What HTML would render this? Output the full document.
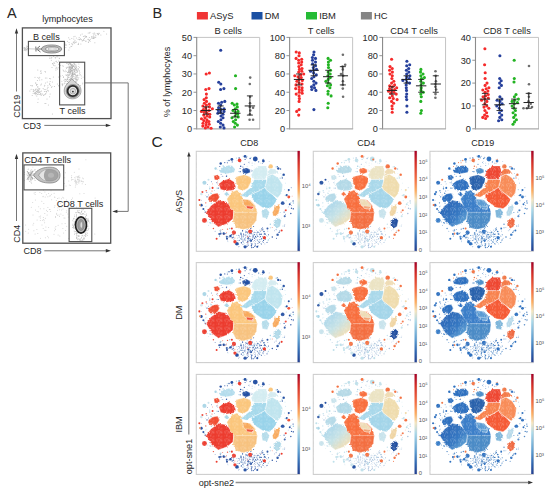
<!DOCTYPE html>
<html><head><meta charset="utf-8"><style>
html,body{margin:0;padding:0;background:#fff;width:550px;height:492px;overflow:hidden}
svg{display:block;font-family:"Liberation Sans",sans-serif}
</style></head><body>
<svg width="550" height="492" viewBox="0 0 550 492">
<text x="7" y="18.2" font-size="14.5" text-anchor="start" fill="#262626">A</text>
<text x="42.2" y="22" font-size="9.1" text-anchor="start" fill="#262626">lymphocytes</text>
<g fill="#8a8a8a" opacity="0.55"><circle cx="71.8" cy="38.5" r="0.5"/><circle cx="75.0" cy="40.2" r="0.5"/><circle cx="94.6" cy="37.7" r="0.5"/><circle cx="67.4" cy="41.3" r="0.5"/><circle cx="72.6" cy="44.8" r="0.5"/><circle cx="85.3" cy="37.2" r="0.5"/><circle cx="69.3" cy="44.3" r="0.5"/><circle cx="73.4" cy="42.2" r="0.5"/><circle cx="79.1" cy="37.5" r="0.5"/><circle cx="84.4" cy="38.6" r="0.5"/><circle cx="106.6" cy="33.9" r="0.5"/><circle cx="87.9" cy="39.2" r="0.5"/><circle cx="78.4" cy="44.4" r="0.5"/><circle cx="79.2" cy="39.2" r="0.5"/><circle cx="98.5" cy="34.4" r="0.5"/><circle cx="73.3" cy="42.0" r="0.5"/><circle cx="98.2" cy="34.8" r="0.5"/><circle cx="86.4" cy="36.5" r="0.5"/><circle cx="92.7" cy="38.2" r="0.5"/><circle cx="71.7" cy="46.4" r="0.5"/><circle cx="65.2" cy="42.9" r="0.5"/><circle cx="69.0" cy="42.4" r="0.5"/><circle cx="89.2" cy="40.0" r="0.5"/><circle cx="68.9" cy="50.0" r="0.5"/><circle cx="90.1" cy="41.3" r="0.5"/><circle cx="64.6" cy="46.5" r="0.5"/><circle cx="94.9" cy="42.7" r="0.5"/><circle cx="69.8" cy="47.7" r="0.5"/><circle cx="74.1" cy="43.0" r="0.5"/><circle cx="82.2" cy="40.8" r="0.5"/><circle cx="93.9" cy="34.8" r="0.5"/><circle cx="95.8" cy="36.9" r="0.5"/><circle cx="97.6" cy="33.4" r="0.5"/><circle cx="68.7" cy="37.8" r="0.5"/><circle cx="76.4" cy="42.0" r="0.5"/><circle cx="83.5" cy="39.3" r="0.5"/><circle cx="66.0" cy="45.1" r="0.5"/><circle cx="88.5" cy="42.2" r="0.5"/><circle cx="84.1" cy="40.3" r="0.5"/><circle cx="91.7" cy="38.1" r="0.5"/><circle cx="86.2" cy="36.5" r="0.5"/><circle cx="74.7" cy="41.8" r="0.5"/><circle cx="65.8" cy="47.4" r="0.5"/><circle cx="86.0" cy="40.9" r="0.5"/><circle cx="100.9" cy="34.9" r="0.5"/><circle cx="86.6" cy="37.0" r="0.5"/><circle cx="71.0" cy="46.2" r="0.5"/><circle cx="89.3" cy="37.5" r="0.5"/><circle cx="80.5" cy="38.8" r="0.5"/><circle cx="75.5" cy="42.2" r="0.5"/><circle cx="82.1" cy="34.1" r="0.5"/><circle cx="88.2" cy="32.9" r="0.5"/><circle cx="93.6" cy="38.1" r="0.5"/><circle cx="98.7" cy="33.3" r="0.5"/><circle cx="95.0" cy="34.0" r="0.5"/><circle cx="82.3" cy="40.7" r="0.5"/><circle cx="89.5" cy="40.4" r="0.5"/><circle cx="103.9" cy="31.3" r="0.5"/><circle cx="76.3" cy="38.1" r="0.5"/><circle cx="79.5" cy="39.8" r="0.5"/><circle cx="95.2" cy="37.6" r="0.5"/><circle cx="80.9" cy="44.1" r="0.5"/><circle cx="75.0" cy="36.3" r="0.5"/><circle cx="74.7" cy="43.1" r="0.5"/><circle cx="88.4" cy="39.3" r="0.5"/><circle cx="94.4" cy="32.9" r="0.5"/><circle cx="93.5" cy="38.6" r="0.5"/><circle cx="99.3" cy="33.3" r="0.5"/><circle cx="83.4" cy="40.2" r="0.5"/><circle cx="84.4" cy="35.9" r="0.5"/><circle cx="91.7" cy="36.8" r="0.5"/><circle cx="65.8" cy="44.6" r="0.5"/><circle cx="65.9" cy="45.2" r="0.5"/><circle cx="78.1" cy="44.5" r="0.5"/><circle cx="98.0" cy="34.5" r="0.5"/><circle cx="86.2" cy="36.6" r="0.5"/><circle cx="94.0" cy="36.7" r="0.5"/><circle cx="85.8" cy="41.3" r="0.5"/><circle cx="71.7" cy="43.8" r="0.5"/><circle cx="81.3" cy="39.6" r="0.5"/><circle cx="90.0" cy="32.2" r="0.5"/><circle cx="89.3" cy="40.5" r="0.5"/><circle cx="72.7" cy="44.0" r="0.5"/><circle cx="90.3" cy="39.2" r="0.5"/><circle cx="73.8" cy="39.0" r="0.5"/><circle cx="85.5" cy="36.1" r="0.5"/><circle cx="93.3" cy="35.9" r="0.5"/><circle cx="97.1" cy="33.5" r="0.5"/><circle cx="73.8" cy="36.7" r="0.5"/><circle cx="69.8" cy="39.3" r="0.5"/><circle cx="95.9" cy="35.5" r="0.5"/><circle cx="88.3" cy="42.0" r="0.5"/><circle cx="89.6" cy="33.1" r="0.5"/><circle cx="78.1" cy="39.3" r="0.5"/><circle cx="93.1" cy="33.3" r="0.5"/><circle cx="80.0" cy="39.5" r="0.5"/><circle cx="78.5" cy="43.2" r="0.5"/><circle cx="83.4" cy="36.5" r="0.5"/><circle cx="93.9" cy="38.4" r="0.5"/><circle cx="93.2" cy="37.6" r="0.5"/><circle cx="80.5" cy="35.1" r="0.5"/><circle cx="92.0" cy="36.8" r="0.5"/><circle cx="25.8" cy="48.3" r="0.5"/><circle cx="25.4" cy="49.9" r="0.5"/><circle cx="24.2" cy="50.4" r="0.5"/><circle cx="26.4" cy="47.2" r="0.5"/><circle cx="24.3" cy="49.6" r="0.5"/><circle cx="27.4" cy="46.4" r="0.5"/><circle cx="26.0" cy="50.8" r="0.5"/><circle cx="27.4" cy="48.2" r="0.5"/><circle cx="23.8" cy="48.1" r="0.5"/><circle cx="24.6" cy="48.3" r="0.5"/><circle cx="27.4" cy="48.2" r="0.5"/><circle cx="24.7" cy="48.1" r="0.5"/><circle cx="24.7" cy="49.8" r="0.5"/><circle cx="26.5" cy="49.4" r="0.5"/><circle cx="26.7" cy="46.1" r="0.5"/><circle cx="26.0" cy="50.1" r="0.5"/><circle cx="25.9" cy="48.2" r="0.5"/><circle cx="25.1" cy="48.2" r="0.5"/><circle cx="25.5" cy="49.3" r="0.5"/><circle cx="24.3" cy="47.5" r="0.5"/><circle cx="27.6" cy="49.7" r="0.5"/><circle cx="26.7" cy="49.5" r="0.5"/><circle cx="46.0" cy="91.3" r="0.5"/><circle cx="36.5" cy="84.4" r="0.5"/><circle cx="39.4" cy="91.8" r="0.5"/><circle cx="40.8" cy="85.1" r="0.5"/><circle cx="49.6" cy="96.8" r="0.5"/><circle cx="38.9" cy="78.5" r="0.5"/><circle cx="53.4" cy="77.1" r="0.5"/><circle cx="50.1" cy="81.4" r="0.5"/><circle cx="45.0" cy="71.4" r="0.5"/><circle cx="52.4" cy="82.0" r="0.5"/><circle cx="37.9" cy="102.6" r="0.5"/><circle cx="52.4" cy="114.1" r="0.5"/><circle cx="49.7" cy="83.2" r="0.5"/><circle cx="47.0" cy="98.9" r="0.5"/><circle cx="45.8" cy="89.6" r="0.5"/><circle cx="50.6" cy="78.7" r="0.5"/><circle cx="47.2" cy="82.0" r="0.5"/><circle cx="34.8" cy="93.0" r="0.5"/><circle cx="52.0" cy="86.6" r="0.5"/><circle cx="37.8" cy="70.0" r="0.5"/><circle cx="50.4" cy="85.2" r="0.5"/><circle cx="30.8" cy="85.5" r="0.5"/><circle cx="32.3" cy="85.8" r="0.5"/><circle cx="47.3" cy="88.8" r="0.5"/><circle cx="48.0" cy="87.4" r="0.5"/><circle cx="35.7" cy="82.9" r="0.5"/><circle cx="41.4" cy="84.1" r="0.5"/><circle cx="48.4" cy="91.0" r="0.5"/><circle cx="60.7" cy="65.5" r="0.5"/><circle cx="49.6" cy="84.4" r="0.5"/><circle cx="66.5" cy="93.5" r="0.5"/><circle cx="31.1" cy="89.2" r="0.5"/><circle cx="41.3" cy="93.9" r="0.5"/><circle cx="36.5" cy="85.2" r="0.5"/><circle cx="44.8" cy="85.2" r="0.5"/><circle cx="40.7" cy="71.3" r="0.5"/><circle cx="50.1" cy="94.0" r="0.5"/><circle cx="45.4" cy="77.9" r="0.5"/><circle cx="47.8" cy="90.5" r="0.5"/><circle cx="44.4" cy="85.9" r="0.5"/><circle cx="58.7" cy="77.1" r="0.5"/><circle cx="41.0" cy="70.8" r="0.5"/><circle cx="39.7" cy="80.1" r="0.5"/><circle cx="37.4" cy="80.4" r="0.5"/><circle cx="62.2" cy="84.4" r="0.5"/><circle cx="45.0" cy="103.6" r="0.5"/><circle cx="45.5" cy="72.1" r="0.5"/><circle cx="49.6" cy="78.5" r="0.5"/><circle cx="60.7" cy="76.0" r="0.5"/><circle cx="40.8" cy="73.2" r="0.5"/><circle cx="46.9" cy="77.9" r="0.5"/><circle cx="45.4" cy="83.0" r="0.5"/><circle cx="40.5" cy="93.5" r="0.5"/><circle cx="54.4" cy="86.5" r="0.5"/><circle cx="37.9" cy="77.4" r="0.5"/><circle cx="48.4" cy="105.1" r="0.5"/><circle cx="41.9" cy="79.7" r="0.5"/><circle cx="39.7" cy="77.2" r="0.5"/><circle cx="37.2" cy="84.4" r="0.5"/><circle cx="58.9" cy="86.0" r="0.5"/><circle cx="41.4" cy="73.1" r="0.5"/><circle cx="47.9" cy="85.8" r="0.5"/><circle cx="35.0" cy="77.3" r="0.5"/><circle cx="45.6" cy="94.1" r="0.5"/><circle cx="51.6" cy="87.6" r="0.5"/><circle cx="43.1" cy="88.6" r="0.5"/><circle cx="45.9" cy="103.4" r="0.5"/><circle cx="35.8" cy="83.1" r="0.5"/><circle cx="57.4" cy="83.9" r="0.5"/><circle cx="58.8" cy="85.6" r="0.5"/><circle cx="38.5" cy="91.1" r="0.5"/><circle cx="33.2" cy="89.6" r="0.5"/><circle cx="45.8" cy="93.6" r="0.5"/><circle cx="40.1" cy="94.4" r="0.5"/><circle cx="40.0" cy="94.6" r="0.5"/><circle cx="37.1" cy="91.4" r="0.5"/><circle cx="41.4" cy="91.1" r="0.5"/><circle cx="33.3" cy="91.4" r="0.5"/><circle cx="36.1" cy="93.5" r="0.5"/><circle cx="35.5" cy="89.3" r="0.5"/><circle cx="36.8" cy="95.9" r="0.5"/><circle cx="37.8" cy="92.4" r="0.5"/><circle cx="38.0" cy="92.7" r="0.5"/><circle cx="41.2" cy="95.5" r="0.5"/><circle cx="32.2" cy="95.4" r="0.5"/><circle cx="38.0" cy="91.2" r="0.5"/><circle cx="46.4" cy="91.6" r="0.5"/><circle cx="44.8" cy="94.4" r="0.5"/><circle cx="34.4" cy="93.2" r="0.5"/><circle cx="40.6" cy="91.7" r="0.5"/><circle cx="29.9" cy="91.1" r="0.5"/><circle cx="37.3" cy="89.2" r="0.5"/><circle cx="44.4" cy="91.4" r="0.5"/><circle cx="36.6" cy="91.3" r="0.5"/><circle cx="35.3" cy="90.1" r="0.5"/><circle cx="38.3" cy="92.8" r="0.5"/><circle cx="36.2" cy="91.8" r="0.5"/><circle cx="33.1" cy="93.3" r="0.5"/><circle cx="35.4" cy="92.5" r="0.5"/><circle cx="34.8" cy="90.7" r="0.5"/><circle cx="38.8" cy="89.0" r="0.5"/><circle cx="46.6" cy="91.9" r="0.5"/><circle cx="37.7" cy="90.2" r="0.5"/><circle cx="43.6" cy="95.5" r="0.5"/><circle cx="39.0" cy="88.6" r="0.5"/><circle cx="36.2" cy="93.5" r="0.5"/><circle cx="36.2" cy="89.0" r="0.5"/><circle cx="33.8" cy="90.1" r="0.5"/><circle cx="38.0" cy="90.4" r="0.5"/><circle cx="38.1" cy="99.0" r="0.5"/><circle cx="44.2" cy="89.4" r="0.5"/><circle cx="39.2" cy="92.2" r="0.5"/><circle cx="37.5" cy="94.6" r="0.5"/><circle cx="36.8" cy="91.2" r="0.5"/><circle cx="36.7" cy="91.7" r="0.5"/><circle cx="42.5" cy="93.9" r="0.5"/><circle cx="33.3" cy="90.9" r="0.5"/><circle cx="35.2" cy="94.0" r="0.5"/><circle cx="38.8" cy="94.2" r="0.5"/><circle cx="37.8" cy="87.2" r="0.5"/><circle cx="39.6" cy="92.6" r="0.5"/><circle cx="39.8" cy="88.7" r="0.5"/><circle cx="38.3" cy="90.3" r="0.5"/><circle cx="35.6" cy="92.9" r="0.5"/><circle cx="39.2" cy="89.8" r="0.5"/><circle cx="32.0" cy="85.8" r="0.5"/><circle cx="36.0" cy="94.8" r="0.5"/><circle cx="37.8" cy="86.4" r="0.5"/><circle cx="35.0" cy="93.1" r="0.5"/><circle cx="43.9" cy="94.9" r="0.5"/><circle cx="56.1" cy="61.2" r="0.5"/><circle cx="51.8" cy="57.3" r="0.5"/><circle cx="55.2" cy="57.6" r="0.5"/><circle cx="56.0" cy="68.6" r="0.5"/><circle cx="57.2" cy="62.5" r="0.5"/><circle cx="54.7" cy="63.3" r="0.5"/><circle cx="52.0" cy="67.5" r="0.5"/><circle cx="54.0" cy="62.2" r="0.5"/><circle cx="57.8" cy="56.7" r="0.5"/><circle cx="53.8" cy="65.5" r="0.5"/><circle cx="55.0" cy="65.7" r="0.5"/><circle cx="53.1" cy="64.3" r="0.5"/><circle cx="52.6" cy="63.6" r="0.5"/><circle cx="56.3" cy="67.3" r="0.5"/><circle cx="57.3" cy="69.1" r="0.5"/><circle cx="56.8" cy="56.7" r="0.5"/><circle cx="58.6" cy="61.0" r="0.5"/><circle cx="51.3" cy="57.9" r="0.5"/><circle cx="59.3" cy="58.2" r="0.5"/><circle cx="55.4" cy="57.9" r="0.5"/><circle cx="49.9" cy="56.9" r="0.5"/><circle cx="56.1" cy="61.2" r="0.5"/><circle cx="58.7" cy="64.3" r="0.5"/><circle cx="58.1" cy="67.8" r="0.5"/><circle cx="53.7" cy="56.4" r="0.5"/><circle cx="55.9" cy="70.0" r="0.5"/><circle cx="49.9" cy="58.6" r="0.5"/><circle cx="52.9" cy="63.4" r="0.5"/><circle cx="59.4" cy="58.2" r="0.5"/><circle cx="51.3" cy="60.3" r="0.5"/></g>
<g fill="#5a5a5a" opacity="0.5"><circle cx="63.0" cy="84.0" r="0.45"/><circle cx="76.8" cy="78.3" r="0.45"/><circle cx="75.5" cy="82.6" r="0.45"/><circle cx="62.1" cy="83.4" r="0.45"/><circle cx="67.5" cy="85.0" r="0.45"/><circle cx="67.3" cy="79.3" r="0.45"/><circle cx="67.2" cy="81.5" r="0.45"/><circle cx="73.5" cy="66.4" r="0.45"/><circle cx="76.9" cy="80.0" r="0.45"/><circle cx="71.8" cy="66.9" r="0.45"/><circle cx="69.6" cy="67.7" r="0.45"/><circle cx="74.2" cy="85.3" r="0.45"/><circle cx="71.5" cy="64.4" r="0.45"/><circle cx="74.2" cy="77.9" r="0.45"/><circle cx="72.8" cy="80.8" r="0.45"/><circle cx="73.3" cy="73.6" r="0.45"/><circle cx="73.0" cy="76.4" r="0.45"/><circle cx="71.6" cy="65.5" r="0.45"/><circle cx="72.5" cy="67.2" r="0.45"/><circle cx="75.6" cy="79.5" r="0.45"/><circle cx="72.5" cy="76.7" r="0.45"/><circle cx="74.2" cy="69.5" r="0.45"/><circle cx="72.1" cy="67.0" r="0.45"/><circle cx="68.2" cy="75.6" r="0.45"/><circle cx="67.9" cy="81.8" r="0.45"/><circle cx="72.6" cy="83.4" r="0.45"/><circle cx="68.1" cy="84.0" r="0.45"/><circle cx="78.1" cy="85.0" r="0.45"/><circle cx="72.2" cy="74.1" r="0.45"/><circle cx="73.8" cy="84.8" r="0.45"/><circle cx="67.2" cy="81.4" r="0.45"/><circle cx="75.5" cy="74.9" r="0.45"/><circle cx="77.0" cy="69.3" r="0.45"/><circle cx="71.7" cy="68.5" r="0.45"/><circle cx="69.6" cy="63.3" r="0.45"/><circle cx="72.9" cy="81.3" r="0.45"/><circle cx="69.7" cy="79.4" r="0.45"/><circle cx="70.9" cy="66.6" r="0.45"/><circle cx="71.6" cy="70.4" r="0.45"/><circle cx="80.6" cy="74.9" r="0.45"/><circle cx="75.7" cy="77.7" r="0.45"/><circle cx="71.9" cy="75.3" r="0.45"/><circle cx="72.0" cy="66.5" r="0.45"/><circle cx="71.7" cy="81.9" r="0.45"/><circle cx="73.0" cy="82.5" r="0.45"/><circle cx="70.7" cy="69.2" r="0.45"/><circle cx="76.7" cy="79.5" r="0.45"/><circle cx="74.7" cy="73.8" r="0.45"/><circle cx="62.2" cy="85.0" r="0.45"/><circle cx="68.4" cy="70.0" r="0.45"/><circle cx="61.9" cy="81.2" r="0.45"/><circle cx="75.1" cy="65.1" r="0.45"/><circle cx="73.7" cy="82.0" r="0.45"/><circle cx="77.2" cy="75.1" r="0.45"/><circle cx="73.3" cy="66.6" r="0.45"/><circle cx="69.3" cy="70.1" r="0.45"/><circle cx="70.9" cy="64.7" r="0.45"/><circle cx="77.2" cy="79.4" r="0.45"/><circle cx="71.3" cy="71.3" r="0.45"/><circle cx="70.3" cy="72.1" r="0.45"/><circle cx="79.5" cy="73.6" r="0.45"/><circle cx="70.2" cy="78.0" r="0.45"/><circle cx="69.1" cy="63.3" r="0.45"/><circle cx="75.6" cy="68.5" r="0.45"/><circle cx="71.4" cy="76.0" r="0.45"/><circle cx="72.2" cy="85.8" r="0.45"/><circle cx="74.0" cy="81.4" r="0.45"/><circle cx="76.7" cy="69.7" r="0.45"/><circle cx="68.9" cy="71.6" r="0.45"/><circle cx="71.2" cy="70.8" r="0.45"/><circle cx="70.5" cy="72.0" r="0.45"/><circle cx="69.9" cy="67.6" r="0.45"/><circle cx="66.2" cy="79.8" r="0.45"/><circle cx="81.4" cy="75.9" r="0.45"/><circle cx="67.4" cy="79.6" r="0.45"/><circle cx="76.6" cy="65.1" r="0.45"/><circle cx="75.7" cy="66.2" r="0.45"/><circle cx="76.2" cy="79.3" r="0.45"/><circle cx="67.1" cy="67.1" r="0.45"/><circle cx="77.0" cy="76.6" r="0.45"/><circle cx="72.2" cy="65.1" r="0.45"/><circle cx="73.7" cy="65.9" r="0.45"/><circle cx="79.9" cy="72.4" r="0.45"/><circle cx="75.9" cy="72.8" r="0.45"/><circle cx="67.6" cy="74.8" r="0.45"/><circle cx="64.7" cy="81.9" r="0.45"/><circle cx="70.1" cy="71.9" r="0.45"/><circle cx="74.3" cy="63.4" r="0.45"/><circle cx="68.6" cy="72.2" r="0.45"/><circle cx="71.3" cy="78.2" r="0.45"/><circle cx="71.6" cy="70.6" r="0.45"/><circle cx="71.0" cy="70.9" r="0.45"/><circle cx="70.5" cy="71.7" r="0.45"/><circle cx="73.9" cy="74.7" r="0.45"/><circle cx="63.6" cy="77.1" r="0.45"/><circle cx="72.7" cy="66.6" r="0.45"/><circle cx="62.6" cy="75.6" r="0.45"/><circle cx="69.9" cy="71.1" r="0.45"/><circle cx="72.0" cy="79.4" r="0.45"/><circle cx="62.7" cy="85.7" r="0.45"/><circle cx="71.1" cy="82.2" r="0.45"/><circle cx="76.2" cy="67.5" r="0.45"/><circle cx="70.5" cy="67.6" r="0.45"/><circle cx="72.1" cy="64.9" r="0.45"/><circle cx="78.4" cy="79.0" r="0.45"/><circle cx="75.1" cy="70.6" r="0.45"/><circle cx="70.3" cy="73.6" r="0.45"/><circle cx="73.6" cy="65.9" r="0.45"/><circle cx="71.5" cy="83.8" r="0.45"/><circle cx="66.8" cy="75.5" r="0.45"/><circle cx="70.4" cy="69.1" r="0.45"/><circle cx="82.4" cy="83.9" r="0.45"/><circle cx="71.6" cy="76.8" r="0.45"/><circle cx="73.1" cy="65.8" r="0.45"/><circle cx="67.9" cy="83.6" r="0.45"/><circle cx="66.4" cy="68.5" r="0.45"/><circle cx="69.4" cy="67.3" r="0.45"/><circle cx="73.0" cy="75.6" r="0.45"/><circle cx="72.4" cy="67.1" r="0.45"/><circle cx="80.0" cy="85.7" r="0.45"/><circle cx="70.1" cy="70.1" r="0.45"/><circle cx="71.6" cy="78.4" r="0.45"/><circle cx="67.6" cy="76.6" r="0.45"/><circle cx="75.5" cy="81.5" r="0.45"/><circle cx="72.3" cy="73.8" r="0.45"/><circle cx="69.1" cy="66.3" r="0.45"/><circle cx="74.6" cy="67.0" r="0.45"/><circle cx="71.5" cy="75.0" r="0.45"/><circle cx="76.7" cy="70.6" r="0.45"/><circle cx="78.8" cy="77.8" r="0.45"/><circle cx="73.1" cy="66.3" r="0.45"/><circle cx="66.7" cy="85.1" r="0.45"/><circle cx="69.4" cy="72.5" r="0.45"/><circle cx="69.1" cy="77.3" r="0.45"/><circle cx="64.0" cy="80.3" r="0.45"/><circle cx="80.0" cy="74.2" r="0.45"/><circle cx="71.6" cy="82.7" r="0.45"/><circle cx="67.4" cy="72.4" r="0.45"/><circle cx="74.9" cy="83.8" r="0.45"/><circle cx="67.5" cy="75.1" r="0.45"/><circle cx="71.1" cy="83.8" r="0.45"/><circle cx="77.5" cy="70.4" r="0.45"/><circle cx="75.0" cy="83.7" r="0.45"/><circle cx="65.1" cy="79.8" r="0.45"/><circle cx="68.6" cy="70.0" r="0.45"/><circle cx="74.1" cy="76.6" r="0.45"/><circle cx="72.9" cy="73.3" r="0.45"/><circle cx="70.9" cy="74.6" r="0.45"/><circle cx="73.0" cy="79.0" r="0.45"/><circle cx="72.3" cy="75.1" r="0.45"/><circle cx="75.3" cy="72.1" r="0.45"/><circle cx="78.6" cy="68.4" r="0.45"/><circle cx="77.4" cy="85.2" r="0.45"/><circle cx="75.4" cy="78.3" r="0.45"/><circle cx="67.9" cy="81.5" r="0.45"/><circle cx="71.9" cy="68.1" r="0.45"/><circle cx="64.7" cy="83.8" r="0.45"/><circle cx="72.4" cy="65.3" r="0.45"/><circle cx="69.8" cy="75.4" r="0.45"/><circle cx="76.3" cy="84.9" r="0.45"/><circle cx="72.0" cy="69.9" r="0.45"/><circle cx="79.1" cy="70.5" r="0.45"/><circle cx="76.3" cy="81.8" r="0.45"/><circle cx="68.8" cy="72.1" r="0.45"/><circle cx="74.8" cy="64.1" r="0.45"/><circle cx="73.8" cy="63.7" r="0.45"/><circle cx="69.8" cy="74.5" r="0.45"/><circle cx="78.4" cy="84.5" r="0.45"/><circle cx="71.5" cy="67.7" r="0.45"/><circle cx="78.6" cy="69.8" r="0.45"/><circle cx="68.8" cy="67.5" r="0.45"/><circle cx="68.3" cy="82.3" r="0.45"/><circle cx="74.8" cy="67.0" r="0.45"/><circle cx="75.7" cy="83.2" r="0.45"/><circle cx="71.9" cy="77.5" r="0.45"/><circle cx="72.7" cy="67.4" r="0.45"/><circle cx="71.4" cy="65.4" r="0.45"/><circle cx="67.9" cy="79.7" r="0.45"/><circle cx="82.9" cy="83.0" r="0.45"/><circle cx="77.1" cy="79.4" r="0.45"/><circle cx="78.6" cy="84.6" r="0.45"/><circle cx="74.5" cy="73.2" r="0.45"/><circle cx="73.2" cy="70.1" r="0.45"/><circle cx="73.0" cy="79.3" r="0.45"/><circle cx="74.0" cy="68.4" r="0.45"/><circle cx="73.2" cy="78.3" r="0.45"/><circle cx="67.5" cy="78.2" r="0.45"/><circle cx="68.6" cy="83.3" r="0.45"/><circle cx="70.6" cy="69.9" r="0.45"/><circle cx="69.7" cy="84.3" r="0.45"/><circle cx="68.7" cy="77.7" r="0.45"/><circle cx="75.0" cy="65.1" r="0.45"/><circle cx="71.5" cy="75.2" r="0.45"/><circle cx="77.6" cy="75.2" r="0.45"/><circle cx="73.3" cy="69.5" r="0.45"/><circle cx="72.5" cy="68.8" r="0.45"/><circle cx="70.6" cy="69.6" r="0.45"/><circle cx="72.1" cy="80.4" r="0.45"/><circle cx="75.6" cy="75.6" r="0.45"/><circle cx="79.4" cy="67.3" r="0.45"/><circle cx="67.3" cy="63.8" r="0.45"/><circle cx="72.0" cy="73.6" r="0.45"/><circle cx="66.4" cy="84.4" r="0.45"/><circle cx="74.3" cy="74.5" r="0.45"/><circle cx="77.4" cy="77.8" r="0.45"/><circle cx="68.4" cy="71.3" r="0.45"/><circle cx="65.7" cy="74.9" r="0.45"/><circle cx="75.6" cy="74.6" r="0.45"/><circle cx="66.6" cy="75.0" r="0.45"/><circle cx="76.6" cy="84.9" r="0.45"/><circle cx="76.7" cy="66.8" r="0.45"/><circle cx="72.5" cy="77.0" r="0.45"/><circle cx="77.5" cy="80.8" r="0.45"/><circle cx="73.0" cy="81.1" r="0.45"/><circle cx="69.0" cy="74.2" r="0.45"/><circle cx="68.6" cy="68.1" r="0.45"/><circle cx="70.5" cy="63.8" r="0.45"/><circle cx="70.7" cy="76.7" r="0.45"/><circle cx="65.0" cy="83.1" r="0.45"/><circle cx="72.3" cy="67.1" r="0.45"/><circle cx="72.7" cy="74.4" r="0.45"/><circle cx="69.1" cy="73.0" r="0.45"/><circle cx="73.5" cy="81.4" r="0.45"/><circle cx="75.0" cy="64.7" r="0.45"/><circle cx="68.9" cy="75.5" r="0.45"/><circle cx="72.2" cy="81.2" r="0.45"/><circle cx="74.0" cy="70.2" r="0.45"/><circle cx="70.5" cy="64.0" r="0.45"/><circle cx="77.5" cy="75.1" r="0.45"/><circle cx="70.8" cy="69.1" r="0.45"/><circle cx="70.8" cy="81.9" r="0.45"/><circle cx="71.9" cy="66.9" r="0.45"/><circle cx="74.9" cy="78.9" r="0.45"/><circle cx="72.4" cy="82.1" r="0.45"/><circle cx="70.6" cy="72.4" r="0.45"/><circle cx="74.1" cy="71.4" r="0.45"/><circle cx="78.9" cy="64.0" r="0.45"/><circle cx="72.9" cy="74.3" r="0.45"/><circle cx="63.2" cy="66.3" r="0.45"/><circle cx="72.0" cy="73.5" r="0.45"/><circle cx="71.1" cy="68.5" r="0.45"/><circle cx="75.5" cy="83.5" r="0.45"/><circle cx="74.7" cy="69.9" r="0.45"/><circle cx="72.9" cy="72.8" r="0.45"/><circle cx="72.7" cy="85.9" r="0.45"/><circle cx="71.6" cy="80.6" r="0.45"/><circle cx="69.6" cy="68.8" r="0.45"/><circle cx="72.3" cy="75.7" r="0.45"/><circle cx="78.4" cy="84.4" r="0.45"/><circle cx="66.5" cy="71.4" r="0.45"/><circle cx="83.1" cy="77.1" r="0.45"/><circle cx="68.9" cy="63.9" r="0.45"/><circle cx="74.2" cy="64.3" r="0.45"/><circle cx="69.5" cy="70.9" r="0.45"/><circle cx="63.5" cy="76.6" r="0.45"/><circle cx="66.6" cy="83.4" r="0.45"/><circle cx="73.3" cy="82.4" r="0.45"/><circle cx="72.5" cy="71.8" r="0.45"/><circle cx="69.5" cy="71.0" r="0.45"/><circle cx="70.2" cy="67.2" r="0.45"/><circle cx="71.4" cy="67.7" r="0.45"/><circle cx="69.3" cy="67.9" r="0.45"/><circle cx="72.7" cy="73.3" r="0.45"/><circle cx="66.9" cy="85.8" r="0.45"/><circle cx="66.2" cy="67.7" r="0.45"/><circle cx="77.3" cy="71.8" r="0.45"/><circle cx="74.5" cy="71.3" r="0.45"/><circle cx="74.2" cy="69.3" r="0.45"/><circle cx="72.3" cy="69.0" r="0.45"/><circle cx="77.4" cy="72.0" r="0.45"/><circle cx="69.5" cy="69.2" r="0.45"/><circle cx="77.0" cy="71.3" r="0.45"/><circle cx="79.2" cy="71.3" r="0.45"/><circle cx="70.1" cy="80.6" r="0.45"/><circle cx="66.5" cy="63.5" r="0.45"/><circle cx="70.9" cy="70.4" r="0.45"/><circle cx="73.5" cy="83.3" r="0.45"/><circle cx="72.6" cy="70.5" r="0.45"/><circle cx="68.8" cy="64.3" r="0.45"/><circle cx="72.1" cy="72.1" r="0.45"/><circle cx="72.9" cy="66.5" r="0.45"/><circle cx="75.9" cy="76.7" r="0.45"/><circle cx="72.7" cy="72.8" r="0.45"/><circle cx="76.5" cy="75.5" r="0.45"/><circle cx="76.0" cy="69.0" r="0.45"/><circle cx="70.6" cy="79.7" r="0.45"/><circle cx="70.4" cy="67.7" r="0.45"/><circle cx="71.2" cy="69.4" r="0.45"/><circle cx="68.2" cy="71.9" r="0.45"/><circle cx="72.7" cy="82.9" r="0.45"/><circle cx="75.0" cy="70.9" r="0.45"/><circle cx="72.7" cy="68.0" r="0.45"/><circle cx="72.3" cy="77.5" r="0.45"/><circle cx="76.4" cy="76.0" r="0.45"/><circle cx="63.0" cy="69.9" r="0.45"/><circle cx="74.9" cy="78.4" r="0.45"/><circle cx="70.3" cy="78.9" r="0.45"/><circle cx="81.3" cy="78.3" r="0.45"/><circle cx="70.1" cy="68.4" r="0.45"/><circle cx="76.2" cy="77.5" r="0.45"/><circle cx="74.2" cy="72.0" r="0.45"/><circle cx="70.2" cy="64.4" r="0.45"/><circle cx="74.5" cy="74.4" r="0.45"/><circle cx="73.9" cy="69.4" r="0.45"/><circle cx="75.5" cy="73.9" r="0.45"/><circle cx="70.8" cy="66.8" r="0.45"/><circle cx="70.2" cy="65.1" r="0.45"/><circle cx="70.1" cy="70.9" r="0.45"/><circle cx="73.2" cy="76.4" r="0.45"/><circle cx="64.8" cy="79.1" r="0.45"/><circle cx="70.7" cy="63.5" r="0.45"/><circle cx="71.1" cy="72.0" r="0.45"/><circle cx="73.1" cy="72.3" r="0.45"/><circle cx="68.4" cy="64.3" r="0.45"/><circle cx="72.2" cy="73.8" r="0.45"/><circle cx="72.0" cy="70.5" r="0.45"/><circle cx="72.8" cy="71.0" r="0.45"/><circle cx="68.0" cy="83.5" r="0.45"/><circle cx="70.5" cy="78.4" r="0.45"/><circle cx="67.7" cy="67.3" r="0.45"/><circle cx="73.5" cy="85.0" r="0.45"/><circle cx="64.0" cy="71.3" r="0.45"/><circle cx="66.3" cy="80.7" r="0.45"/><circle cx="68.5" cy="77.4" r="0.45"/><circle cx="69.2" cy="72.6" r="0.45"/><circle cx="75.4" cy="69.4" r="0.45"/><circle cx="65.1" cy="71.8" r="0.45"/><circle cx="75.0" cy="83.9" r="0.45"/><circle cx="72.5" cy="74.7" r="0.45"/><circle cx="65.7" cy="70.1" r="0.45"/><circle cx="78.4" cy="66.4" r="0.45"/><circle cx="72.6" cy="67.4" r="0.45"/><circle cx="77.0" cy="68.4" r="0.45"/><circle cx="69.6" cy="63.0" r="0.45"/><circle cx="71.1" cy="68.5" r="0.45"/><circle cx="68.9" cy="74.4" r="0.45"/><circle cx="67.3" cy="77.4" r="0.45"/><circle cx="77.7" cy="75.9" r="0.45"/><circle cx="63.6" cy="70.7" r="0.45"/><circle cx="74.4" cy="71.0" r="0.45"/><circle cx="69.2" cy="79.5" r="0.45"/><circle cx="67.1" cy="79.0" r="0.45"/><circle cx="69.4" cy="66.7" r="0.45"/><circle cx="68.4" cy="76.0" r="0.45"/><circle cx="70.6" cy="71.5" r="0.45"/><circle cx="79.0" cy="75.3" r="0.45"/><circle cx="72.0" cy="68.5" r="0.45"/><circle cx="74.8" cy="67.1" r="0.45"/><circle cx="73.1" cy="74.8" r="0.45"/><circle cx="72.7" cy="64.6" r="0.45"/><circle cx="71.6" cy="65.4" r="0.45"/><circle cx="70.1" cy="73.4" r="0.45"/><circle cx="68.9" cy="80.8" r="0.45"/><circle cx="72.4" cy="82.9" r="0.45"/><circle cx="76.0" cy="83.0" r="0.45"/><circle cx="73.1" cy="74.7" r="0.45"/><circle cx="65.5" cy="81.3" r="0.45"/><circle cx="75.3" cy="68.8" r="0.45"/><circle cx="69.9" cy="79.5" r="0.45"/><circle cx="76.1" cy="80.5" r="0.45"/><circle cx="75.3" cy="82.4" r="0.45"/><circle cx="67.5" cy="72.7" r="0.45"/><circle cx="65.3" cy="79.3" r="0.45"/><circle cx="65.1" cy="81.4" r="0.45"/><circle cx="68.9" cy="65.9" r="0.45"/><circle cx="75.4" cy="68.3" r="0.45"/><circle cx="76.1" cy="67.2" r="0.45"/><circle cx="72.7" cy="84.6" r="0.45"/><circle cx="78.0" cy="85.3" r="0.45"/><circle cx="76.5" cy="72.6" r="0.45"/><circle cx="63.3" cy="77.5" r="0.45"/><circle cx="80.3" cy="85.7" r="0.45"/><circle cx="71.7" cy="64.1" r="0.45"/><circle cx="70.7" cy="64.0" r="0.45"/><circle cx="70.7" cy="69.6" r="0.45"/><circle cx="62.8" cy="65.8" r="0.45"/><circle cx="76.5" cy="70.6" r="0.45"/><circle cx="72.9" cy="74.1" r="0.45"/></g>
<ellipse cx="51.6" cy="49" rx="10.2" ry="4.1" fill="#bdbdbd" stroke="#777" stroke-width="0.7"/>
<ellipse cx="52.2" cy="49" rx="6.8" ry="2.3" fill="#f2f2f2" stroke="#666" stroke-width="0.6"/>
<ellipse cx="52.2" cy="49" rx="4.3" ry="1.3" fill="none" stroke="#888" stroke-width="0.5"/>
<path d="M35.8 46.5 L36 51.5 M36.5 49 L40 46 M36.5 49 L40.5 52 M38 49 L42 49" stroke="#666" stroke-width="0.9" fill="none"/>
<path d="M29 48.8 L35 49" stroke="#aaa" stroke-width="0.6"/>
<path d="M71.8 78.6 C 75 83, 81 84.5, 81 90.8 C 81 96, 77 98.8, 72.5 98.8 C 67.8 98.8, 64.2 95.8, 64.2 90.8 C 64.2 85, 69 83, 71.8 78.6 Z" fill="#d6d6d6" stroke="#888" stroke-width="0.7"/>
<circle cx="72.8" cy="91" r="6.6" fill="#aaa" stroke="#777" stroke-width="0.6"/>
<circle cx="72.8" cy="91" r="5.2" fill="#e8e8e8" stroke="#2a2a2a" stroke-width="1.8"/>
<circle cx="72.9" cy="91.2" r="2.8" fill="#ddd" stroke="#888" stroke-width="0.5"/>
<circle cx="72.9" cy="91.6" r="0.9" fill="#333"/>
<rect x="22.4" y="27.9" width="88.6" height="90.7" stroke="#505050" stroke-width="1.3" fill="none"/>
<rect x="28.4" y="41.4" width="36" height="14.2" stroke="#505050" stroke-width="1.1" fill="none"/>
<rect x="59.6" y="62.2" width="25.1" height="42.7" stroke="#505050" stroke-width="1.1" fill="none"/>
<text x="32.9" y="40.3" font-size="9.1" text-anchor="start" fill="#262626">B cells</text>
<text x="59.6" y="114.3" font-size="9.0" text-anchor="start" fill="#262626">T cells</text>
<line x1="16.5" y1="33" x2="16.5" y2="91.5" stroke="#666" stroke-width="0.9"/>
<path d="M16.5 28.3 L14.8 33.4 L18.2 33.4 Z" fill="#333"/>
<text x="20.0" y="106.3" font-size="9" text-anchor="middle" fill="#262626" transform="rotate(-90 20.0 106.3)">CD19</text>
<text x="23" y="128.5" font-size="9" text-anchor="start" fill="#262626">CD3</text>
<line x1="44.3" y1="125.4" x2="106" y2="125.4" stroke="#666" stroke-width="0.9"/>
<path d="M111 125.4 L105.8 123.7 L105.8 127.1 Z" fill="#333"/>
<polyline points="84.7,82.9 128.2,82.9 128.2,211.4 117,211.4" fill="none" stroke="#666" stroke-width="0.9"/>
<path d="M112.3 211.4 L117.4 209.7 L117.4 213.1 Z" fill="#333"/>
<g fill="#999" opacity="0.45"><circle cx="42.4" cy="220.3" r="0.5"/><circle cx="48.6" cy="227.5" r="0.5"/><circle cx="67.8" cy="205.6" r="0.5"/><circle cx="54.8" cy="197.3" r="0.5"/><circle cx="55.5" cy="216.5" r="0.5"/><circle cx="63.1" cy="201.8" r="0.5"/><circle cx="43.9" cy="208.7" r="0.5"/><circle cx="50.6" cy="211.5" r="0.5"/><circle cx="43.8" cy="203.5" r="0.5"/><circle cx="43.0" cy="196.7" r="0.5"/><circle cx="54.6" cy="230.7" r="0.5"/><circle cx="43.7" cy="219.6" r="0.5"/><circle cx="57.5" cy="210.3" r="0.5"/><circle cx="62.8" cy="197.3" r="0.5"/><circle cx="60.9" cy="214.0" r="0.5"/><circle cx="35.5" cy="210.0" r="0.5"/><circle cx="85.9" cy="159.7" r="0.5"/><circle cx="50.4" cy="195.7" r="0.5"/><circle cx="61.6" cy="210.0" r="0.5"/><circle cx="56.6" cy="213.3" r="0.5"/><circle cx="35.1" cy="233.9" r="0.5"/><circle cx="44.9" cy="230.3" r="0.5"/><circle cx="63.0" cy="208.9" r="0.5"/><circle cx="54.3" cy="207.2" r="0.5"/><circle cx="28.7" cy="229.3" r="0.5"/><circle cx="64.8" cy="177.8" r="0.5"/><circle cx="59.3" cy="207.2" r="0.5"/><circle cx="67.4" cy="201.8" r="0.5"/><circle cx="48.6" cy="193.4" r="0.5"/><circle cx="54.9" cy="205.7" r="0.5"/><circle cx="41.8" cy="201.3" r="0.5"/><circle cx="40.3" cy="220.4" r="0.5"/><circle cx="36.9" cy="229.4" r="0.5"/><circle cx="44.1" cy="220.8" r="0.5"/><circle cx="63.7" cy="198.1" r="0.5"/><circle cx="64.0" cy="218.1" r="0.5"/><circle cx="51.4" cy="194.2" r="0.5"/><circle cx="47.8" cy="196.7" r="0.5"/><circle cx="59.0" cy="214.9" r="0.5"/><circle cx="42.0" cy="225.1" r="0.5"/><circle cx="40.4" cy="218.1" r="0.5"/><circle cx="40.5" cy="238.2" r="0.5"/><circle cx="55.1" cy="228.1" r="0.5"/><circle cx="49.3" cy="196.0" r="0.5"/><circle cx="48.5" cy="237.8" r="0.5"/><circle cx="65.4" cy="202.3" r="0.5"/><circle cx="58.1" cy="225.2" r="0.5"/><circle cx="61.0" cy="207.3" r="0.5"/><circle cx="41.7" cy="193.4" r="0.5"/><circle cx="45.2" cy="197.1" r="0.5"/><circle cx="66.0" cy="185.9" r="0.5"/><circle cx="31.3" cy="207.2" r="0.5"/><circle cx="43.5" cy="190.0" r="0.5"/><circle cx="43.3" cy="217.6" r="0.5"/><circle cx="35.2" cy="192.6" r="0.5"/><circle cx="47.9" cy="207.5" r="0.5"/><circle cx="39.9" cy="192.4" r="0.5"/><circle cx="34.1" cy="193.1" r="0.5"/><circle cx="60.4" cy="203.2" r="0.5"/><circle cx="51.0" cy="190.7" r="0.5"/><circle cx="25.7" cy="231.2" r="0.5"/><circle cx="40.3" cy="208.8" r="0.5"/><circle cx="64.4" cy="183.6" r="0.5"/><circle cx="79.8" cy="193.7" r="0.5"/><circle cx="57.9" cy="207.7" r="0.5"/><circle cx="69.3" cy="185.0" r="0.5"/><circle cx="33.0" cy="215.1" r="0.5"/><circle cx="59.0" cy="198.1" r="0.5"/><circle cx="47.7" cy="236.2" r="0.5"/><circle cx="68.8" cy="180.9" r="0.5"/><circle cx="54.7" cy="197.0" r="0.5"/><circle cx="47.1" cy="214.9" r="0.5"/><circle cx="66.3" cy="212.2" r="0.5"/><circle cx="72.0" cy="179.6" r="0.5"/><circle cx="59.5" cy="216.5" r="0.5"/><circle cx="28.2" cy="233.1" r="0.5"/><circle cx="94.8" cy="233.9" r="0.5"/><circle cx="58.1" cy="235.1" r="0.5"/><circle cx="70.4" cy="185.4" r="0.5"/><circle cx="59.8" cy="236.1" r="0.5"/><circle cx="49.4" cy="209.5" r="0.5"/><circle cx="44.6" cy="222.7" r="0.5"/><circle cx="43.1" cy="196.2" r="0.5"/><circle cx="55.5" cy="217.5" r="0.5"/><circle cx="57.5" cy="215.2" r="0.5"/><circle cx="72.5" cy="198.1" r="0.5"/><circle cx="45.4" cy="218.3" r="0.5"/><circle cx="76.5" cy="207.0" r="0.5"/><circle cx="45.9" cy="227.0" r="0.5"/><circle cx="65.7" cy="230.5" r="0.5"/><circle cx="25.6" cy="224.9" r="0.5"/><circle cx="37.1" cy="220.0" r="0.5"/><circle cx="37.8" cy="233.6" r="0.5"/><circle cx="54.0" cy="234.2" r="0.5"/><circle cx="66.5" cy="200.0" r="0.5"/><circle cx="46.5" cy="210.3" r="0.5"/><circle cx="40.6" cy="215.9" r="0.5"/><circle cx="45.4" cy="237.7" r="0.5"/><circle cx="46.4" cy="194.8" r="0.5"/><circle cx="44.8" cy="213.6" r="0.5"/><circle cx="61.6" cy="198.7" r="0.5"/><circle cx="39.2" cy="216.7" r="0.5"/><circle cx="65.4" cy="172.8" r="0.5"/><circle cx="35.1" cy="194.4" r="0.5"/><circle cx="64.9" cy="218.0" r="0.5"/><circle cx="33.9" cy="230.7" r="0.5"/><circle cx="44.9" cy="192.0" r="0.5"/><circle cx="83.3" cy="178.7" r="0.5"/><circle cx="37.1" cy="211.6" r="0.5"/><circle cx="38.4" cy="211.8" r="0.5"/><circle cx="95.1" cy="197.9" r="0.5"/><circle cx="68.0" cy="207.1" r="0.5"/><circle cx="68.3" cy="217.0" r="0.5"/><circle cx="33.0" cy="225.0" r="0.5"/><circle cx="55.9" cy="226.6" r="0.5"/><circle cx="62.0" cy="223.7" r="0.5"/><circle cx="51.7" cy="199.7" r="0.5"/><circle cx="63.6" cy="233.1" r="0.5"/><circle cx="65.1" cy="223.4" r="0.5"/><circle cx="84.0" cy="193.5" r="0.5"/><circle cx="66.7" cy="210.8" r="0.5"/><circle cx="32.7" cy="202.5" r="0.5"/><circle cx="45.9" cy="230.6" r="0.5"/><circle cx="66.7" cy="226.3" r="0.5"/><circle cx="56.7" cy="214.3" r="0.5"/><circle cx="38.7" cy="206.7" r="0.5"/><circle cx="54.1" cy="193.2" r="0.5"/><circle cx="47.4" cy="211.4" r="0.5"/><circle cx="55.5" cy="229.5" r="0.5"/><circle cx="35.4" cy="200.1" r="0.5"/><circle cx="56.4" cy="200.4" r="0.5"/><circle cx="57.5" cy="198.6" r="0.5"/><circle cx="71.2" cy="203.5" r="0.5"/><circle cx="33.7" cy="223.3" r="0.5"/><circle cx="79.0" cy="169.1" r="0.5"/><circle cx="50.0" cy="209.5" r="0.5"/><circle cx="68.8" cy="238.4" r="0.5"/><circle cx="62.9" cy="228.5" r="0.5"/><circle cx="59.6" cy="209.7" r="0.5"/><circle cx="67.9" cy="213.9" r="0.5"/><circle cx="63.0" cy="215.3" r="0.5"/><circle cx="43.2" cy="228.4" r="0.5"/><circle cx="71.6" cy="199.4" r="0.5"/><circle cx="71.5" cy="180.0" r="0.5"/><circle cx="76.0" cy="181.6" r="0.5"/><circle cx="77.8" cy="177.7" r="0.5"/><circle cx="75.9" cy="182.3" r="0.5"/><circle cx="75.2" cy="180.4" r="0.5"/><circle cx="75.0" cy="181.4" r="0.5"/><circle cx="83.4" cy="181.7" r="0.5"/><circle cx="81.4" cy="181.4" r="0.5"/><circle cx="75.1" cy="179.1" r="0.5"/><circle cx="78.2" cy="181.4" r="0.5"/><circle cx="76.2" cy="181.9" r="0.5"/><circle cx="75.8" cy="180.2" r="0.5"/><circle cx="78.0" cy="176.5" r="0.5"/><circle cx="81.1" cy="180.2" r="0.5"/><circle cx="78.3" cy="179.9" r="0.5"/><circle cx="71.6" cy="175.8" r="0.5"/><circle cx="75.3" cy="183.0" r="0.5"/><circle cx="76.3" cy="181.9" r="0.5"/><circle cx="74.9" cy="177.5" r="0.5"/><circle cx="76.6" cy="183.2" r="0.5"/><circle cx="73.0" cy="179.5" r="0.5"/><circle cx="79.3" cy="180.4" r="0.5"/><circle cx="78.0" cy="182.4" r="0.5"/><circle cx="78.9" cy="177.0" r="0.5"/><circle cx="79.9" cy="177.7" r="0.5"/><circle cx="77.0" cy="184.4" r="0.5"/><circle cx="85.4" cy="184.4" r="0.5"/><circle cx="79.3" cy="177.7" r="0.5"/><circle cx="75.7" cy="185.1" r="0.5"/><circle cx="79.0" cy="175.8" r="0.5"/><circle cx="82.8" cy="181.8" r="0.5"/><circle cx="82.0" cy="181.2" r="0.5"/><circle cx="71.5" cy="177.8" r="0.5"/><circle cx="77.6" cy="179.5" r="0.5"/><circle cx="82.6" cy="178.0" r="0.5"/><circle cx="77.7" cy="179.8" r="0.5"/><circle cx="77.7" cy="176.9" r="0.5"/><circle cx="74.3" cy="172.2" r="0.5"/><circle cx="79.0" cy="179.4" r="0.5"/><circle cx="78.6" cy="176.8" r="0.5"/><circle cx="78.0" cy="177.1" r="0.5"/><circle cx="75.0" cy="181.0" r="0.5"/><circle cx="79.9" cy="181.8" r="0.5"/><circle cx="77.9" cy="178.9" r="0.5"/><circle cx="82.2" cy="183.8" r="0.5"/><circle cx="76.1" cy="176.7" r="0.5"/><circle cx="79.1" cy="181.0" r="0.5"/><circle cx="75.3" cy="186.9" r="0.5"/><circle cx="71.7" cy="177.5" r="0.5"/><circle cx="78.8" cy="183.0" r="0.5"/></g>
<g fill="#777" opacity="0.5"><circle cx="26.3" cy="174.1" r="0.45"/><circle cx="34.6" cy="180.1" r="0.45"/><circle cx="30.4" cy="175.6" r="0.45"/><circle cx="28.8" cy="176.8" r="0.45"/><circle cx="28.4" cy="169.0" r="0.45"/><circle cx="27.2" cy="175.7" r="0.45"/><circle cx="27.7" cy="179.1" r="0.45"/><circle cx="34.2" cy="178.7" r="0.45"/><circle cx="32.7" cy="179.2" r="0.45"/><circle cx="31.7" cy="178.3" r="0.45"/><circle cx="32.2" cy="178.0" r="0.45"/><circle cx="28.5" cy="173.4" r="0.45"/><circle cx="28.5" cy="178.2" r="0.45"/><circle cx="32.3" cy="173.0" r="0.45"/><circle cx="28.5" cy="173.7" r="0.45"/><circle cx="33.2" cy="175.2" r="0.45"/><circle cx="30.4" cy="173.3" r="0.45"/><circle cx="30.7" cy="180.7" r="0.45"/><circle cx="29.3" cy="174.4" r="0.45"/><circle cx="35.3" cy="177.8" r="0.45"/><circle cx="28.1" cy="179.0" r="0.45"/><circle cx="27.8" cy="177.3" r="0.45"/><circle cx="24.7" cy="172.3" r="0.45"/><circle cx="33.3" cy="173.6" r="0.45"/><circle cx="29.2" cy="175.7" r="0.45"/><circle cx="31.0" cy="174.0" r="0.45"/><circle cx="29.3" cy="181.3" r="0.45"/><circle cx="34.8" cy="176.6" r="0.45"/><circle cx="28.1" cy="173.8" r="0.45"/><circle cx="30.3" cy="177.1" r="0.45"/><circle cx="35.1" cy="173.8" r="0.45"/><circle cx="31.4" cy="174.1" r="0.45"/><circle cx="31.4" cy="173.3" r="0.45"/><circle cx="32.0" cy="179.3" r="0.45"/><circle cx="30.0" cy="174.5" r="0.45"/><circle cx="31.3" cy="171.3" r="0.45"/><circle cx="35.6" cy="171.2" r="0.45"/><circle cx="30.1" cy="172.7" r="0.45"/><circle cx="34.8" cy="174.0" r="0.45"/><circle cx="29.7" cy="181.6" r="0.45"/><circle cx="30.7" cy="173.0" r="0.45"/><circle cx="31.0" cy="176.1" r="0.45"/><circle cx="29.1" cy="174.9" r="0.45"/><circle cx="30.5" cy="177.9" r="0.45"/><circle cx="33.0" cy="178.2" r="0.45"/><circle cx="30.7" cy="178.1" r="0.45"/><circle cx="30.5" cy="179.3" r="0.45"/><circle cx="32.0" cy="174.2" r="0.45"/><circle cx="34.1" cy="170.6" r="0.45"/><circle cx="28.6" cy="173.0" r="0.45"/><circle cx="30.7" cy="171.6" r="0.45"/><circle cx="28.0" cy="169.4" r="0.45"/><circle cx="31.3" cy="173.0" r="0.45"/><circle cx="36.5" cy="178.0" r="0.45"/><circle cx="28.1" cy="179.8" r="0.45"/><circle cx="31.3" cy="179.0" r="0.45"/><circle cx="28.2" cy="179.3" r="0.45"/><circle cx="33.8" cy="174.2" r="0.45"/><circle cx="28.9" cy="174.3" r="0.45"/><circle cx="31.7" cy="183.3" r="0.45"/><circle cx="35.6" cy="180.4" r="0.45"/><circle cx="30.5" cy="174.5" r="0.45"/><circle cx="31.9" cy="174.6" r="0.45"/><circle cx="29.8" cy="174.9" r="0.45"/><circle cx="33.1" cy="175.3" r="0.45"/><circle cx="31.6" cy="174.7" r="0.45"/><circle cx="30.5" cy="174.5" r="0.45"/><circle cx="34.2" cy="176.3" r="0.45"/><circle cx="34.8" cy="175.0" r="0.45"/><circle cx="33.7" cy="171.1" r="0.45"/><circle cx="30.0" cy="175.3" r="0.45"/><circle cx="29.4" cy="175.2" r="0.45"/><circle cx="28.7" cy="175.0" r="0.45"/><circle cx="29.3" cy="175.5" r="0.45"/><circle cx="30.3" cy="172.3" r="0.45"/><circle cx="30.0" cy="175.6" r="0.45"/><circle cx="27.8" cy="175.8" r="0.45"/><circle cx="34.2" cy="174.8" r="0.45"/><circle cx="32.4" cy="177.5" r="0.45"/><circle cx="29.0" cy="179.8" r="0.45"/><circle cx="37.3" cy="172.2" r="0.45"/><circle cx="36.4" cy="173.2" r="0.45"/><circle cx="34.7" cy="169.7" r="0.45"/><circle cx="33.9" cy="176.0" r="0.45"/><circle cx="27.8" cy="172.9" r="0.45"/><circle cx="28.4" cy="172.6" r="0.45"/><circle cx="32.0" cy="174.9" r="0.45"/><circle cx="24.7" cy="174.5" r="0.45"/><circle cx="32.2" cy="175.8" r="0.45"/><circle cx="35.3" cy="169.6" r="0.45"/><circle cx="31.6" cy="175.6" r="0.45"/><circle cx="32.8" cy="171.2" r="0.45"/><circle cx="27.7" cy="175.0" r="0.45"/><circle cx="31.2" cy="169.7" r="0.45"/><circle cx="31.9" cy="175.5" r="0.45"/><circle cx="32.9" cy="167.1" r="0.45"/><circle cx="32.3" cy="172.7" r="0.45"/><circle cx="29.8" cy="178.0" r="0.45"/><circle cx="35.3" cy="176.0" r="0.45"/><circle cx="30.7" cy="179.7" r="0.45"/><circle cx="28.8" cy="175.0" r="0.45"/><circle cx="29.7" cy="172.4" r="0.45"/><circle cx="31.5" cy="182.1" r="0.45"/><circle cx="31.6" cy="177.1" r="0.45"/><circle cx="30.9" cy="179.2" r="0.45"/><circle cx="31.5" cy="172.7" r="0.45"/><circle cx="31.3" cy="180.2" r="0.45"/><circle cx="30.8" cy="179.4" r="0.45"/><circle cx="30.8" cy="182.0" r="0.45"/><circle cx="31.7" cy="177.6" r="0.45"/><circle cx="30.3" cy="178.2" r="0.45"/><circle cx="30.4" cy="170.8" r="0.45"/><circle cx="31.8" cy="171.6" r="0.45"/><circle cx="34.7" cy="178.1" r="0.45"/><circle cx="31.1" cy="177.7" r="0.45"/><circle cx="24.5" cy="180.5" r="0.45"/><circle cx="29.4" cy="177.7" r="0.45"/><circle cx="37.5" cy="170.3" r="0.45"/><circle cx="30.0" cy="176.6" r="0.45"/><circle cx="32.1" cy="170.1" r="0.45"/></g>
<path d="M33.5 175.2 C 38 168.5, 44 167.2, 50 167.2 C 56.5 167.2, 60 170.5, 60 175.2 C 60 180, 56.5 183, 50 183 C 44 183, 38 182, 33.5 175.2 Z" fill="#c2c2c2" stroke="#7a7a7a" stroke-width="0.7"/>
<path d="M38.5 175.2 C 41.5 171, 45 169.5, 49.5 169.5 C 55 169.5, 58 172, 58 175.2 C 58 178.5, 55 181, 49.5 181 C 45 181, 41.5 179.5, 38.5 175.2 Z" fill="#a4a4a4" stroke="#8a8a8a" stroke-width="0.5"/>
<path d="M39 175.2 C 41.5 171.5, 44 170, 46 170 C 43.5 172, 43 178.5, 46 180.5 C 44 180.5, 41.5 179, 39 175.2 Z" fill="#e4e4e4"/>
<ellipse cx="51" cy="175.2" rx="3" ry="2.5" fill="#b6b6b6"/>
<path d="M27 171 L33 179 M27 179.5 L33 171" stroke="#888" stroke-width="0.7"/>
<g fill="#666" opacity="0.55"><circle cx="76.9" cy="237.8" r="0.45"/><circle cx="76.4" cy="233.3" r="0.45"/><circle cx="74.6" cy="216.8" r="0.45"/><circle cx="73.1" cy="227.3" r="0.45"/><circle cx="87.9" cy="226.2" r="0.45"/><circle cx="76.9" cy="232.4" r="0.45"/><circle cx="86.1" cy="219.3" r="0.45"/><circle cx="83.2" cy="239.9" r="0.45"/><circle cx="89.0" cy="221.1" r="0.45"/><circle cx="76.5" cy="238.3" r="0.45"/><circle cx="85.8" cy="236.3" r="0.45"/><circle cx="86.7" cy="221.1" r="0.45"/><circle cx="85.9" cy="235.8" r="0.45"/><circle cx="86.7" cy="215.1" r="0.45"/><circle cx="87.5" cy="220.9" r="0.45"/><circle cx="77.0" cy="233.0" r="0.45"/><circle cx="79.8" cy="240.7" r="0.45"/><circle cx="86.4" cy="230.0" r="0.45"/><circle cx="77.8" cy="233.7" r="0.45"/><circle cx="78.9" cy="235.7" r="0.45"/><circle cx="86.1" cy="234.4" r="0.45"/><circle cx="74.1" cy="221.6" r="0.45"/><circle cx="81.5" cy="211.6" r="0.45"/><circle cx="86.4" cy="221.5" r="0.45"/><circle cx="82.0" cy="235.7" r="0.45"/><circle cx="78.2" cy="238.8" r="0.45"/><circle cx="87.2" cy="218.9" r="0.45"/><circle cx="84.4" cy="235.4" r="0.45"/><circle cx="75.2" cy="219.9" r="0.45"/><circle cx="83.2" cy="209.5" r="0.45"/><circle cx="73.9" cy="228.5" r="0.45"/><circle cx="84.9" cy="214.2" r="0.45"/><circle cx="84.0" cy="239.8" r="0.45"/><circle cx="86.5" cy="223.5" r="0.45"/><circle cx="81.5" cy="212.3" r="0.45"/><circle cx="86.6" cy="228.6" r="0.45"/><circle cx="84.6" cy="238.0" r="0.45"/><circle cx="82.3" cy="235.2" r="0.45"/><circle cx="82.5" cy="239.8" r="0.45"/><circle cx="73.6" cy="225.1" r="0.45"/><circle cx="75.1" cy="227.5" r="0.45"/><circle cx="87.3" cy="226.2" r="0.45"/><circle cx="87.0" cy="228.1" r="0.45"/><circle cx="76.2" cy="216.5" r="0.45"/><circle cx="73.8" cy="227.4" r="0.45"/><circle cx="78.3" cy="236.4" r="0.45"/><circle cx="86.4" cy="215.8" r="0.45"/><circle cx="74.9" cy="231.8" r="0.45"/><circle cx="74.7" cy="228.0" r="0.45"/><circle cx="86.3" cy="218.9" r="0.45"/><circle cx="88.4" cy="219.0" r="0.45"/><circle cx="85.4" cy="217.3" r="0.45"/><circle cx="72.6" cy="224.1" r="0.45"/><circle cx="79.6" cy="236.1" r="0.45"/><circle cx="80.0" cy="213.4" r="0.45"/><circle cx="75.9" cy="219.3" r="0.45"/><circle cx="87.0" cy="221.1" r="0.45"/><circle cx="87.2" cy="233.3" r="0.45"/><circle cx="76.9" cy="236.2" r="0.45"/><circle cx="72.7" cy="225.3" r="0.45"/><circle cx="74.4" cy="223.9" r="0.45"/><circle cx="88.0" cy="225.1" r="0.45"/><circle cx="80.1" cy="238.7" r="0.45"/><circle cx="76.4" cy="215.3" r="0.45"/><circle cx="86.9" cy="232.1" r="0.45"/><circle cx="73.6" cy="226.6" r="0.45"/><circle cx="87.2" cy="222.8" r="0.45"/><circle cx="75.7" cy="228.8" r="0.45"/><circle cx="82.9" cy="213.8" r="0.45"/><circle cx="84.8" cy="211.8" r="0.45"/><circle cx="80.8" cy="240.7" r="0.45"/><circle cx="74.3" cy="224.7" r="0.45"/><circle cx="73.2" cy="219.6" r="0.45"/><circle cx="74.1" cy="225.8" r="0.45"/><circle cx="79.0" cy="239.8" r="0.45"/><circle cx="74.5" cy="224.8" r="0.45"/><circle cx="83.0" cy="236.0" r="0.45"/><circle cx="85.0" cy="212.0" r="0.45"/><circle cx="89.2" cy="222.9" r="0.45"/><circle cx="77.9" cy="211.2" r="0.45"/><circle cx="79.1" cy="210.3" r="0.45"/><circle cx="82.9" cy="214.2" r="0.45"/><circle cx="83.5" cy="213.8" r="0.45"/><circle cx="81.3" cy="240.8" r="0.45"/><circle cx="87.9" cy="226.9" r="0.45"/><circle cx="76.7" cy="237.5" r="0.45"/><circle cx="74.7" cy="214.9" r="0.45"/><circle cx="87.8" cy="219.2" r="0.45"/><circle cx="87.9" cy="230.6" r="0.45"/><circle cx="87.5" cy="235.2" r="0.45"/><circle cx="85.4" cy="216.2" r="0.45"/><circle cx="84.0" cy="238.3" r="0.45"/><circle cx="81.4" cy="208.9" r="0.45"/><circle cx="76.8" cy="217.2" r="0.45"/><circle cx="80.2" cy="214.4" r="0.45"/><circle cx="86.3" cy="214.0" r="0.45"/><circle cx="82.8" cy="209.9" r="0.45"/><circle cx="73.4" cy="218.3" r="0.45"/><circle cx="76.5" cy="214.8" r="0.45"/><circle cx="76.1" cy="233.3" r="0.45"/><circle cx="86.9" cy="226.6" r="0.45"/><circle cx="82.7" cy="213.7" r="0.45"/><circle cx="76.6" cy="212.7" r="0.45"/><circle cx="78.6" cy="212.4" r="0.45"/><circle cx="78.5" cy="236.0" r="0.45"/><circle cx="83.8" cy="238.1" r="0.45"/><circle cx="77.8" cy="210.3" r="0.45"/><circle cx="77.0" cy="238.8" r="0.45"/><circle cx="86.4" cy="218.6" r="0.45"/><circle cx="88.0" cy="220.8" r="0.45"/><circle cx="88.6" cy="221.5" r="0.45"/><circle cx="77.9" cy="235.4" r="0.45"/><circle cx="74.1" cy="223.1" r="0.45"/><circle cx="88.9" cy="228.4" r="0.45"/><circle cx="74.3" cy="222.1" r="0.45"/><circle cx="80.8" cy="213.1" r="0.45"/><circle cx="83.3" cy="238.1" r="0.45"/><circle cx="81.4" cy="237.3" r="0.45"/><circle cx="86.1" cy="229.6" r="0.45"/><circle cx="76.7" cy="235.6" r="0.45"/><circle cx="88.0" cy="220.5" r="0.45"/><circle cx="75.3" cy="231.5" r="0.45"/><circle cx="81.6" cy="238.1" r="0.45"/><circle cx="86.6" cy="222.2" r="0.45"/><circle cx="74.1" cy="230.9" r="0.45"/><circle cx="81.6" cy="211.4" r="0.45"/><circle cx="75.7" cy="212.7" r="0.45"/><circle cx="86.1" cy="218.2" r="0.45"/><circle cx="72.8" cy="220.8" r="0.45"/><circle cx="75.1" cy="223.0" r="0.45"/><circle cx="81.6" cy="214.3" r="0.45"/><circle cx="85.2" cy="236.0" r="0.45"/><circle cx="79.9" cy="239.5" r="0.45"/><circle cx="80.1" cy="212.9" r="0.45"/><circle cx="81.8" cy="210.9" r="0.45"/><circle cx="79.1" cy="212.4" r="0.45"/><circle cx="75.7" cy="229.5" r="0.45"/><circle cx="72.7" cy="227.5" r="0.45"/><circle cx="85.3" cy="218.1" r="0.45"/><circle cx="86.7" cy="230.2" r="0.45"/><circle cx="78.7" cy="212.8" r="0.45"/><circle cx="85.7" cy="234.3" r="0.45"/><circle cx="74.1" cy="218.5" r="0.45"/><circle cx="74.9" cy="233.1" r="0.45"/><circle cx="77.9" cy="212.3" r="0.45"/><circle cx="88.3" cy="229.2" r="0.45"/><circle cx="84.9" cy="232.7" r="0.45"/><circle cx="75.6" cy="226.7" r="0.45"/><circle cx="87.0" cy="230.6" r="0.45"/><circle cx="75.3" cy="227.2" r="0.45"/><circle cx="88.7" cy="220.6" r="0.45"/><circle cx="73.8" cy="226.2" r="0.45"/><circle cx="77.6" cy="239.8" r="0.45"/><circle cx="85.6" cy="233.3" r="0.45"/><circle cx="82.5" cy="240.2" r="0.45"/><circle cx="74.3" cy="224.3" r="0.45"/><circle cx="74.4" cy="234.3" r="0.45"/><circle cx="80.6" cy="240.0" r="0.45"/><circle cx="79.2" cy="212.4" r="0.45"/><circle cx="76.5" cy="234.7" r="0.45"/></g>
<ellipse cx="81" cy="225" rx="5.5" ry="8.1" fill="#b5b5b5" stroke="#1e1e1e" stroke-width="1.6"/>
<ellipse cx="81" cy="225" rx="3.2" ry="5.5" fill="#9a9a9a" stroke="#777" stroke-width="0.5"/>
<ellipse cx="81.3" cy="225" rx="0.9" ry="3" fill="#ddd"/>
<rect x="22.8" y="152.9" width="87.9" height="90.3" stroke="#505050" stroke-width="1.3" fill="none"/>
<rect x="24" y="164.9" width="39.7" height="25" stroke="#505050" stroke-width="1.1" fill="none"/>
<rect x="69.1" y="208.3" width="22.7" height="33.3" stroke="#505050" stroke-width="1.1" fill="none"/>
<text x="24.2" y="162.6" font-size="9.15" text-anchor="start" fill="#262626">CD4 T cells</text>
<text x="56.7" y="207.2" font-size="9.1" text-anchor="start" fill="#262626">CD8 T cells</text>
<line x1="16.5" y1="158.5" x2="16.5" y2="221" stroke="#666" stroke-width="0.9"/>
<path d="M16.5 153.8 L14.8 158.9 L18.2 158.9 Z" fill="#333"/>
<text x="20.0" y="233.8" font-size="9" text-anchor="middle" fill="#262626" transform="rotate(-90 20.0 233.8)">CD4</text>
<text x="23.5" y="254" font-size="9" text-anchor="start" fill="#262626">CD8</text>
<line x1="44.3" y1="250.8" x2="106" y2="250.8" stroke="#666" stroke-width="0.9"/>
<path d="M111 250.8 L105.8 249.1 L105.8 252.5 Z" fill="#333"/>
<text x="152.5" y="18.2" font-size="14.5" text-anchor="start" fill="#262626">B</text>
<rect x="196.9" y="12" width="11" height="7.5" fill="#f03535"/>
<text x="210.1" y="19.4" font-size="9.4" text-anchor="start" fill="#262626">ASyS</text>
<rect x="251.5" y="12" width="11" height="7.5" fill="#1b50a3"/>
<text x="264.7" y="19.4" font-size="9.4" text-anchor="start" fill="#262626">DM</text>
<rect x="306" y="12" width="11" height="7.5" fill="#25bb35"/>
<text x="319.2" y="19.4" font-size="9.4" text-anchor="start" fill="#262626">IBM</text>
<rect x="360.9" y="12" width="11" height="7.5" fill="#858585"/>
<text x="374.09999999999997" y="19.4" font-size="9.4" text-anchor="start" fill="#262626">HC</text>
<path d="M196.7 37.4 H259.7 V128.8" fill="none" stroke="#c4c4c4" stroke-width="1"/>
<line x1="196.7" y1="37.1" x2="196.7" y2="129.3" stroke="#8c8c8c" stroke-width="1.1"/>
<line x1="196.2" y1="128.8" x2="260.2" y2="128.8" stroke="#ababab" stroke-width="1.3"/>
<line x1="193.5" y1="128.8" x2="196.7" y2="128.8" stroke="#888" stroke-width="0.9"/>
<text x="192.1" y="132.10000000000002" font-size="9.2" text-anchor="end" fill="#262626">0</text>
<line x1="193.5" y1="110.52000000000001" x2="196.7" y2="110.52000000000001" stroke="#888" stroke-width="0.9"/>
<text x="192.1" y="113.82000000000001" font-size="9.2" text-anchor="end" fill="#262626">10</text>
<line x1="193.5" y1="92.24000000000001" x2="196.7" y2="92.24000000000001" stroke="#888" stroke-width="0.9"/>
<text x="192.1" y="95.54" font-size="9.2" text-anchor="end" fill="#262626">20</text>
<line x1="193.5" y1="73.96000000000001" x2="196.7" y2="73.96000000000001" stroke="#888" stroke-width="0.9"/>
<text x="192.1" y="77.26" font-size="9.2" text-anchor="end" fill="#262626">30</text>
<line x1="193.5" y1="55.68000000000001" x2="196.7" y2="55.68000000000001" stroke="#888" stroke-width="0.9"/>
<text x="192.1" y="58.980000000000004" font-size="9.2" text-anchor="end" fill="#262626">40</text>
<line x1="193.5" y1="37.400000000000006" x2="196.7" y2="37.400000000000006" stroke="#888" stroke-width="0.9"/>
<text x="192.1" y="40.7" font-size="9.2" text-anchor="end" fill="#262626">50</text>
<text x="228.2" y="34.2" font-size="9.3" text-anchor="middle" fill="#262626">B cells</text>
<g fill="#f52a2a"><circle cx="206.3" cy="110.5" r="1.55"/><circle cx="209.0" cy="110.5" r="1.55"/><circle cx="203.4" cy="109.6" r="1.55"/><circle cx="201.4" cy="111.4" r="1.55"/><circle cx="212.4" cy="108.7" r="1.55"/><circle cx="204.2" cy="112.3" r="1.55"/><circle cx="205.8" cy="107.8" r="1.55"/><circle cx="207.1" cy="113.3" r="1.55"/><circle cx="209.5" cy="106.9" r="1.55"/><circle cx="209.8" cy="114.2" r="1.55"/><circle cx="202.9" cy="106.0" r="1.55"/><circle cx="203.7" cy="115.1" r="1.55"/><circle cx="207.1" cy="116.0" r="1.55"/><circle cx="206.4" cy="105.0" r="1.55"/><circle cx="209.3" cy="104.1" r="1.55"/><circle cx="209.7" cy="116.9" r="1.55"/><circle cx="204.4" cy="103.2" r="1.55"/><circle cx="204.9" cy="117.8" r="1.55"/><circle cx="201.5" cy="118.7" r="1.55"/><circle cx="206.5" cy="101.4" r="1.55"/><circle cx="206.9" cy="119.7" r="1.55"/><circle cx="203.8" cy="120.6" r="1.55"/><circle cx="204.1" cy="99.6" r="1.55"/><circle cx="208.9" cy="121.5" r="1.55"/><circle cx="206.4" cy="122.4" r="1.55"/><circle cx="206.3" cy="97.7" r="1.55"/><circle cx="203.0" cy="123.3" r="1.55"/><circle cx="209.2" cy="124.2" r="1.55"/><circle cx="206.0" cy="125.1" r="1.55"/><circle cx="202.8" cy="126.1" r="1.55"/><circle cx="206.4" cy="94.1" r="1.55"/><circle cx="208.0" cy="127.0" r="1.55"/><circle cx="205.4" cy="127.9" r="1.55"/><circle cx="211.1" cy="128.3" r="1.55"/><circle cx="205.8" cy="89.5" r="1.55"/><circle cx="209.0" cy="88.6" r="1.55"/><circle cx="206.2" cy="74.0" r="1.55"/><circle cx="209.4" cy="73.0" r="1.55"/></g>
<line x1="200.9" y1="110.52000000000001" x2="211.29999999999998" y2="110.52000000000001" stroke="#222" stroke-width="1.0"/>
<line x1="206.1" y1="106.864" x2="206.1" y2="114.17600000000002" stroke="#222" stroke-width="0.9"/>
<line x1="203.1" y1="106.864" x2="209.1" y2="106.864" stroke="#222" stroke-width="0.9"/>
<line x1="203.1" y1="114.17600000000002" x2="209.1" y2="114.17600000000002" stroke="#222" stroke-width="0.9"/>
<g fill="#26409c"><circle cx="221.1" cy="109.6" r="1.55"/><circle cx="224.0" cy="108.7" r="1.55"/><circle cx="218.4" cy="110.5" r="1.55"/><circle cx="218.6" cy="107.8" r="1.55"/><circle cx="224.0" cy="111.4" r="1.55"/><circle cx="220.6" cy="112.3" r="1.55"/><circle cx="217.8" cy="113.3" r="1.55"/><circle cx="220.7" cy="105.0" r="1.55"/><circle cx="223.0" cy="114.2" r="1.55"/><circle cx="218.5" cy="103.2" r="1.55"/><circle cx="221.0" cy="116.0" r="1.55"/><circle cx="221.7" cy="102.3" r="1.55"/><circle cx="224.8" cy="101.4" r="1.55"/><circle cx="223.0" cy="117.8" r="1.55"/><circle cx="220.9" cy="119.7" r="1.55"/><circle cx="218.3" cy="121.5" r="1.55"/><circle cx="220.6" cy="123.3" r="1.55"/><circle cx="223.0" cy="125.1" r="1.55"/><circle cx="220.3" cy="127.0" r="1.55"/><circle cx="224.0" cy="127.9" r="1.55"/><circle cx="220.6" cy="89.5" r="1.55"/><circle cx="223.9" cy="88.6" r="1.55"/><circle cx="220.8" cy="84.0" r="1.55"/><circle cx="218.7" cy="82.2" r="1.55"/><circle cx="220.7" cy="50.2" r="1.55"/></g>
<line x1="215.5" y1="109.60600000000001" x2="225.89999999999998" y2="109.60600000000001" stroke="#222" stroke-width="1.0"/>
<line x1="220.7" y1="105.95000000000002" x2="220.7" y2="113.26200000000001" stroke="#222" stroke-width="0.9"/>
<line x1="217.7" y1="105.95000000000002" x2="223.7" y2="105.95000000000002" stroke="#222" stroke-width="0.9"/>
<line x1="217.7" y1="113.26200000000001" x2="223.7" y2="113.26200000000001" stroke="#222" stroke-width="0.9"/>
<g fill="#22b322"><circle cx="235.4" cy="112.3" r="1.55"/><circle cx="237.5" cy="114.2" r="1.55"/><circle cx="238.0" cy="111.4" r="1.55"/><circle cx="235.1" cy="116.0" r="1.55"/><circle cx="233.0" cy="110.5" r="1.55"/><circle cx="238.2" cy="116.9" r="1.55"/><circle cx="232.0" cy="117.8" r="1.55"/><circle cx="235.3" cy="108.7" r="1.55"/><circle cx="235.6" cy="119.7" r="1.55"/><circle cx="237.3" cy="106.9" r="1.55"/><circle cx="233.3" cy="121.5" r="1.55"/><circle cx="234.3" cy="105.0" r="1.55"/><circle cx="237.0" cy="104.1" r="1.55"/><circle cx="232.2" cy="103.2" r="1.55"/><circle cx="235.3" cy="123.3" r="1.55"/><circle cx="237.4" cy="125.1" r="1.55"/><circle cx="234.6" cy="127.0" r="1.55"/><circle cx="235.6" cy="88.6" r="1.55"/><circle cx="235.5" cy="75.8" r="1.55"/></g>
<line x1="230.1" y1="113.26200000000001" x2="240.49999999999997" y2="113.26200000000001" stroke="#222" stroke-width="1.0"/>
<line x1="235.29999999999998" y1="109.60600000000001" x2="235.29999999999998" y2="116.918" stroke="#222" stroke-width="0.9"/>
<line x1="232.29999999999998" y1="109.60600000000001" x2="238.29999999999998" y2="109.60600000000001" stroke="#222" stroke-width="0.9"/>
<line x1="232.29999999999998" y1="116.918" x2="238.29999999999998" y2="116.918" stroke="#222" stroke-width="0.9"/>
<g fill="#6e6e6e"><circle cx="249.8" cy="106.9" r="1.3"/><circle cx="253.1" cy="107.8" r="1.3"/><circle cx="250.0" cy="103.2" r="1.3"/><circle cx="250.3" cy="110.5" r="1.3"/><circle cx="249.9" cy="114.2" r="1.3"/><circle cx="250.1" cy="96.8" r="1.3"/><circle cx="249.6" cy="119.7" r="1.3"/><circle cx="253.1" cy="119.7" r="1.3"/><circle cx="249.8" cy="84.0" r="1.3"/><circle cx="250.2" cy="77.6" r="1.3"/></g>
<line x1="244.7" y1="105.95000000000002" x2="255.09999999999997" y2="105.95000000000002" stroke="#222" stroke-width="1.0"/>
<line x1="249.89999999999998" y1="95.89600000000002" x2="249.89999999999998" y2="115.09" stroke="#222" stroke-width="0.9"/>
<line x1="246.89999999999998" y1="95.89600000000002" x2="252.89999999999998" y2="95.89600000000002" stroke="#222" stroke-width="0.9"/>
<line x1="246.89999999999998" y1="115.09" x2="252.89999999999998" y2="115.09" stroke="#222" stroke-width="0.9"/>
<path d="M289.63 37.4 H352.63 V128.8" fill="none" stroke="#c4c4c4" stroke-width="1"/>
<line x1="289.63" y1="37.1" x2="289.63" y2="129.3" stroke="#8c8c8c" stroke-width="1.1"/>
<line x1="289.13" y1="128.8" x2="353.13" y2="128.8" stroke="#ababab" stroke-width="1.3"/>
<line x1="286.43" y1="128.8" x2="289.63" y2="128.8" stroke="#888" stroke-width="0.9"/>
<text x="285.03" y="132.10000000000002" font-size="9.2" text-anchor="end" fill="#262626">0</text>
<line x1="286.43" y1="110.52000000000001" x2="289.63" y2="110.52000000000001" stroke="#888" stroke-width="0.9"/>
<text x="285.03" y="113.82000000000001" font-size="9.2" text-anchor="end" fill="#262626">20</text>
<line x1="286.43" y1="92.24000000000001" x2="289.63" y2="92.24000000000001" stroke="#888" stroke-width="0.9"/>
<text x="285.03" y="95.54" font-size="9.2" text-anchor="end" fill="#262626">40</text>
<line x1="286.43" y1="73.96000000000001" x2="289.63" y2="73.96000000000001" stroke="#888" stroke-width="0.9"/>
<text x="285.03" y="77.26" font-size="9.2" text-anchor="end" fill="#262626">60</text>
<line x1="286.43" y1="55.68000000000001" x2="289.63" y2="55.68000000000001" stroke="#888" stroke-width="0.9"/>
<text x="285.03" y="58.980000000000004" font-size="9.2" text-anchor="end" fill="#262626">80</text>
<line x1="286.43" y1="37.400000000000006" x2="289.63" y2="37.400000000000006" stroke="#888" stroke-width="0.9"/>
<text x="285.03" y="40.7" font-size="9.2" text-anchor="end" fill="#262626">100</text>
<text x="321.13" y="34.2" font-size="9.3" text-anchor="middle" fill="#262626">T cells</text>
<g fill="#f52a2a"><circle cx="298.9" cy="79.4" r="1.55"/><circle cx="302.3" cy="80.4" r="1.55"/><circle cx="301.2" cy="77.6" r="1.55"/><circle cx="296.9" cy="81.3" r="1.55"/><circle cx="298.0" cy="76.7" r="1.55"/><circle cx="294.8" cy="75.8" r="1.55"/><circle cx="299.1" cy="83.1" r="1.55"/><circle cx="300.7" cy="74.9" r="1.55"/><circle cx="302.0" cy="84.0" r="1.55"/><circle cx="303.7" cy="74.0" r="1.55"/><circle cx="296.0" cy="84.9" r="1.55"/><circle cx="298.7" cy="72.1" r="1.55"/><circle cx="299.0" cy="86.8" r="1.55"/><circle cx="301.8" cy="71.2" r="1.55"/><circle cx="302.1" cy="87.7" r="1.55"/><circle cx="295.7" cy="88.6" r="1.55"/><circle cx="299.4" cy="69.4" r="1.55"/><circle cx="299.2" cy="89.5" r="1.55"/><circle cx="302.0" cy="68.5" r="1.55"/><circle cx="302.1" cy="90.4" r="1.55"/><circle cx="298.9" cy="66.6" r="1.55"/><circle cx="299.2" cy="92.2" r="1.55"/><circle cx="302.2" cy="93.2" r="1.55"/><circle cx="301.2" cy="64.8" r="1.55"/><circle cx="296.2" cy="94.1" r="1.55"/><circle cx="298.7" cy="63.0" r="1.55"/><circle cx="299.1" cy="95.9" r="1.55"/><circle cx="301.7" cy="62.1" r="1.55"/><circle cx="298.7" cy="60.2" r="1.55"/><circle cx="299.4" cy="98.6" r="1.55"/><circle cx="301.7" cy="59.3" r="1.55"/><circle cx="296.1" cy="58.4" r="1.55"/><circle cx="299.1" cy="101.4" r="1.55"/><circle cx="299.0" cy="55.7" r="1.55"/><circle cx="299.3" cy="52.9" r="1.55"/><circle cx="296.2" cy="52.0" r="1.55"/><circle cx="299.1" cy="109.6" r="1.55"/><circle cx="296.7" cy="111.4" r="1.55"/><circle cx="298.7" cy="115.1" r="1.55"/></g>
<line x1="293.83" y1="79.444" x2="304.22999999999996" y2="79.444" stroke="#222" stroke-width="1.0"/>
<line x1="299.03" y1="73.96000000000001" x2="299.03" y2="84.92800000000001" stroke="#222" stroke-width="0.9"/>
<line x1="296.03" y1="73.96000000000001" x2="302.03" y2="73.96000000000001" stroke="#222" stroke-width="0.9"/>
<line x1="296.03" y1="84.92800000000001" x2="302.03" y2="84.92800000000001" stroke="#222" stroke-width="0.9"/>
<g fill="#26409c"><circle cx="313.6" cy="70.3" r="1.55"/><circle cx="316.5" cy="69.4" r="1.55"/><circle cx="310.6" cy="71.2" r="1.55"/><circle cx="313.3" cy="67.6" r="1.55"/><circle cx="313.6" cy="73.0" r="1.55"/><circle cx="315.5" cy="65.7" r="1.55"/><circle cx="316.3" cy="74.9" r="1.55"/><circle cx="312.6" cy="63.9" r="1.55"/><circle cx="313.9" cy="76.7" r="1.55"/><circle cx="315.5" cy="62.1" r="1.55"/><circle cx="311.7" cy="78.5" r="1.55"/><circle cx="312.5" cy="60.2" r="1.55"/><circle cx="313.8" cy="81.3" r="1.55"/><circle cx="315.5" cy="58.4" r="1.55"/><circle cx="312.4" cy="57.5" r="1.55"/><circle cx="316.0" cy="83.1" r="1.55"/><circle cx="313.8" cy="84.9" r="1.55"/><circle cx="313.6" cy="54.8" r="1.55"/><circle cx="311.5" cy="86.8" r="1.55"/><circle cx="314.5" cy="87.7" r="1.55"/><circle cx="314.0" cy="52.0" r="1.55"/><circle cx="311.8" cy="89.5" r="1.55"/><circle cx="315.9" cy="90.4" r="1.55"/><circle cx="313.9" cy="109.6" r="1.55"/></g>
<line x1="308.43" y1="70.304" x2="318.83" y2="70.304" stroke="#222" stroke-width="1.0"/>
<line x1="313.63" y1="64.82000000000002" x2="313.63" y2="75.78800000000001" stroke="#222" stroke-width="0.9"/>
<line x1="310.63" y1="64.82000000000002" x2="316.63" y2="64.82000000000002" stroke="#222" stroke-width="0.9"/>
<line x1="310.63" y1="75.78800000000001" x2="316.63" y2="75.78800000000001" stroke="#222" stroke-width="0.9"/>
<g fill="#22b322"><circle cx="327.9" cy="75.8" r="1.55"/><circle cx="330.3" cy="77.6" r="1.55"/><circle cx="328.2" cy="79.4" r="1.55"/><circle cx="330.2" cy="74.0" r="1.55"/><circle cx="325.9" cy="81.3" r="1.55"/><circle cx="328.2" cy="72.1" r="1.55"/><circle cx="328.3" cy="83.1" r="1.55"/><circle cx="330.5" cy="70.3" r="1.55"/><circle cx="330.6" cy="84.9" r="1.55"/><circle cx="328.5" cy="67.6" r="1.55"/><circle cx="327.4" cy="85.8" r="1.55"/><circle cx="329.9" cy="87.7" r="1.55"/><circle cx="328.4" cy="64.8" r="1.55"/><circle cx="328.4" cy="62.1" r="1.55"/><circle cx="328.1" cy="91.3" r="1.55"/><circle cx="330.5" cy="60.2" r="1.55"/><circle cx="328.0" cy="94.1" r="1.55"/><circle cx="328.1" cy="58.4" r="1.55"/><circle cx="331.1" cy="95.9" r="1.55"/><circle cx="328.2" cy="103.2" r="1.55"/><circle cx="327.8" cy="107.8" r="1.55"/></g>
<line x1="323.03" y1="76.70200000000001" x2="333.42999999999995" y2="76.70200000000001" stroke="#222" stroke-width="1.0"/>
<line x1="328.22999999999996" y1="70.304" x2="328.22999999999996" y2="83.10000000000001" stroke="#222" stroke-width="0.9"/>
<line x1="325.22999999999996" y1="70.304" x2="331.22999999999996" y2="70.304" stroke="#222" stroke-width="0.9"/>
<line x1="325.22999999999996" y1="83.10000000000001" x2="331.22999999999996" y2="83.10000000000001" stroke="#222" stroke-width="0.9"/>
<g fill="#6e6e6e"><circle cx="343.2" cy="75.8" r="1.3"/><circle cx="341.0" cy="74.0" r="1.3"/><circle cx="342.9" cy="81.3" r="1.3"/><circle cx="342.8" cy="69.4" r="1.3"/><circle cx="342.8" cy="84.9" r="1.3"/><circle cx="342.6" cy="66.6" r="1.3"/><circle cx="345.2" cy="64.8" r="1.3"/><circle cx="342.8" cy="88.6" r="1.3"/><circle cx="342.9" cy="54.8" r="1.3"/><circle cx="343.1" cy="96.8" r="1.3"/></g>
<line x1="337.63" y1="75.78800000000001" x2="348.03" y2="75.78800000000001" stroke="#222" stroke-width="1.0"/>
<line x1="342.83" y1="66.648" x2="342.83" y2="84.92800000000001" stroke="#222" stroke-width="0.9"/>
<line x1="339.83" y1="66.648" x2="345.83" y2="66.648" stroke="#222" stroke-width="0.9"/>
<line x1="339.83" y1="84.92800000000001" x2="345.83" y2="84.92800000000001" stroke="#222" stroke-width="0.9"/>
<path d="M382.56 37.4 H445.56 V128.8" fill="none" stroke="#c4c4c4" stroke-width="1"/>
<line x1="382.56" y1="37.1" x2="382.56" y2="129.3" stroke="#8c8c8c" stroke-width="1.1"/>
<line x1="382.06" y1="128.8" x2="446.06" y2="128.8" stroke="#ababab" stroke-width="1.3"/>
<line x1="379.36" y1="128.8" x2="382.56" y2="128.8" stroke="#888" stroke-width="0.9"/>
<text x="377.96" y="132.10000000000002" font-size="9.2" text-anchor="end" fill="#262626">0</text>
<line x1="379.36" y1="110.52000000000001" x2="382.56" y2="110.52000000000001" stroke="#888" stroke-width="0.9"/>
<text x="377.96" y="113.82000000000001" font-size="9.2" text-anchor="end" fill="#262626">20</text>
<line x1="379.36" y1="92.24000000000001" x2="382.56" y2="92.24000000000001" stroke="#888" stroke-width="0.9"/>
<text x="377.96" y="95.54" font-size="9.2" text-anchor="end" fill="#262626">40</text>
<line x1="379.36" y1="73.96000000000001" x2="382.56" y2="73.96000000000001" stroke="#888" stroke-width="0.9"/>
<text x="377.96" y="77.26" font-size="9.2" text-anchor="end" fill="#262626">60</text>
<line x1="379.36" y1="55.68000000000001" x2="382.56" y2="55.68000000000001" stroke="#888" stroke-width="0.9"/>
<text x="377.96" y="58.980000000000004" font-size="9.2" text-anchor="end" fill="#262626">80</text>
<line x1="379.36" y1="37.400000000000006" x2="382.56" y2="37.400000000000006" stroke="#888" stroke-width="0.9"/>
<text x="377.96" y="40.7" font-size="9.2" text-anchor="end" fill="#262626">100</text>
<text x="414.06" y="34.2" font-size="9.3" text-anchor="middle" fill="#262626">CD4 T cells</text>
<g fill="#f52a2a"><circle cx="391.6" cy="90.4" r="1.55"/><circle cx="394.6" cy="89.5" r="1.55"/><circle cx="388.6" cy="91.3" r="1.55"/><circle cx="389.6" cy="88.6" r="1.55"/><circle cx="394.0" cy="92.2" r="1.55"/><circle cx="396.7" cy="87.7" r="1.55"/><circle cx="390.9" cy="93.2" r="1.55"/><circle cx="392.4" cy="86.8" r="1.55"/><circle cx="396.2" cy="94.1" r="1.55"/><circle cx="389.7" cy="85.8" r="1.55"/><circle cx="394.6" cy="84.9" r="1.55"/><circle cx="392.3" cy="95.9" r="1.55"/><circle cx="391.6" cy="83.1" r="1.55"/><circle cx="389.7" cy="97.7" r="1.55"/><circle cx="393.3" cy="98.6" r="1.55"/><circle cx="393.8" cy="81.3" r="1.55"/><circle cx="397.1" cy="99.6" r="1.55"/><circle cx="391.6" cy="101.4" r="1.55"/><circle cx="391.9" cy="78.5" r="1.55"/><circle cx="393.6" cy="103.2" r="1.55"/><circle cx="392.3" cy="75.8" r="1.55"/><circle cx="392.0" cy="106.0" r="1.55"/><circle cx="390.0" cy="74.0" r="1.55"/><circle cx="392.4" cy="72.1" r="1.55"/><circle cx="392.2" cy="108.7" r="1.55"/><circle cx="389.6" cy="70.3" r="1.55"/><circle cx="392.2" cy="68.5" r="1.55"/><circle cx="392.2" cy="112.3" r="1.55"/><circle cx="390.0" cy="66.6" r="1.55"/><circle cx="391.6" cy="59.3" r="1.55"/></g>
<line x1="386.76" y1="90.412" x2="397.15999999999997" y2="90.412" stroke="#222" stroke-width="1.0"/>
<line x1="391.96" y1="86.756" x2="391.96" y2="94.06800000000001" stroke="#222" stroke-width="0.9"/>
<line x1="388.96" y1="86.756" x2="394.96" y2="86.756" stroke="#222" stroke-width="0.9"/>
<line x1="388.96" y1="94.06800000000001" x2="394.96" y2="94.06800000000001" stroke="#222" stroke-width="0.9"/>
<g fill="#26409c"><circle cx="406.3" cy="79.4" r="1.55"/><circle cx="409.3" cy="78.5" r="1.55"/><circle cx="402.9" cy="80.4" r="1.55"/><circle cx="406.6" cy="76.7" r="1.55"/><circle cx="406.9" cy="82.2" r="1.55"/><circle cx="409.9" cy="75.8" r="1.55"/><circle cx="409.6" cy="83.1" r="1.55"/><circle cx="406.7" cy="74.0" r="1.55"/><circle cx="406.2" cy="84.9" r="1.55"/><circle cx="408.8" cy="72.1" r="1.55"/><circle cx="406.3" cy="87.7" r="1.55"/><circle cx="406.4" cy="70.3" r="1.55"/><circle cx="408.7" cy="68.5" r="1.55"/><circle cx="406.5" cy="90.4" r="1.55"/><circle cx="406.7" cy="65.7" r="1.55"/><circle cx="409.7" cy="64.8" r="1.55"/><circle cx="406.7" cy="94.1" r="1.55"/><circle cx="406.3" cy="96.8" r="1.55"/><circle cx="406.9" cy="61.2" r="1.55"/><circle cx="406.7" cy="99.6" r="1.55"/><circle cx="406.9" cy="106.0" r="1.55"/><circle cx="406.9" cy="112.3" r="1.55"/></g>
<line x1="401.36" y1="79.444" x2="411.76" y2="79.444" stroke="#222" stroke-width="1.0"/>
<line x1="406.56" y1="75.78800000000001" x2="406.56" y2="83.10000000000001" stroke="#222" stroke-width="0.9"/>
<line x1="403.56" y1="75.78800000000001" x2="409.56" y2="75.78800000000001" stroke="#222" stroke-width="0.9"/>
<line x1="403.56" y1="83.10000000000001" x2="409.56" y2="83.10000000000001" stroke="#222" stroke-width="0.9"/>
<g fill="#22b322"><circle cx="421.1" cy="84.9" r="1.55"/><circle cx="421.2" cy="87.7" r="1.55"/><circle cx="423.4" cy="83.1" r="1.55"/><circle cx="421.0" cy="90.4" r="1.55"/><circle cx="420.9" cy="81.3" r="1.55"/><circle cx="423.3" cy="92.2" r="1.55"/><circle cx="421.5" cy="78.5" r="1.55"/><circle cx="424.4" cy="77.6" r="1.55"/><circle cx="420.8" cy="94.1" r="1.55"/><circle cx="420.9" cy="75.8" r="1.55"/><circle cx="421.3" cy="96.8" r="1.55"/><circle cx="423.0" cy="74.0" r="1.55"/><circle cx="420.5" cy="72.1" r="1.55"/><circle cx="420.8" cy="101.4" r="1.55"/><circle cx="420.9" cy="69.4" r="1.55"/><circle cx="421.4" cy="110.5" r="1.55"/><circle cx="420.8" cy="113.3" r="1.55"/></g>
<line x1="415.96" y1="85.84200000000001" x2="426.35999999999996" y2="85.84200000000001" stroke="#222" stroke-width="1.0"/>
<line x1="421.15999999999997" y1="79.444" x2="421.15999999999997" y2="92.24000000000001" stroke="#222" stroke-width="0.9"/>
<line x1="418.15999999999997" y1="79.444" x2="424.15999999999997" y2="79.444" stroke="#222" stroke-width="0.9"/>
<line x1="418.15999999999997" y1="92.24000000000001" x2="424.15999999999997" y2="92.24000000000001" stroke="#222" stroke-width="0.9"/>
<g fill="#6e6e6e"><circle cx="435.4" cy="84.0" r="1.3"/><circle cx="435.4" cy="86.8" r="1.3"/><circle cx="435.9" cy="81.3" r="1.3"/><circle cx="436.1" cy="89.5" r="1.3"/><circle cx="435.7" cy="75.8" r="1.3"/><circle cx="435.5" cy="94.1" r="1.3"/><circle cx="435.5" cy="71.2" r="1.3"/><circle cx="435.4" cy="97.7" r="1.3"/></g>
<line x1="430.56" y1="84.01400000000001" x2="440.96" y2="84.01400000000001" stroke="#222" stroke-width="1.0"/>
<line x1="435.76" y1="75.78800000000001" x2="435.76" y2="92.24000000000001" stroke="#222" stroke-width="0.9"/>
<line x1="432.76" y1="75.78800000000001" x2="438.76" y2="75.78800000000001" stroke="#222" stroke-width="0.9"/>
<line x1="432.76" y1="92.24000000000001" x2="438.76" y2="92.24000000000001" stroke="#222" stroke-width="0.9"/>
<path d="M475.49 37.4 H538.49 V128.8" fill="none" stroke="#c4c4c4" stroke-width="1"/>
<line x1="475.49" y1="37.1" x2="475.49" y2="129.3" stroke="#8c8c8c" stroke-width="1.1"/>
<line x1="474.99" y1="128.8" x2="538.99" y2="128.8" stroke="#ababab" stroke-width="1.3"/>
<line x1="472.29" y1="128.8" x2="475.49" y2="128.8" stroke="#888" stroke-width="0.9"/>
<text x="470.89" y="132.10000000000002" font-size="9.2" text-anchor="end" fill="#262626">0</text>
<line x1="472.29" y1="105.95000000000002" x2="475.49" y2="105.95000000000002" stroke="#888" stroke-width="0.9"/>
<text x="470.89" y="109.25000000000001" font-size="9.2" text-anchor="end" fill="#262626">10</text>
<line x1="472.29" y1="83.10000000000001" x2="475.49" y2="83.10000000000001" stroke="#888" stroke-width="0.9"/>
<text x="470.89" y="86.4" font-size="9.2" text-anchor="end" fill="#262626">20</text>
<line x1="472.29" y1="60.25" x2="475.49" y2="60.25" stroke="#888" stroke-width="0.9"/>
<text x="470.89" y="63.55" font-size="9.2" text-anchor="end" fill="#262626">30</text>
<line x1="472.29" y1="37.400000000000006" x2="475.49" y2="37.400000000000006" stroke="#888" stroke-width="0.9"/>
<text x="470.89" y="40.7" font-size="9.2" text-anchor="end" fill="#262626">40</text>
<text x="506.99" y="34.2" font-size="9.3" text-anchor="middle" fill="#262626">CD8 T cells</text>
<g fill="#f52a2a"><circle cx="484.8" cy="99.1" r="1.55"/><circle cx="488.3" cy="98.0" r="1.55"/><circle cx="481.6" cy="100.2" r="1.55"/><circle cx="483.1" cy="96.8" r="1.55"/><circle cx="486.9" cy="101.4" r="1.55"/><circle cx="485.7" cy="95.7" r="1.55"/><circle cx="484.8" cy="103.7" r="1.55"/><circle cx="488.2" cy="94.5" r="1.55"/><circle cx="485.1" cy="92.2" r="1.55"/><circle cx="486.8" cy="106.0" r="1.55"/><circle cx="487.9" cy="91.1" r="1.55"/><circle cx="484.0" cy="107.1" r="1.55"/><circle cx="482.8" cy="90.0" r="1.55"/><circle cx="488.8" cy="108.2" r="1.55"/><circle cx="486.2" cy="88.8" r="1.55"/><circle cx="488.9" cy="87.7" r="1.55"/><circle cx="484.9" cy="110.5" r="1.55"/><circle cx="485.1" cy="85.4" r="1.55"/><circle cx="486.6" cy="112.8" r="1.55"/><circle cx="484.6" cy="115.1" r="1.55"/><circle cx="487.0" cy="83.1" r="1.55"/><circle cx="487.2" cy="116.2" r="1.55"/><circle cx="482.8" cy="117.4" r="1.55"/><circle cx="485.6" cy="118.5" r="1.55"/><circle cx="485.1" cy="78.5" r="1.55"/><circle cx="485.2" cy="72.8" r="1.55"/><circle cx="484.6" cy="64.8" r="1.55"/><circle cx="484.9" cy="48.8" r="1.55"/></g>
<line x1="479.69" y1="99.09500000000001" x2="490.09" y2="99.09500000000001" stroke="#222" stroke-width="1.0"/>
<line x1="484.89" y1="93.38250000000001" x2="484.89" y2="104.8075" stroke="#222" stroke-width="0.9"/>
<line x1="481.89" y1="93.38250000000001" x2="487.89" y2="93.38250000000001" stroke="#222" stroke-width="0.9"/>
<line x1="481.89" y1="104.8075" x2="487.89" y2="104.8075" stroke="#222" stroke-width="0.9"/>
<g fill="#26409c"><circle cx="499.7" cy="104.8" r="1.55"/><circle cx="502.1" cy="103.7" r="1.55"/><circle cx="496.8" cy="106.0" r="1.55"/><circle cx="499.9" cy="101.4" r="1.55"/><circle cx="499.3" cy="108.2" r="1.55"/><circle cx="497.1" cy="100.2" r="1.55"/><circle cx="501.9" cy="99.1" r="1.55"/><circle cx="501.5" cy="110.5" r="1.55"/><circle cx="499.9" cy="96.8" r="1.55"/><circle cx="499.5" cy="112.8" r="1.55"/><circle cx="501.7" cy="115.1" r="1.55"/><circle cx="499.8" cy="117.4" r="1.55"/><circle cx="501.8" cy="119.7" r="1.55"/><circle cx="498.6" cy="120.8" r="1.55"/><circle cx="499.2" cy="87.7" r="1.55"/><circle cx="501.4" cy="85.4" r="1.55"/><circle cx="499.6" cy="83.1" r="1.55"/><circle cx="501.2" cy="80.8" r="1.55"/><circle cx="499.7" cy="78.5" r="1.55"/><circle cx="499.9" cy="55.7" r="1.55"/></g>
<line x1="494.29" y1="104.8075" x2="504.69" y2="104.8075" stroke="#222" stroke-width="1.0"/>
<line x1="499.49" y1="99.09500000000001" x2="499.49" y2="110.52000000000001" stroke="#222" stroke-width="0.9"/>
<line x1="496.49" y1="99.09500000000001" x2="502.49" y2="99.09500000000001" stroke="#222" stroke-width="0.9"/>
<line x1="496.49" y1="110.52000000000001" x2="502.49" y2="110.52000000000001" stroke="#222" stroke-width="0.9"/>
<g fill="#22b322"><circle cx="514.3" cy="103.7" r="1.55"/><circle cx="517.4" cy="102.5" r="1.55"/><circle cx="512.1" cy="101.4" r="1.55"/><circle cx="512.1" cy="106.0" r="1.55"/><circle cx="514.7" cy="100.2" r="1.55"/><circle cx="518.4" cy="99.1" r="1.55"/><circle cx="513.9" cy="108.2" r="1.55"/><circle cx="514.4" cy="96.8" r="1.55"/><circle cx="515.4" cy="110.5" r="1.55"/><circle cx="516.0" cy="94.5" r="1.55"/><circle cx="513.1" cy="112.8" r="1.55"/><circle cx="515.4" cy="115.1" r="1.55"/><circle cx="513.7" cy="117.4" r="1.55"/><circle cx="516.4" cy="119.7" r="1.55"/><circle cx="514.5" cy="121.9" r="1.55"/><circle cx="513.0" cy="124.2" r="1.55"/><circle cx="514.0" cy="82.0" r="1.55"/><circle cx="514.3" cy="78.5" r="1.55"/><circle cx="514.2" cy="60.2" r="1.55"/></g>
<line x1="508.89000000000004" y1="103.665" x2="519.2900000000001" y2="103.665" stroke="#222" stroke-width="1.0"/>
<line x1="514.09" y1="99.09500000000001" x2="514.09" y2="108.23500000000001" stroke="#222" stroke-width="0.9"/>
<line x1="511.09000000000003" y1="99.09500000000001" x2="517.09" y2="99.09500000000001" stroke="#222" stroke-width="0.9"/>
<line x1="511.09000000000003" y1="108.23500000000001" x2="517.09" y2="108.23500000000001" stroke="#222" stroke-width="0.9"/>
<g fill="#6e6e6e"><circle cx="528.5" cy="101.4" r="1.3"/><circle cx="530.7" cy="103.7" r="1.3"/><circle cx="528.6" cy="106.0" r="1.3"/><circle cx="532.0" cy="107.1" r="1.3"/><circle cx="528.9" cy="96.8" r="1.3"/><circle cx="526.9" cy="108.2" r="1.3"/><circle cx="523.5" cy="108.2" r="1.3"/><circle cx="528.7" cy="93.4" r="1.3"/><circle cx="529.0" cy="84.2" r="1.3"/><circle cx="529.0" cy="66.0" r="1.3"/></g>
<line x1="523.4899999999999" y1="102.52250000000001" x2="533.89" y2="102.52250000000001" stroke="#222" stroke-width="1.0"/>
<line x1="528.6899999999999" y1="93.38250000000001" x2="528.6899999999999" y2="108.23500000000001" stroke="#222" stroke-width="0.9"/>
<line x1="525.6899999999999" y1="93.38250000000001" x2="531.6899999999999" y2="93.38250000000001" stroke="#222" stroke-width="0.9"/>
<line x1="525.6899999999999" y1="108.23500000000001" x2="531.6899999999999" y2="108.23500000000001" stroke="#222" stroke-width="0.9"/>
<text x="170" y="82" font-size="9" text-anchor="middle" fill="#262626" transform="rotate(-90 170 82)">% of lymphocytes</text>
<text x="151.6" y="147.2" font-size="15.5" text-anchor="start" fill="#262626">C</text>
<defs>
<linearGradient id="cb" x1="0" y1="0" x2="0" y2="1"><stop offset="0" stop-color="#a50026"/><stop offset="0.12" stop-color="#d73027"/><stop offset="0.28" stop-color="#f46d43"/><stop offset="0.40" stop-color="#fdae61"/><stop offset="0.49" stop-color="#f5e6c0"/><stop offset="0.59" stop-color="#abd9e9"/><stop offset="0.78" stop-color="#5a9bd0"/><stop offset="0.9" stop-color="#2f65b0"/><stop offset="1" stop-color="#233f90"/></linearGradient>
<pattern id="speck" width="8" height="8" patternUnits="userSpaceOnUse"><g fill="#fff" opacity="0.6"><circle cx="5.12" cy="0.20" r="0.32"/><circle cx="1.79" cy="5.89" r="0.42"/><circle cx="7.14" cy="0.70" r="0.36"/><circle cx="0.24" cy="1.75" r="0.38"/><circle cx="0.21" cy="1.59" r="0.41"/><circle cx="4.36" cy="1.76" r="0.40"/><circle cx="6.48" cy="0.05" r="0.45"/><circle cx="5.59" cy="2.72" r="0.29"/><circle cx="7.66" cy="2.69" r="0.27"/><circle cx="0.77" cy="6.78" r="0.40"/><circle cx="6.46" cy="5.84" r="0.38"/><circle cx="7.78" cy="3.03" r="0.39"/><circle cx="6.64" cy="4.95" r="0.47"/><circle cx="4.62" cy="5.64" r="0.26"/><circle cx="1.82" cy="2.32" r="0.27"/><circle cx="1.86" cy="0.81" r="0.32"/><circle cx="5.09" cy="2.92" r="0.34"/><circle cx="1.68" cy="2.14" r="0.48"/></g></pattern>
<linearGradient id="g1" x1="0.25" y1="0.25" x2="0.8" y2="0.85"><stop offset="0" stop-color="#b1d9ea"/><stop offset="0.45" stop-color="#c6e2e6"/><stop offset="1" stop-color="#efdfb8"/></linearGradient>
<linearGradient id="g2" x1="0.2" y1="0.2" x2="0.9" y2="0.8"><stop offset="0" stop-color="#2b68b8"/><stop offset="0.6" stop-color="#3678c2"/><stop offset="1" stop-color="#5fa0d4"/></linearGradient>
<filter id="rough" x="-5%" y="-5%" width="110%" height="110%"><feTurbulence type="fractalNoise" baseFrequency="0.45" numOctaves="2" seed="4" result="t"/><feDisplacementMap in="SourceGraphic" in2="t" scale="2.5" xChannelSelector="R" yChannelSelector="G"/></filter>
<g id="map0"><circle cx="54.5" cy="90.0" r="0.57" fill="#2a55a5"/>
<circle cx="95.4" cy="54.1" r="0.41" fill="#2a55a5"/>
<circle cx="89.9" cy="49.4" r="0.51" fill="#9ccde2"/>
<circle cx="30.2" cy="25.0" r="0.69" fill="#2a55a5"/>
<circle cx="9.3" cy="44.3" r="0.33" fill="#9ccde2"/>
<circle cx="53.6" cy="10.2" r="0.31" fill="#9ccde2"/>
<circle cx="42.8" cy="6.6" r="0.71" fill="#2a55a5"/>
<circle cx="17.1" cy="77.2" r="0.72" fill="#e84a35"/>
<circle cx="74.0" cy="76.4" r="0.50" fill="#9ccde2"/>
<circle cx="26.5" cy="25.0" r="0.47" fill="#2a55a5"/>
<circle cx="27.7" cy="82.9" r="0.71" fill="#e84a35"/>
<circle cx="32.7" cy="9.1" r="0.75" fill="#2a55a5"/>
<circle cx="81.0" cy="15.2" r="0.56" fill="#2a55a5"/>
<circle cx="43.8" cy="17.2" r="0.56" fill="#2a55a5"/>
<circle cx="44.6" cy="81.4" r="0.75" fill="#9ccde2"/>
<circle cx="88.5" cy="73.5" r="0.37" fill="#2a55a5"/>
<circle cx="39.8" cy="91.9" r="0.32" fill="#9ccde2"/>
<circle cx="44.4" cy="15.0" r="0.74" fill="#2a55a5"/>
<circle cx="5.0" cy="48.9" r="0.33" fill="#2a55a5"/>
<circle cx="63.7" cy="85.9" r="0.37" fill="#2a55a5"/>
<circle cx="94.5" cy="62.2" r="0.73" fill="#2a55a5"/>
<circle cx="13.5" cy="35.7" r="0.53" fill="#9ccde2"/>
<circle cx="13.1" cy="68.2" r="0.44" fill="#2a55a5"/>
<circle cx="90.4" cy="45.0" r="0.31" fill="#e84a35"/>
<circle cx="91.9" cy="55.6" r="0.33" fill="#3a5fae"/>
<circle cx="24.8" cy="23.0" r="0.46" fill="#2a55a5"/>
<circle cx="40.1" cy="9.5" r="0.33" fill="#9ccde2"/>
<circle cx="30.9" cy="9.4" r="0.51" fill="#9ccde2"/>
<circle cx="21.4" cy="30.7" r="0.44" fill="#e84a35"/>
<circle cx="24.0" cy="80.1" r="0.47" fill="#2a55a5"/>
<circle cx="55.8" cy="19.7" r="0.63" fill="#2a55a5"/>
<circle cx="38.8" cy="82.5" r="0.41" fill="#e84a35"/>
<circle cx="66.0" cy="85.5" r="0.35" fill="#2a55a5"/>
<circle cx="35.7" cy="83.1" r="0.50" fill="#e84a35"/>
<circle cx="30.1" cy="85.8" r="0.50" fill="#9ccde2"/>
<circle cx="56.6" cy="82.8" r="0.39" fill="#2a55a5"/>
<circle cx="66.9" cy="9.2" r="0.43" fill="#9ccde2"/>
<circle cx="66.0" cy="12.0" r="0.46" fill="#2a55a5"/>
<circle cx="75.9" cy="76.4" r="0.42" fill="#e84a35"/>
<circle cx="30.1" cy="81.4" r="0.48" fill="#e84a35"/>
<circle cx="97.1" cy="51.8" r="0.74" fill="#9ccde2"/>
<circle cx="9.6" cy="68.8" r="0.40" fill="#9ccde2"/>
<circle cx="50.3" cy="6.4" r="0.53" fill="#2a55a5"/>
<circle cx="42.7" cy="85.8" r="0.33" fill="#2a55a5"/>
<circle cx="21.4" cy="31.7" r="0.32" fill="#9ccde2"/>
<circle cx="86.0" cy="26.6" r="0.70" fill="#2a55a5"/>
<circle cx="83.9" cy="26.9" r="0.64" fill="#9ccde2"/>
<circle cx="68.3" cy="82.0" r="0.54" fill="#2a55a5"/>
<circle cx="12.4" cy="74.0" r="0.45" fill="#9ccde2"/>
<circle cx="50.8" cy="94.9" r="0.65" fill="#2a55a5"/>
<circle cx="31.2" cy="77.8" r="0.67" fill="#e84a35"/>
<circle cx="72.1" cy="88.7" r="0.66" fill="#9ccde2"/>
<circle cx="20.8" cy="18.4" r="0.42" fill="#9ccde2"/>
<circle cx="46.9" cy="89.6" r="0.51" fill="#2a55a5"/>
<circle cx="74.0" cy="72.9" r="0.68" fill="#9ccde2"/>
<circle cx="37.0" cy="83.4" r="0.59" fill="#2a55a5"/>
<circle cx="20.1" cy="31.5" r="0.45" fill="#2a55a5"/>
<circle cx="79.8" cy="78.4" r="0.47" fill="#2a55a5"/>
<circle cx="23.1" cy="79.5" r="0.47" fill="#9ccde2"/>
<circle cx="64.4" cy="11.8" r="0.47" fill="#9ccde2"/>
<circle cx="9.5" cy="51.5" r="0.61" fill="#e84a35"/>
<circle cx="10.6" cy="41.1" r="0.49" fill="#2a55a5"/>
<circle cx="11.5" cy="70.6" r="0.47" fill="#9ccde2"/>
<circle cx="86.3" cy="24.5" r="0.51" fill="#9ccde2"/>
<circle cx="82.8" cy="81.1" r="0.70" fill="#3a5fae"/>
<circle cx="62.4" cy="10.5" r="0.55" fill="#2a55a5"/>
<circle cx="84.6" cy="51.5" r="0.32" fill="#9ccde2"/>
<circle cx="95.2" cy="57.0" r="0.68" fill="#2a55a5"/>
<circle cx="31.1" cy="11.4" r="0.56" fill="#2a55a5"/>
<circle cx="55.8" cy="11.7" r="0.35" fill="#2a55a5"/>
<circle cx="51.2" cy="5.0" r="0.45" fill="#9ccde2"/>
<circle cx="11.1" cy="33.3" r="0.38" fill="#2a55a5"/>
<circle cx="51.5" cy="91.2" r="0.48" fill="#e84a35"/>
<circle cx="26.4" cy="78.1" r="0.49" fill="#e84a35"/>
<circle cx="88.5" cy="44.2" r="0.37" fill="#9ccde2"/>
<circle cx="35.9" cy="10.6" r="0.53" fill="#2a55a5"/>
<circle cx="10.6" cy="54.7" r="0.37" fill="#9ccde2"/>
<circle cx="86.7" cy="74.7" r="0.53" fill="#9ccde2"/>
<circle cx="65.2" cy="82.8" r="0.56" fill="#2a55a5"/>
<circle cx="37.8" cy="82.2" r="0.73" fill="#2a55a5"/>
<circle cx="39.5" cy="90.9" r="0.68" fill="#2a55a5"/>
<circle cx="21.2" cy="32.7" r="0.31" fill="#2a55a5"/>
<circle cx="68.7" cy="82.9" r="0.65" fill="#2a55a5"/>
<circle cx="80.2" cy="86.9" r="0.57" fill="#3a5fae"/>
<circle cx="8.3" cy="59.3" r="0.55" fill="#9ccde2"/>
<circle cx="9.5" cy="55.5" r="0.48" fill="#9ccde2"/>
<circle cx="46.8" cy="4.8" r="0.40" fill="#2a55a5"/>
<circle cx="55.5" cy="92.6" r="0.73" fill="#2a55a5"/>
<circle cx="64.5" cy="83.0" r="0.62" fill="#2a55a5"/>
<circle cx="79.9" cy="15.6" r="0.69" fill="#9ccde2"/>
<circle cx="36.9" cy="85.2" r="0.34" fill="#2a55a5"/>
<circle cx="88.3" cy="74.7" r="0.46" fill="#2a55a5"/>
<circle cx="15.1" cy="30.4" r="0.45" fill="#2a55a5"/>
<circle cx="61.5" cy="89.5" r="0.48" fill="#9ccde2"/>
<circle cx="45.1" cy="91.5" r="0.70" fill="#2a55a5"/>
<circle cx="57.5" cy="8.0" r="0.60" fill="#9ccde2"/>
<circle cx="26.8" cy="14.6" r="0.64" fill="#9ccde2"/>
<circle cx="91.9" cy="40.5" r="0.35" fill="#e84a35"/>
<circle cx="15.0" cy="51.9" r="0.61" fill="#9ccde2"/>
<circle cx="20.7" cy="36.8" r="0.58" fill="#9ccde2"/>
<circle cx="70.8" cy="91.0" r="0.36" fill="#2a55a5"/>
<circle cx="30.8" cy="87.4" r="0.55" fill="#e84a35"/>
<circle cx="38.6" cy="81.6" r="0.62" fill="#2a55a5"/>
<circle cx="52.6" cy="10.9" r="0.46" fill="#2a55a5"/>
<circle cx="47.8" cy="87.4" r="0.32" fill="#9ccde2"/>
<circle cx="55.8" cy="14.2" r="0.48" fill="#9ccde2"/>
<circle cx="9.9" cy="39.4" r="0.68" fill="#e84a35"/>
<circle cx="59.2" cy="8.8" r="0.39" fill="#9ccde2"/>
<circle cx="14.5" cy="71.8" r="0.64" fill="#9ccde2"/>
<circle cx="12.1" cy="43.6" r="0.41" fill="#2a55a5"/>
<circle cx="66.2" cy="8.1" r="0.47" fill="#2a55a5"/>
<circle cx="13.5" cy="37.5" r="0.74" fill="#9ccde2"/>
<circle cx="94.6" cy="51.1" r="0.52" fill="#9ccde2"/>
<circle cx="65.2" cy="87.4" r="0.53" fill="#2a55a5"/>
<circle cx="9.5" cy="32.0" r="0.36" fill="#9ccde2"/>
<circle cx="62.2" cy="11.1" r="0.46" fill="#9ccde2"/>
<circle cx="54.8" cy="82.3" r="0.72" fill="#2a55a5"/>
<circle cx="31.7" cy="90.5" r="0.36" fill="#9ccde2"/>
<circle cx="89.4" cy="31.8" r="0.45" fill="#9ccde2"/>
<circle cx="67.4" cy="7.9" r="0.50" fill="#2a55a5"/>
<circle cx="53.2" cy="11.9" r="0.32" fill="#9ccde2"/>
<circle cx="72.2" cy="83.4" r="0.54" fill="#2a55a5"/>
<circle cx="38.6" cy="86.6" r="0.48" fill="#e84a35"/>
<circle cx="70.5" cy="91.3" r="0.47" fill="#2a55a5"/>
<circle cx="24.4" cy="79.0" r="0.40" fill="#e84a35"/>
<circle cx="85.7" cy="51.1" r="0.36" fill="#9ccde2"/>
<circle cx="60.0" cy="82.9" r="0.38" fill="#2a55a5"/>
<circle cx="70.5" cy="84.2" r="0.31" fill="#2a55a5"/>
<circle cx="42.4" cy="20.3" r="0.48" fill="#9ccde2"/>
<circle cx="96.8" cy="58.2" r="0.34" fill="#2a55a5"/>
<circle cx="25.3" cy="25.2" r="0.32" fill="#9ccde2"/>
<circle cx="46.6" cy="15.6" r="0.51" fill="#2a55a5"/>
<circle cx="51.5" cy="85.6" r="0.58" fill="#e84a35"/>
<circle cx="33.4" cy="77.2" r="0.74" fill="#9ccde2"/>
<circle cx="66.5" cy="77.9" r="0.59" fill="#2a55a5"/>
<circle cx="89.5" cy="44.2" r="0.71" fill="#9ccde2"/>
<circle cx="37.8" cy="88.7" r="0.34" fill="#9ccde2"/>
<circle cx="39.6" cy="93.1" r="0.48" fill="#2a55a5"/>
<circle cx="30.5" cy="86.5" r="0.38" fill="#9ccde2"/>
<circle cx="48.8" cy="8.1" r="0.55" fill="#2a55a5"/>
<circle cx="58.6" cy="12.6" r="0.38" fill="#9ccde2"/>
<circle cx="44.1" cy="10.6" r="0.47" fill="#2a55a5"/>
<circle cx="43.9" cy="20.4" r="0.64" fill="#2a55a5"/>
<circle cx="55.1" cy="94.5" r="0.70" fill="#2a55a5"/>
<circle cx="85.4" cy="24.8" r="0.47" fill="#9ccde2"/>
<circle cx="85.0" cy="66.8" r="0.35" fill="#9ccde2"/>
<circle cx="22.0" cy="36.9" r="0.59" fill="#2a55a5"/>
<circle cx="53.3" cy="81.9" r="0.59" fill="#2a55a5"/>
<circle cx="57.3" cy="96.2" r="0.55" fill="#2a55a5"/>
<circle cx="13.7" cy="71.4" r="0.65" fill="#9ccde2"/>
<circle cx="65.5" cy="79.2" r="0.35" fill="#e84a35"/>
<circle cx="97.0" cy="57.4" r="0.70" fill="#2a55a5"/>
<circle cx="59.0" cy="93.8" r="0.59" fill="#2a55a5"/>
<circle cx="54.7" cy="6.0" r="0.57" fill="#9ccde2"/>
<circle cx="72.1" cy="15.8" r="0.39" fill="#2a55a5"/>
<circle cx="14.3" cy="41.2" r="0.33" fill="#9ccde2"/>
<circle cx="29.5" cy="82.3" r="0.55" fill="#2a55a5"/>
<circle cx="48.0" cy="13.0" r="0.57" fill="#2a55a5"/>
<circle cx="59.6" cy="86.1" r="0.45" fill="#9ccde2"/>
<circle cx="58.2" cy="83.3" r="0.63" fill="#9ccde2"/>
<circle cx="84.2" cy="17.7" r="0.72" fill="#2a55a5"/>
<circle cx="14.8" cy="42.1" r="0.71" fill="#9ccde2"/>
<circle cx="88.2" cy="38.5" r="0.48" fill="#9ccde2"/>
<circle cx="96.8" cy="49.7" r="0.72" fill="#2a55a5"/>
<circle cx="64.4" cy="80.1" r="0.43" fill="#2a55a5"/>
<circle cx="10.7" cy="45.5" r="0.64" fill="#2a55a5"/>
<circle cx="45.4" cy="87.8" r="0.63" fill="#2a55a5"/>
<circle cx="50.8" cy="15.0" r="0.43" fill="#9ccde2"/>
<circle cx="76.0" cy="85.8" r="0.74" fill="#2a55a5"/>
<circle cx="95.8" cy="44.8" r="0.37" fill="#e84a35"/>
<circle cx="37.0" cy="86.0" r="0.54" fill="#2a55a5"/>
<circle cx="23.3" cy="84.7" r="0.51" fill="#2a55a5"/>
<circle cx="84.6" cy="22.0" r="0.41" fill="#9ccde2"/>
<circle cx="78.2" cy="79.5" r="0.37" fill="#2a55a5"/>
<circle cx="83.9" cy="61.1" r="0.51" fill="#9ccde2"/>
<circle cx="94.4" cy="44.9" r="0.32" fill="#9ccde2"/>
<circle cx="63.7" cy="78.8" r="0.45" fill="#2a55a5"/>
<circle cx="89.1" cy="63.0" r="0.44" fill="#2a55a5"/>
<circle cx="52.3" cy="94.1" r="0.42" fill="#2a55a5"/>
<circle cx="87.8" cy="60.8" r="0.60" fill="#3a5fae"/>
<circle cx="88.7" cy="27.7" r="0.36" fill="#9ccde2"/>
<circle cx="53.8" cy="7.2" r="0.67" fill="#2a55a5"/>
<circle cx="18.0" cy="39.2" r="0.31" fill="#2a55a5"/>
<circle cx="23.5" cy="15.3" r="0.51" fill="#2a55a5"/>
<circle cx="28.5" cy="11.3" r="0.57" fill="#2a55a5"/>
<circle cx="67.6" cy="80.1" r="0.75" fill="#2a55a5"/>
<circle cx="15.7" cy="39.6" r="0.50" fill="#e84a35"/>
<circle cx="35.9" cy="86.5" r="0.68" fill="#2a55a5"/>
<circle cx="72.8" cy="10.3" r="0.31" fill="#2a55a5"/>
<circle cx="16.1" cy="32.6" r="0.43" fill="#e84a35"/>
<circle cx="40.1" cy="6.8" r="0.60" fill="#9ccde2"/>
<circle cx="24.5" cy="78.8" r="0.73" fill="#9ccde2"/>
<circle cx="30.5" cy="23.9" r="0.38" fill="#2a55a5"/>
<circle cx="18.8" cy="79.9" r="0.42" fill="#2a55a5"/>
<circle cx="94.9" cy="36.4" r="0.48" fill="#2a55a5"/>
<circle cx="44.9" cy="82.7" r="0.74" fill="#2a55a5"/>
<circle cx="61.4" cy="80.9" r="0.63" fill="#2a55a5"/>
<circle cx="73.1" cy="15.7" r="0.30" fill="#2a55a5"/>
<circle cx="42.3" cy="95.5" r="0.42" fill="#2a55a5"/>
<circle cx="55.5" cy="96.2" r="0.71" fill="#2a55a5"/>
<circle cx="49.1" cy="79.6" r="0.29" fill="#2a55a5"/>
<circle cx="55.3" cy="82.9" r="0.31" fill="#9ccde2"/>
<circle cx="57.0" cy="84.9" r="0.54" fill="#2a55a5"/>
<circle cx="51.8" cy="87.6" r="0.37" fill="#9ccde2"/>
<circle cx="54.1" cy="88.6" r="0.29" fill="#2a55a5"/>
<circle cx="43.0" cy="94.9" r="0.27" fill="#2a55a5"/>
<circle cx="83.4" cy="79.7" r="0.54" fill="#2a55a5"/>
<circle cx="41.0" cy="86.7" r="0.34" fill="#2a55a5"/>
<circle cx="46.6" cy="92.9" r="0.48" fill="#2a55a5"/>
<circle cx="44.1" cy="87.4" r="0.38" fill="#2a55a5"/>
<circle cx="58.0" cy="83.1" r="0.43" fill="#9ccde2"/>
<circle cx="58.3" cy="83.4" r="0.54" fill="#9ccde2"/>
<circle cx="58.5" cy="89.4" r="0.31" fill="#2a55a5"/>
<circle cx="64.1" cy="85.3" r="0.51" fill="#2a55a5"/>
<circle cx="73.1" cy="86.9" r="0.49" fill="#9ccde2"/>
<circle cx="50.7" cy="80.4" r="0.48" fill="#2a55a5"/>
<circle cx="45.6" cy="84.6" r="0.29" fill="#2a55a5"/>
<circle cx="50.3" cy="91.3" r="0.36" fill="#2a55a5"/>
<circle cx="47.3" cy="91.3" r="0.54" fill="#9ccde2"/>
<circle cx="66.1" cy="78.8" r="0.34" fill="#9ccde2"/>
<circle cx="54.4" cy="88.5" r="0.40" fill="#2a55a5"/>
<circle cx="48.0" cy="92.1" r="0.33" fill="#9ccde2"/>
<circle cx="45.2" cy="87.7" r="0.41" fill="#9ccde2"/>
<circle cx="66.0" cy="85.5" r="0.38" fill="#2a55a5"/>
<circle cx="63.6" cy="88.2" r="0.50" fill="#2a55a5"/>
<circle cx="71.5" cy="89.6" r="0.37" fill="#9ccde2"/>
<circle cx="50.8" cy="88.6" r="0.41" fill="#9ccde2"/>
<circle cx="38.6" cy="90.2" r="0.46" fill="#2a55a5"/>
<circle cx="51.7" cy="91.6" r="0.37" fill="#2a55a5"/>
<circle cx="50.6" cy="84.6" r="0.32" fill="#2a55a5"/>
<circle cx="51.3" cy="84.2" r="0.27" fill="#2a55a5"/>
<circle cx="54.5" cy="87.2" r="0.41" fill="#9ccde2"/>
<circle cx="40.6" cy="84.2" r="0.50" fill="#9ccde2"/>
<circle cx="63.3" cy="83.2" r="0.45" fill="#2a55a5"/>
<circle cx="61.4" cy="82.7" r="0.39" fill="#9ccde2"/>
<circle cx="53.7" cy="89.2" r="0.50" fill="#2a55a5"/>
<circle cx="56.8" cy="86.6" r="0.36" fill="#2a55a5"/>
<circle cx="57.8" cy="83.2" r="0.33" fill="#2a55a5"/>
<circle cx="45.4" cy="85.6" r="0.44" fill="#2a55a5"/>
<circle cx="51.3" cy="86.9" r="0.54" fill="#2a55a5"/>
<circle cx="63.4" cy="88.7" r="0.48" fill="#9ccde2"/>
<circle cx="56.1" cy="86.3" r="0.39" fill="#2a55a5"/>
<circle cx="68.3" cy="80.2" r="0.35" fill="#2a55a5"/>
<circle cx="38.8" cy="80.8" r="0.31" fill="#2a55a5"/>
<circle cx="65.9" cy="89.8" r="0.26" fill="#9ccde2"/>
<circle cx="43.4" cy="85.0" r="0.28" fill="#2a55a5"/>
<circle cx="37.6" cy="87.9" r="0.41" fill="#2a55a5"/>
<circle cx="68.2" cy="85.2" r="0.41" fill="#2a55a5"/>
<circle cx="62.4" cy="90.6" r="0.44" fill="#2a55a5"/>
<circle cx="57.3" cy="75.1" r="0.51" fill="#2a55a5"/>
<circle cx="55.9" cy="87.7" r="0.38" fill="#2a55a5"/>
<circle cx="58.5" cy="95.1" r="0.53" fill="#2a55a5"/>
<circle cx="62.8" cy="83.4" r="0.31" fill="#2a55a5"/>
<circle cx="65.3" cy="87.4" r="0.37" fill="#9ccde2"/>
<circle cx="56.5" cy="84.5" r="0.37" fill="#2a55a5"/>
<circle cx="58.0" cy="89.4" r="0.33" fill="#2a55a5"/>
<circle cx="52.7" cy="88.0" r="0.32" fill="#2a55a5"/>
<circle cx="48.8" cy="84.5" r="0.46" fill="#2a55a5"/>
<circle cx="49.1" cy="80.0" r="0.30" fill="#2a55a5"/>
<circle cx="46.2" cy="89.8" r="0.43" fill="#2a55a5"/>
<circle cx="52.1" cy="86.6" r="0.49" fill="#9ccde2"/>
<circle cx="43.2" cy="86.4" r="0.33" fill="#9ccde2"/>
<circle cx="52.5" cy="82.7" r="0.50" fill="#9ccde2"/>
<circle cx="49.4" cy="86.3" r="0.47" fill="#2a55a5"/>
<circle cx="53.7" cy="79.4" r="0.28" fill="#2a55a5"/>
<circle cx="61.1" cy="81.4" r="0.41" fill="#9ccde2"/>
<circle cx="45.1" cy="87.9" r="0.42" fill="#9ccde2"/>
<circle cx="56.2" cy="88.1" r="0.48" fill="#2a55a5"/>
<circle cx="63.4" cy="81.9" r="0.55" fill="#9ccde2"/>
<circle cx="54.9" cy="81.9" r="0.25" fill="#2a55a5"/>
<circle cx="54.2" cy="81.4" r="0.39" fill="#2a55a5"/>
<circle cx="55.0" cy="93.7" r="0.42" fill="#2a55a5"/>
<circle cx="63.8" cy="90.0" r="0.35" fill="#2a55a5"/>
<circle cx="59.2" cy="90.4" r="0.31" fill="#2a55a5"/>
<circle cx="51.2" cy="84.9" r="0.27" fill="#2a55a5"/>
<circle cx="58.2" cy="91.7" r="0.30" fill="#2a55a5"/>
<circle cx="35.2" cy="83.4" r="0.51" fill="#2a55a5"/>
<circle cx="52.3" cy="87.1" r="0.33" fill="#2a55a5"/>
<circle cx="59.2" cy="85.1" r="0.53" fill="#2a55a5"/>
<circle cx="48.6" cy="87.6" r="0.54" fill="#2a55a5"/>
<circle cx="45.3" cy="83.4" r="0.31" fill="#2a55a5"/>
<circle cx="70.9" cy="85.2" r="0.47" fill="#9ccde2"/>
<circle cx="66.4" cy="90.5" r="0.48" fill="#2a55a5"/>
<circle cx="31.5" cy="89.6" r="0.35" fill="#2a55a5"/>
<circle cx="61.8" cy="92.4" r="0.33" fill="#2a55a5"/>
<circle cx="42.4" cy="93.3" r="0.47" fill="#2a55a5"/>
<circle cx="51.3" cy="81.1" r="0.49" fill="#2a55a5"/>
<circle cx="43.5" cy="84.2" r="0.37" fill="#2a55a5"/>
<circle cx="61.2" cy="92.3" r="0.31" fill="#2a55a5"/>
<circle cx="32.7" cy="85.6" r="0.50" fill="#2a55a5"/>
<circle cx="53.1" cy="87.1" r="0.42" fill="#2a55a5"/>
<circle cx="60.3" cy="84.4" r="0.30" fill="#9ccde2"/>
<circle cx="54.3" cy="80.3" r="0.47" fill="#2a55a5"/>
<circle cx="42.1" cy="84.0" r="0.43" fill="#2a55a5"/>
<circle cx="63.2" cy="91.3" r="0.52" fill="#2a55a5"/>
<circle cx="58.7" cy="86.1" r="0.49" fill="#2a55a5"/>
<circle cx="49.6" cy="83.5" r="0.46" fill="#2a55a5"/>
<circle cx="52.3" cy="93.6" r="0.30" fill="#2a55a5"/>
<circle cx="47.0" cy="85.5" r="0.54" fill="#2a55a5"/>
<circle cx="57.9" cy="81.3" r="0.49" fill="#2a55a5"/>
<circle cx="51.0" cy="82.1" r="0.32" fill="#2a55a5"/>
<circle cx="57.6" cy="81.6" r="0.32" fill="#2a55a5"/>
<circle cx="61.5" cy="88.5" r="0.42" fill="#2a55a5"/>
<circle cx="48.9" cy="83.6" r="0.26" fill="#2a55a5"/>
<circle cx="51.8" cy="88.8" r="0.42" fill="#2a55a5"/>
<circle cx="55.9" cy="79.2" r="0.45" fill="#2a55a5"/>
<circle cx="45.6" cy="85.3" r="0.34" fill="#2a55a5"/>
<circle cx="57.9" cy="80.3" r="0.28" fill="#9ccde2"/>
<circle cx="44.1" cy="82.6" r="0.38" fill="#2a55a5"/>
<circle cx="60.5" cy="86.0" r="0.36" fill="#9ccde2"/>
<circle cx="62.6" cy="90.1" r="0.39" fill="#2a55a5"/>
<circle cx="63.3" cy="83.6" r="0.25" fill="#2a55a5"/>
<circle cx="69.1" cy="86.2" r="0.51" fill="#9ccde2"/>
<circle cx="67.9" cy="88.2" r="0.34" fill="#2a55a5"/>
<circle cx="52.6" cy="90.1" r="0.29" fill="#2a55a5"/>
<circle cx="56.3" cy="87.9" r="0.47" fill="#2a55a5"/>
<circle cx="56.3" cy="80.1" r="0.44" fill="#2a55a5"/>
<circle cx="50.0" cy="80.7" r="0.54" fill="#2a55a5"/>
<circle cx="67.3" cy="89.1" r="0.53" fill="#2a55a5"/>
<circle cx="52.2" cy="79.8" r="0.37" fill="#2a55a5"/>
<circle cx="53.3" cy="85.3" r="0.34" fill="#2a55a5"/>
<circle cx="54.5" cy="91.7" r="0.33" fill="#2a55a5"/>
<circle cx="46.3" cy="79.3" r="0.54" fill="#2a55a5"/>
<circle cx="57.4" cy="90.3" r="0.27" fill="#2a55a5"/>
<circle cx="44.3" cy="82.5" r="0.32" fill="#2a55a5"/>
<circle cx="59.6" cy="87.8" r="0.40" fill="#2a55a5"/>
<circle cx="63.6" cy="81.7" r="0.35" fill="#2a55a5"/>
<circle cx="69.2" cy="88.0" r="0.48" fill="#2a55a5"/>
<circle cx="53.9" cy="82.1" r="0.32" fill="#2a55a5"/>
<circle cx="59.0" cy="92.4" r="0.44" fill="#2a55a5"/>
<circle cx="67.2" cy="91.2" r="0.39" fill="#2a55a5"/>
<circle cx="45.4" cy="85.9" r="0.31" fill="#2a55a5"/>
<circle cx="46.3" cy="79.7" r="0.52" fill="#2a55a5"/>
<circle cx="67.5" cy="80.3" r="0.46" fill="#9ccde2"/>
<circle cx="65.1" cy="92.6" r="0.52" fill="#2a55a5"/>
<circle cx="36.9" cy="79.2" r="0.34" fill="#9ccde2"/>
<circle cx="63.0" cy="83.0" r="0.29" fill="#2a55a5"/>
<circle cx="59.5" cy="81.4" r="0.34" fill="#2a55a5"/>
<circle cx="61.2" cy="84.3" r="0.26" fill="#9ccde2"/>
<circle cx="51.4" cy="90.5" r="0.54" fill="#2a55a5"/>
<circle cx="71.2" cy="91.4" r="0.32" fill="#2a55a5"/>
<circle cx="61.0" cy="84.6" r="0.52" fill="#2a55a5"/>
<circle cx="52.9" cy="89.3" r="0.41" fill="#2a55a5"/>
<circle cx="46.4" cy="89.5" r="0.34" fill="#9ccde2"/>
<circle cx="68.8" cy="82.6" r="0.50" fill="#2a55a5"/>
<circle cx="55.0" cy="89.4" r="0.30" fill="#9ccde2"/>
<circle cx="71.5" cy="79.8" r="0.42" fill="#2a55a5"/>
<circle cx="52.3" cy="86.8" r="0.52" fill="#2a55a5"/>
<circle cx="50.0" cy="92.9" r="0.28" fill="#9ccde2"/>
<circle cx="48.3" cy="88.7" r="0.45" fill="#2a55a5"/>
<circle cx="55.0" cy="88.6" r="0.42" fill="#2a55a5"/>
<circle cx="60.7" cy="82.7" r="0.30" fill="#2a55a5"/>
<circle cx="60.9" cy="88.9" r="0.41" fill="#2a55a5"/>
<circle cx="51.2" cy="89.6" r="0.40" fill="#2a55a5"/>
<circle cx="40.8" cy="89.3" r="0.39" fill="#2a55a5"/>
<circle cx="46.2" cy="86.6" r="0.40" fill="#9ccde2"/>
<circle cx="49.0" cy="89.3" r="0.36" fill="#2a55a5"/>
<circle cx="45.1" cy="84.4" r="0.40" fill="#2a55a5"/>
<circle cx="40.9" cy="87.4" r="0.31" fill="#9ccde2"/>
<circle cx="68.6" cy="92.6" r="0.30" fill="#2a55a5"/>
<circle cx="54.8" cy="88.0" r="0.41" fill="#9ccde2"/>
<circle cx="65.4" cy="77.6" r="0.54" fill="#2a55a5"/>
<circle cx="51.9" cy="87.6" r="0.48" fill="#2a55a5"/>
<circle cx="54.4" cy="77.1" r="0.55" fill="#2a55a5"/>
<circle cx="63.0" cy="81.5" r="0.27" fill="#9ccde2"/>
<circle cx="58.2" cy="87.1" r="0.50" fill="#2a55a5"/>
<circle cx="53.9" cy="85.0" r="0.31" fill="#2a55a5"/>
<circle cx="65.5" cy="87.4" r="0.53" fill="#2a55a5"/>
<circle cx="50.8" cy="78.1" r="0.44" fill="#2a55a5"/>
<circle cx="54.5" cy="85.2" r="0.31" fill="#2a55a5"/>
<circle cx="61.2" cy="85.3" r="0.43" fill="#2a55a5"/>
<circle cx="60.6" cy="81.5" r="0.41" fill="#2a55a5"/>
<circle cx="64.5" cy="92.1" r="0.49" fill="#9ccde2"/>
<circle cx="53.7" cy="89.6" r="0.30" fill="#9ccde2"/>
<circle cx="46.7" cy="87.9" r="0.41" fill="#2a55a5"/>
<circle cx="51.6" cy="90.1" r="0.48" fill="#2a55a5"/>
<circle cx="54.0" cy="87.9" r="0.53" fill="#2a55a5"/>
<circle cx="47.4" cy="83.2" r="0.54" fill="#2a55a5"/>
<circle cx="55.9" cy="88.2" r="0.36" fill="#2a55a5"/>
<circle cx="49.1" cy="81.5" r="0.45" fill="#2a55a5"/>
<circle cx="47.2" cy="82.1" r="0.41" fill="#2a55a5"/>
<circle cx="57.9" cy="83.2" r="0.49" fill="#2a55a5"/>
<circle cx="57.0" cy="84.4" r="0.40" fill="#2a55a5"/>
<circle cx="53.6" cy="82.7" r="0.33" fill="#2a55a5"/>
<circle cx="44.1" cy="83.5" r="0.25" fill="#2a55a5"/>
<circle cx="43.8" cy="87.8" r="0.34" fill="#2a55a5"/>
<circle cx="60.2" cy="79.1" r="0.25" fill="#2a55a5"/>
<circle cx="52.3" cy="86.1" r="0.49" fill="#2a55a5"/>
<circle cx="51.6" cy="92.7" r="0.43" fill="#2a55a5"/>
<circle cx="61.9" cy="81.3" r="0.35" fill="#2a55a5"/>
<circle cx="46.9" cy="84.4" r="0.41" fill="#2a55a5"/>
<circle cx="57.5" cy="86.1" r="0.30" fill="#2a55a5"/>
<circle cx="62.1" cy="80.7" r="0.32" fill="#2a55a5"/>
<circle cx="52.9" cy="84.7" r="0.48" fill="#2a55a5"/>
<circle cx="60.0" cy="86.0" r="0.34" fill="#2a55a5"/>
<circle cx="65.8" cy="79.0" r="0.42" fill="#2a55a5"/>
<circle cx="42.4" cy="89.4" r="0.27" fill="#9ccde2"/>
<circle cx="66.3" cy="76.3" r="0.46" fill="#2a55a5"/>
<circle cx="62.0" cy="85.4" r="0.34" fill="#2a55a5"/>
<circle cx="61.8" cy="94.1" r="0.28" fill="#2a55a5"/>
<circle cx="40.3" cy="92.2" r="0.48" fill="#2a55a5"/>
<circle cx="56.5" cy="84.8" r="0.33" fill="#2a55a5"/>
<circle cx="42.9" cy="89.2" r="0.51" fill="#2a55a5"/>
<circle cx="67.5" cy="82.7" r="0.36" fill="#2a55a5"/>
<circle cx="54.8" cy="76.8" r="0.36" fill="#2a55a5"/>
<circle cx="35.57" cy="8.13" r="1.42" fill="#2450a3"/>
<circle cx="48.78" cy="5.08" r="1.42" fill="#2450a3"/>
<circle cx="58.94" cy="7.72" r="2.44" fill="#2450a3"/>
<circle cx="81.91" cy="17.28" r="1.22" fill="#2450a3"/>
<circle cx="67.07" cy="9.76" r="1.42" fill="#2450a3"/>
<circle cx="24.39" cy="12.20" r="1.22" fill="#2450a3"/>
<circle cx="43.29" cy="9.15" r="1.83" fill="#ec3b2d"/>
<circle cx="5.08" cy="53.86" r="1.42" fill="#2450a3"/>
<circle cx="86.38" cy="51.83" r="1.83" fill="#2450a3"/>
<circle cx="90.45" cy="43.70" r="1.02" fill="#2450a3"/>
<circle cx="92.48" cy="38.62" r="1.02" fill="#2450a3"/>
<circle cx="88.41" cy="65.04" r="1.02" fill="#2450a3"/>
<circle cx="24.39" cy="82.32" r="1.02" fill="#2450a3"/>
<circle cx="48.78" cy="95.53" r="1.63" fill="#2450a3"/>
<circle cx="60.98" cy="95.53" r="1.02" fill="#2450a3"/>
<circle cx="40.65" cy="92.48" r="1.83" fill="#2450a3"/>
<circle cx="8.13" cy="69.11" r="2.44" fill="#ec3b2d"/>
<circle cx="3.66" cy="53.66" r="1.02" fill="#f0a070"/>
<circle cx="37.60" cy="80.89" r="1.42" fill="#ec3b2d"/>
<circle cx="7.11" cy="57.72" r="1.02" fill="#2450a3"/>
<circle cx="22.97" cy="82.72" r="1.02" fill="#2450a3"/>
<circle cx="27.44" cy="82.11" r="1.22" fill="#2450a3"/>
<circle cx="30.69" cy="87.40" r="1.02" fill="#2450a3"/>
<circle cx="34.15" cy="84.76" r="1.22" fill="#2450a3"/>
<circle cx="37.60" cy="81.30" r="2.03" fill="#ec3b2d"/>
<circle cx="38.62" cy="90.45" r="1.63" fill="#ec3b2d"/>
<circle cx="53.86" cy="80.28" r="2.03" fill="#ec3b2d"/>
<circle cx="68.09" cy="86.38" r="1.63" fill="#ec3b2d"/>
<circle cx="92.48" cy="45.73" r="1.42" fill="#f04e32"/>
<circle cx="6.10" cy="40.65" r="1.02" fill="#ec3b2d"/>
<circle cx="3.05" cy="48.78" r="1.02" fill="#ec3b2d"/>
<circle cx="16.26" cy="36.59" r="1.02" fill="#ec3b2d"/>
<circle cx="35.57" cy="77.24" r="1.02" fill="#ec3b2d"/>
<circle cx="8.13" cy="31.50" r="2.03" fill="#a9d5e6"/>
<circle cx="12.20" cy="28.46" r="1.02" fill="#c9e3ec"/>
<circle cx="5.08" cy="42.68" r="1.22" fill="#c9e3ec"/>
<circle cx="32.52" cy="15.24" r="1.22" fill="#a9d5e6"/>
<circle cx="19.31" cy="17.28" r="1.22" fill="#a9d5e6"/>
<circle cx="74.39" cy="15.24" r="2.24" fill="#fbc67c"/>
<circle cx="87.40" cy="23.37" r="1.22" fill="#2450a3"/>
<circle cx="59.96" cy="8.13" r="1.02" fill="#2450a3"/>
<circle cx="12.20" cy="60.98" r="1.02" fill="#ec3b2d"/>
<circle cx="72.15" cy="47.76" r="1.22" fill="#a9d5e6"/>
<circle cx="89.43" cy="58.94" r="1.02" fill="#ec3b2d"/>
<circle cx="93.50" cy="52.85" r="1.02" fill="#2450a3"/>
<circle cx="20.33" cy="87.40" r="1.02" fill="#ec3b2d"/>
<circle cx="30.49" cy="85.37" r="1.02" fill="#2450a3"/>
<circle cx="81.30" cy="83.33" r="1.22" fill="#2450a3"/>
<circle cx="71.14" cy="77.24" r="1.02" fill="#2450a3"/>
<circle cx="85.37" cy="79.27" r="1.02" fill="#ec3b2d"/>
<circle cx="73.17" cy="28.46" r="1.02" fill="#b9dcea"/>
<circle cx="9.15" cy="60.98" r="0.81" fill="#2450a3"/>
<circle cx="54.88" cy="89.43" r="1.02" fill="#2450a3"/>
<g filter="url(#rough)">
<polygon points="9.8,61.0 14.6,54.5 22.4,48.8 28.5,50.2 34.6,54.5 37.4,60.0 37.2,67.1 30.9,72.4 22.0,75.6 15.2,70.3" fill="#ec3b2d" stroke="#fff" stroke-width="0.4" stroke-linejoin="miter"/>
<polygon points="22.4,32.5 26.4,29.5 32.5,27.4 37.6,30.5 39.6,35.6 37.6,38.6 30.5,39.6 24.4,38.2" fill="#ec3b2d" stroke="#fff" stroke-width="0.4" stroke-linejoin="miter"/>
<polygon points="12.2,45.7 16.3,42.7 21.3,41.7 23.4,45.7 20.3,50.8 14.2,50.8 11.8,48.4" fill="#f04e32" stroke="#fff" stroke-width="0.4" stroke-linejoin="miter"/>
<polygon points="17.3,24.4 21.3,23.4 24.0,26.0 22.4,28.9 18.3,28.5" fill="#f04e32" stroke="#fff" stroke-width="0.4" stroke-linejoin="miter"/>
<polygon points="39.6,25.4 47.8,23.4 53.9,25.4 54.9,30.5 51.8,36.6 46.7,39.6 41.7,37.6 39.6,30.5" fill="#fbc67c" stroke="#fff" stroke-width="0.4" stroke-linejoin="miter"/>
<polygon points="30.5,47.8 35.6,40.7 40.7,38.6 44.7,41.7 46.7,47.8 53.9,48.8 58.9,53.9 61.0,61.0 60.0,69.1 54.9,76.2 46.7,78.3 39.6,76.2 36.6,70.1 37.6,61.0 33.5,54.9" fill="#fbc67c" stroke="#fff" stroke-width="0.4" stroke-linejoin="miter"/>
<polygon points="37.6,61.0 61.0,61.0 60.0,69.1 54.9,76.2 46.7,78.3 39.6,76.2 36.6,70.1" fill="#f7c27f" stroke="#fff" stroke-width="0.4" stroke-linejoin="miter"/>
<polygon points="45.7,47.8 52.8,48.8 57.9,53.9 56.9,57.9 51.8,56.9 47.8,53.9" fill="#f8a95c" stroke="#fff" stroke-width="0.4" stroke-linejoin="miter"/>
<polygon points="49.8,54.5 57.3,55.3 56.9,57.9 50.8,57.3" fill="#f04e32" stroke="#fff" stroke-width="0.4" stroke-linejoin="miter"/>
<polygon points="43.7,43.9 48.8,40.7 53.9,36.6 56.9,30.5 57.9,28.0 68.9,28.0 70.5,29.1 68.9,36.0 62.0,40.0 55.1,43.1 50.0,45.9" fill="#a6d9eb" stroke="#fff" stroke-width="0.4" stroke-linejoin="miter"/>
<polygon points="55.1,43.1 62.0,40.0 68.9,36.0 69.9,38.4 76.0,43.1 80.9,48.4 77.2,54.1 73.0,57.5 66.1,56.1 60.0,52.0 55.5,47.0" fill="#98d3ea" stroke="#fff" stroke-width="0.4" stroke-linejoin="miter"/>
<polygon points="54.9,24.4 57.3,18.3 62.0,14.6 70.1,14.6 71.5,20.3 70.9,24.8 68.9,28.0 57.9,28.0" fill="#d3ecf1" stroke="#fff" stroke-width="0.4" stroke-linejoin="miter"/>
<polygon points="70.9,24.8 76.0,22.8 81.9,26.4 86.4,33.5 85.4,41.7 81.3,46.7 76.0,43.1 69.9,38.4 68.9,36.0 70.5,29.1" fill="#bfe4ee" stroke="#fff" stroke-width="0.4" stroke-linejoin="miter"/>
<polygon points="71.5,20.3 74.0,17.1 79.1,17.9 82.5,22.4 76.0,22.8 70.9,24.8" fill="#d5ebf0" stroke="#fff" stroke-width="0.4" stroke-linejoin="miter"/>
<polygon points="76.2,61.0 79.3,54.9 82.3,52.8 83.7,55.9 82.3,62.0 79.3,65.0 76.8,64.6" fill="#f8a95c" stroke="#fff" stroke-width="0.4" stroke-linejoin="miter"/>
<polygon points="77.2,69.1 82.3,66.1 85.0,69.1 83.7,75.2 80.3,77.2 77.2,74.2" fill="#b0d9e8" stroke="#fff" stroke-width="0.4" stroke-linejoin="miter"/>
<polygon points="65.0,58.9 70.1,56.9 73.2,61.0 71.1,67.1 66.1,66.1" fill="#b5dcea" stroke="#fff" stroke-width="0.4" stroke-linejoin="miter"/>
<polygon points="45.7,18.3 49.8,16.3 53.9,18.3 53.9,21.3 49.8,22.8 46.3,21.3" fill="#2450a3" stroke="#fff" stroke-width="0.4" stroke-linejoin="miter"/>
<polygon points="22.8,18.7 28.5,14.6 35.6,14.2 39.0,17.9 37.6,21.3 30.5,22.4 24.0,21.5" fill="#b3dcec" stroke="#fff" stroke-width="0.4" stroke-linejoin="miter"/>
<polygon points="27.6,42.7 30.5,40.2 32.9,43.1 30.9,45.5" fill="#a9d5e6" stroke="#fff" stroke-width="0.4" stroke-linejoin="miter"/>
</g>
<rect x="0" y="0" width="101" height="100" fill="url(#speck)"/></g>
<g id="map1"><circle cx="54.5" cy="90.0" r="0.57" fill="#9fb9d8"/>
<circle cx="95.4" cy="54.1" r="0.41" fill="#9fb9d8"/>
<circle cx="89.9" cy="49.4" r="0.51" fill="#c4e1eb"/>
<circle cx="30.2" cy="25.0" r="0.69" fill="#9fb9d8"/>
<circle cx="9.3" cy="44.3" r="0.33" fill="#c4e1eb"/>
<circle cx="53.6" cy="10.2" r="0.31" fill="#c4e1eb"/>
<circle cx="42.8" cy="6.6" r="0.71" fill="#9fb9d8"/>
<circle cx="17.1" cy="77.2" r="0.72" fill="#b9dcea"/>
<circle cx="74.0" cy="76.4" r="0.50" fill="#c4e1eb"/>
<circle cx="26.5" cy="25.0" r="0.47" fill="#9fb9d8"/>
<circle cx="27.7" cy="82.9" r="0.71" fill="#b9dcea"/>
<circle cx="32.7" cy="9.1" r="0.75" fill="#a9d3e4"/>
<circle cx="81.0" cy="15.2" r="0.56" fill="#a9d3e4"/>
<circle cx="43.8" cy="17.2" r="0.56" fill="#a9d3e4"/>
<circle cx="44.6" cy="81.4" r="0.75" fill="#c4e1eb"/>
<circle cx="88.5" cy="73.5" r="0.37" fill="#9fb9d8"/>
<circle cx="39.8" cy="91.9" r="0.32" fill="#c4e1eb"/>
<circle cx="44.4" cy="15.0" r="0.74" fill="#a9d3e4"/>
<circle cx="5.0" cy="48.9" r="0.33" fill="#9fb9d8"/>
<circle cx="63.7" cy="85.9" r="0.37" fill="#9fb9d8"/>
<circle cx="94.5" cy="62.2" r="0.73" fill="#9fb9d8"/>
<circle cx="13.5" cy="35.7" r="0.53" fill="#c4e1eb"/>
<circle cx="13.1" cy="68.2" r="0.44" fill="#9fb9d8"/>
<circle cx="90.4" cy="45.0" r="0.31" fill="#b9dcea"/>
<circle cx="91.9" cy="55.6" r="0.33" fill="#f26a3c"/>
<circle cx="24.8" cy="23.0" r="0.46" fill="#9fb9d8"/>
<circle cx="40.1" cy="9.5" r="0.33" fill="#c4e1eb"/>
<circle cx="30.9" cy="9.4" r="0.51" fill="#c4e1eb"/>
<circle cx="21.4" cy="30.7" r="0.44" fill="#b9dcea"/>
<circle cx="24.0" cy="80.1" r="0.47" fill="#9fb9d8"/>
<circle cx="55.8" cy="19.7" r="0.63" fill="#9fb9d8"/>
<circle cx="38.8" cy="82.5" r="0.41" fill="#b9dcea"/>
<circle cx="66.0" cy="85.5" r="0.35" fill="#9fb9d8"/>
<circle cx="35.7" cy="83.1" r="0.50" fill="#b9dcea"/>
<circle cx="30.1" cy="85.8" r="0.50" fill="#c4e1eb"/>
<circle cx="56.6" cy="82.8" r="0.39" fill="#9fb9d8"/>
<circle cx="66.9" cy="9.2" r="0.43" fill="#c4e1eb"/>
<circle cx="66.0" cy="12.0" r="0.46" fill="#a9d3e4"/>
<circle cx="75.9" cy="76.4" r="0.42" fill="#b9dcea"/>
<circle cx="30.1" cy="81.4" r="0.48" fill="#b9dcea"/>
<circle cx="97.1" cy="51.8" r="0.74" fill="#c4e1eb"/>
<circle cx="9.6" cy="68.8" r="0.40" fill="#c4e1eb"/>
<circle cx="50.3" cy="6.4" r="0.53" fill="#9fb9d8"/>
<circle cx="42.7" cy="85.8" r="0.33" fill="#9fb9d8"/>
<circle cx="21.4" cy="31.7" r="0.32" fill="#c4e1eb"/>
<circle cx="86.0" cy="26.6" r="0.70" fill="#a9d3e4"/>
<circle cx="83.9" cy="26.9" r="0.64" fill="#c4e1eb"/>
<circle cx="68.3" cy="82.0" r="0.54" fill="#9fb9d8"/>
<circle cx="12.4" cy="74.0" r="0.45" fill="#c4e1eb"/>
<circle cx="50.8" cy="94.9" r="0.65" fill="#9fb9d8"/>
<circle cx="31.2" cy="77.8" r="0.67" fill="#b9dcea"/>
<circle cx="72.1" cy="88.7" r="0.66" fill="#c4e1eb"/>
<circle cx="20.8" cy="18.4" r="0.42" fill="#c4e1eb"/>
<circle cx="46.9" cy="89.6" r="0.51" fill="#9fb9d8"/>
<circle cx="74.0" cy="72.9" r="0.68" fill="#c4e1eb"/>
<circle cx="37.0" cy="83.4" r="0.59" fill="#9fb9d8"/>
<circle cx="20.1" cy="31.5" r="0.45" fill="#9fb9d8"/>
<circle cx="79.8" cy="78.4" r="0.47" fill="#9fb9d8"/>
<circle cx="23.1" cy="79.5" r="0.47" fill="#c4e1eb"/>
<circle cx="64.4" cy="11.8" r="0.47" fill="#c4e1eb"/>
<circle cx="9.5" cy="51.5" r="0.61" fill="#b9dcea"/>
<circle cx="10.6" cy="41.1" r="0.49" fill="#9fb9d8"/>
<circle cx="11.5" cy="70.6" r="0.47" fill="#c4e1eb"/>
<circle cx="86.3" cy="24.5" r="0.51" fill="#c4e1eb"/>
<circle cx="82.8" cy="81.1" r="0.70" fill="#f26a3c"/>
<circle cx="62.4" cy="10.5" r="0.55" fill="#9fb9d8"/>
<circle cx="84.6" cy="51.5" r="0.32" fill="#c4e1eb"/>
<circle cx="95.2" cy="57.0" r="0.68" fill="#9fb9d8"/>
<circle cx="31.1" cy="11.4" r="0.56" fill="#a9d3e4"/>
<circle cx="55.8" cy="11.7" r="0.35" fill="#9fb9d8"/>
<circle cx="51.2" cy="5.0" r="0.45" fill="#c4e1eb"/>
<circle cx="11.1" cy="33.3" r="0.38" fill="#9fb9d8"/>
<circle cx="51.5" cy="91.2" r="0.48" fill="#b9dcea"/>
<circle cx="26.4" cy="78.1" r="0.49" fill="#b9dcea"/>
<circle cx="88.5" cy="44.2" r="0.37" fill="#c4e1eb"/>
<circle cx="35.9" cy="10.6" r="0.53" fill="#9fb9d8"/>
<circle cx="10.6" cy="54.7" r="0.37" fill="#c4e1eb"/>
<circle cx="86.7" cy="74.7" r="0.53" fill="#c4e1eb"/>
<circle cx="65.2" cy="82.8" r="0.56" fill="#9fb9d8"/>
<circle cx="37.8" cy="82.2" r="0.73" fill="#9fb9d8"/>
<circle cx="39.5" cy="90.9" r="0.68" fill="#9fb9d8"/>
<circle cx="21.2" cy="32.7" r="0.31" fill="#9fb9d8"/>
<circle cx="68.7" cy="82.9" r="0.65" fill="#9fb9d8"/>
<circle cx="80.2" cy="86.9" r="0.57" fill="#f26a3c"/>
<circle cx="8.3" cy="59.3" r="0.55" fill="#c4e1eb"/>
<circle cx="9.5" cy="55.5" r="0.48" fill="#c4e1eb"/>
<circle cx="46.8" cy="4.8" r="0.40" fill="#9fb9d8"/>
<circle cx="55.5" cy="92.6" r="0.73" fill="#9fb9d8"/>
<circle cx="64.5" cy="83.0" r="0.62" fill="#9fb9d8"/>
<circle cx="79.9" cy="15.6" r="0.69" fill="#c4e1eb"/>
<circle cx="36.9" cy="85.2" r="0.34" fill="#9fb9d8"/>
<circle cx="88.3" cy="74.7" r="0.46" fill="#9fb9d8"/>
<circle cx="15.1" cy="30.4" r="0.45" fill="#9fb9d8"/>
<circle cx="61.5" cy="89.5" r="0.48" fill="#c4e1eb"/>
<circle cx="45.1" cy="91.5" r="0.70" fill="#9fb9d8"/>
<circle cx="57.5" cy="8.0" r="0.60" fill="#c4e1eb"/>
<circle cx="26.8" cy="14.6" r="0.64" fill="#c4e1eb"/>
<circle cx="91.9" cy="40.5" r="0.35" fill="#b9dcea"/>
<circle cx="15.0" cy="51.9" r="0.61" fill="#c4e1eb"/>
<circle cx="20.7" cy="36.8" r="0.58" fill="#c4e1eb"/>
<circle cx="70.8" cy="91.0" r="0.36" fill="#9fb9d8"/>
<circle cx="30.8" cy="87.4" r="0.55" fill="#b9dcea"/>
<circle cx="38.6" cy="81.6" r="0.62" fill="#9fb9d8"/>
<circle cx="52.6" cy="10.9" r="0.46" fill="#9fb9d8"/>
<circle cx="47.8" cy="87.4" r="0.32" fill="#c4e1eb"/>
<circle cx="55.8" cy="14.2" r="0.48" fill="#c4e1eb"/>
<circle cx="9.9" cy="39.4" r="0.68" fill="#b9dcea"/>
<circle cx="59.2" cy="8.8" r="0.39" fill="#c4e1eb"/>
<circle cx="14.5" cy="71.8" r="0.64" fill="#c4e1eb"/>
<circle cx="12.1" cy="43.6" r="0.41" fill="#9fb9d8"/>
<circle cx="66.2" cy="8.1" r="0.47" fill="#a9d3e4"/>
<circle cx="13.5" cy="37.5" r="0.74" fill="#c4e1eb"/>
<circle cx="94.6" cy="51.1" r="0.52" fill="#c4e1eb"/>
<circle cx="65.2" cy="87.4" r="0.53" fill="#9fb9d8"/>
<circle cx="9.5" cy="32.0" r="0.36" fill="#c4e1eb"/>
<circle cx="62.2" cy="11.1" r="0.46" fill="#c4e1eb"/>
<circle cx="54.8" cy="82.3" r="0.72" fill="#9fb9d8"/>
<circle cx="31.7" cy="90.5" r="0.36" fill="#c4e1eb"/>
<circle cx="89.4" cy="31.8" r="0.45" fill="#c4e1eb"/>
<circle cx="67.4" cy="7.9" r="0.50" fill="#a9d3e4"/>
<circle cx="53.2" cy="11.9" r="0.32" fill="#c4e1eb"/>
<circle cx="72.2" cy="83.4" r="0.54" fill="#9fb9d8"/>
<circle cx="38.6" cy="86.6" r="0.48" fill="#b9dcea"/>
<circle cx="70.5" cy="91.3" r="0.47" fill="#9fb9d8"/>
<circle cx="24.4" cy="79.0" r="0.40" fill="#b9dcea"/>
<circle cx="85.7" cy="51.1" r="0.36" fill="#c4e1eb"/>
<circle cx="60.0" cy="82.9" r="0.38" fill="#9fb9d8"/>
<circle cx="70.5" cy="84.2" r="0.31" fill="#9fb9d8"/>
<circle cx="42.4" cy="20.3" r="0.48" fill="#c4e1eb"/>
<circle cx="96.8" cy="58.2" r="0.34" fill="#9fb9d8"/>
<circle cx="25.3" cy="25.2" r="0.32" fill="#c4e1eb"/>
<circle cx="46.6" cy="15.6" r="0.51" fill="#a9d3e4"/>
<circle cx="51.5" cy="85.6" r="0.58" fill="#b9dcea"/>
<circle cx="33.4" cy="77.2" r="0.74" fill="#c4e1eb"/>
<circle cx="66.5" cy="77.9" r="0.59" fill="#9fb9d8"/>
<circle cx="89.5" cy="44.2" r="0.71" fill="#c4e1eb"/>
<circle cx="37.8" cy="88.7" r="0.34" fill="#c4e1eb"/>
<circle cx="39.6" cy="93.1" r="0.48" fill="#9fb9d8"/>
<circle cx="30.5" cy="86.5" r="0.38" fill="#c4e1eb"/>
<circle cx="48.8" cy="8.1" r="0.55" fill="#a9d3e4"/>
<circle cx="58.6" cy="12.6" r="0.38" fill="#c4e1eb"/>
<circle cx="44.1" cy="10.6" r="0.47" fill="#9fb9d8"/>
<circle cx="43.9" cy="20.4" r="0.64" fill="#9fb9d8"/>
<circle cx="55.1" cy="94.5" r="0.70" fill="#9fb9d8"/>
<circle cx="85.4" cy="24.8" r="0.47" fill="#c4e1eb"/>
<circle cx="85.0" cy="66.8" r="0.35" fill="#c4e1eb"/>
<circle cx="22.0" cy="36.9" r="0.59" fill="#9fb9d8"/>
<circle cx="53.3" cy="81.9" r="0.59" fill="#9fb9d8"/>
<circle cx="57.3" cy="96.2" r="0.55" fill="#9fb9d8"/>
<circle cx="13.7" cy="71.4" r="0.65" fill="#c4e1eb"/>
<circle cx="65.5" cy="79.2" r="0.35" fill="#b9dcea"/>
<circle cx="97.0" cy="57.4" r="0.70" fill="#9fb9d8"/>
<circle cx="59.0" cy="93.8" r="0.59" fill="#9fb9d8"/>
<circle cx="54.7" cy="6.0" r="0.57" fill="#c4e1eb"/>
<circle cx="72.1" cy="15.8" r="0.39" fill="#a9d3e4"/>
<circle cx="14.3" cy="41.2" r="0.33" fill="#c4e1eb"/>
<circle cx="29.5" cy="82.3" r="0.55" fill="#9fb9d8"/>
<circle cx="48.0" cy="13.0" r="0.57" fill="#9fb9d8"/>
<circle cx="59.6" cy="86.1" r="0.45" fill="#c4e1eb"/>
<circle cx="58.2" cy="83.3" r="0.63" fill="#c4e1eb"/>
<circle cx="84.2" cy="17.7" r="0.72" fill="#9fb9d8"/>
<circle cx="14.8" cy="42.1" r="0.71" fill="#c4e1eb"/>
<circle cx="88.2" cy="38.5" r="0.48" fill="#c4e1eb"/>
<circle cx="96.8" cy="49.7" r="0.72" fill="#9fb9d8"/>
<circle cx="64.4" cy="80.1" r="0.43" fill="#9fb9d8"/>
<circle cx="10.7" cy="45.5" r="0.64" fill="#9fb9d8"/>
<circle cx="45.4" cy="87.8" r="0.63" fill="#9fb9d8"/>
<circle cx="50.8" cy="15.0" r="0.43" fill="#c4e1eb"/>
<circle cx="76.0" cy="85.8" r="0.74" fill="#9fb9d8"/>
<circle cx="95.8" cy="44.8" r="0.37" fill="#b9dcea"/>
<circle cx="37.0" cy="86.0" r="0.54" fill="#9fb9d8"/>
<circle cx="23.3" cy="84.7" r="0.51" fill="#9fb9d8"/>
<circle cx="84.6" cy="22.0" r="0.41" fill="#c4e1eb"/>
<circle cx="78.2" cy="79.5" r="0.37" fill="#9fb9d8"/>
<circle cx="83.9" cy="61.1" r="0.51" fill="#c4e1eb"/>
<circle cx="94.4" cy="44.9" r="0.32" fill="#c4e1eb"/>
<circle cx="63.7" cy="78.8" r="0.45" fill="#9fb9d8"/>
<circle cx="89.1" cy="63.0" r="0.44" fill="#9fb9d8"/>
<circle cx="52.3" cy="94.1" r="0.42" fill="#9fb9d8"/>
<circle cx="87.8" cy="60.8" r="0.60" fill="#f26a3c"/>
<circle cx="88.7" cy="27.7" r="0.36" fill="#c4e1eb"/>
<circle cx="53.8" cy="7.2" r="0.67" fill="#9fb9d8"/>
<circle cx="18.0" cy="39.2" r="0.31" fill="#9fb9d8"/>
<circle cx="23.5" cy="15.3" r="0.51" fill="#a9d3e4"/>
<circle cx="28.5" cy="11.3" r="0.57" fill="#a9d3e4"/>
<circle cx="67.6" cy="80.1" r="0.75" fill="#9fb9d8"/>
<circle cx="15.7" cy="39.6" r="0.50" fill="#b9dcea"/>
<circle cx="35.9" cy="86.5" r="0.68" fill="#9fb9d8"/>
<circle cx="72.8" cy="10.3" r="0.31" fill="#9fb9d8"/>
<circle cx="16.1" cy="32.6" r="0.43" fill="#b9dcea"/>
<circle cx="40.1" cy="6.8" r="0.60" fill="#c4e1eb"/>
<circle cx="24.5" cy="78.8" r="0.73" fill="#c4e1eb"/>
<circle cx="30.5" cy="23.9" r="0.38" fill="#a9d3e4"/>
<circle cx="18.8" cy="79.9" r="0.42" fill="#9fb9d8"/>
<circle cx="94.9" cy="36.4" r="0.48" fill="#9fb9d8"/>
<circle cx="44.9" cy="82.7" r="0.74" fill="#9fb9d8"/>
<circle cx="61.4" cy="80.9" r="0.63" fill="#9fb9d8"/>
<circle cx="73.1" cy="15.7" r="0.30" fill="#a9d3e4"/>
<circle cx="42.3" cy="95.5" r="0.42" fill="#9fb9d8"/>
<circle cx="55.5" cy="96.2" r="0.71" fill="#9fb9d8"/>
<circle cx="49.1" cy="79.6" r="0.29" fill="#9fb9d8"/>
<circle cx="55.3" cy="82.9" r="0.31" fill="#c4e1eb"/>
<circle cx="57.0" cy="84.9" r="0.54" fill="#9fb9d8"/>
<circle cx="51.8" cy="87.6" r="0.37" fill="#c4e1eb"/>
<circle cx="54.1" cy="88.6" r="0.29" fill="#9fb9d8"/>
<circle cx="43.0" cy="94.9" r="0.27" fill="#9fb9d8"/>
<circle cx="83.4" cy="79.7" r="0.54" fill="#9fb9d8"/>
<circle cx="41.0" cy="86.7" r="0.34" fill="#9fb9d8"/>
<circle cx="46.6" cy="92.9" r="0.48" fill="#9fb9d8"/>
<circle cx="44.1" cy="87.4" r="0.38" fill="#9fb9d8"/>
<circle cx="58.0" cy="83.1" r="0.43" fill="#c4e1eb"/>
<circle cx="58.3" cy="83.4" r="0.54" fill="#c4e1eb"/>
<circle cx="58.5" cy="89.4" r="0.31" fill="#9fb9d8"/>
<circle cx="64.1" cy="85.3" r="0.51" fill="#9fb9d8"/>
<circle cx="73.1" cy="86.9" r="0.49" fill="#c4e1eb"/>
<circle cx="50.7" cy="80.4" r="0.48" fill="#9fb9d8"/>
<circle cx="45.6" cy="84.6" r="0.29" fill="#9fb9d8"/>
<circle cx="50.3" cy="91.3" r="0.36" fill="#9fb9d8"/>
<circle cx="47.3" cy="91.3" r="0.54" fill="#c4e1eb"/>
<circle cx="66.1" cy="78.8" r="0.34" fill="#c4e1eb"/>
<circle cx="54.4" cy="88.5" r="0.40" fill="#9fb9d8"/>
<circle cx="48.0" cy="92.1" r="0.33" fill="#c4e1eb"/>
<circle cx="45.2" cy="87.7" r="0.41" fill="#c4e1eb"/>
<circle cx="66.0" cy="85.5" r="0.38" fill="#9fb9d8"/>
<circle cx="63.6" cy="88.2" r="0.50" fill="#9fb9d8"/>
<circle cx="71.5" cy="89.6" r="0.37" fill="#c4e1eb"/>
<circle cx="50.8" cy="88.6" r="0.41" fill="#c4e1eb"/>
<circle cx="38.6" cy="90.2" r="0.46" fill="#9fb9d8"/>
<circle cx="51.7" cy="91.6" r="0.37" fill="#9fb9d8"/>
<circle cx="50.6" cy="84.6" r="0.32" fill="#9fb9d8"/>
<circle cx="51.3" cy="84.2" r="0.27" fill="#9fb9d8"/>
<circle cx="54.5" cy="87.2" r="0.41" fill="#c4e1eb"/>
<circle cx="40.6" cy="84.2" r="0.50" fill="#c4e1eb"/>
<circle cx="63.3" cy="83.2" r="0.45" fill="#9fb9d8"/>
<circle cx="61.4" cy="82.7" r="0.39" fill="#c4e1eb"/>
<circle cx="53.7" cy="89.2" r="0.50" fill="#9fb9d8"/>
<circle cx="56.8" cy="86.6" r="0.36" fill="#9fb9d8"/>
<circle cx="57.8" cy="83.2" r="0.33" fill="#9fb9d8"/>
<circle cx="45.4" cy="85.6" r="0.44" fill="#9fb9d8"/>
<circle cx="51.3" cy="86.9" r="0.54" fill="#9fb9d8"/>
<circle cx="63.4" cy="88.7" r="0.48" fill="#c4e1eb"/>
<circle cx="56.1" cy="86.3" r="0.39" fill="#9fb9d8"/>
<circle cx="68.3" cy="80.2" r="0.35" fill="#9fb9d8"/>
<circle cx="38.8" cy="80.8" r="0.31" fill="#9fb9d8"/>
<circle cx="65.9" cy="89.8" r="0.26" fill="#c4e1eb"/>
<circle cx="43.4" cy="85.0" r="0.28" fill="#9fb9d8"/>
<circle cx="37.6" cy="87.9" r="0.41" fill="#9fb9d8"/>
<circle cx="68.2" cy="85.2" r="0.41" fill="#9fb9d8"/>
<circle cx="62.4" cy="90.6" r="0.44" fill="#9fb9d8"/>
<circle cx="57.3" cy="75.1" r="0.51" fill="#9fb9d8"/>
<circle cx="55.9" cy="87.7" r="0.38" fill="#9fb9d8"/>
<circle cx="58.5" cy="95.1" r="0.53" fill="#9fb9d8"/>
<circle cx="62.8" cy="83.4" r="0.31" fill="#9fb9d8"/>
<circle cx="65.3" cy="87.4" r="0.37" fill="#c4e1eb"/>
<circle cx="56.5" cy="84.5" r="0.37" fill="#9fb9d8"/>
<circle cx="58.0" cy="89.4" r="0.33" fill="#9fb9d8"/>
<circle cx="52.7" cy="88.0" r="0.32" fill="#9fb9d8"/>
<circle cx="48.8" cy="84.5" r="0.46" fill="#9fb9d8"/>
<circle cx="49.1" cy="80.0" r="0.30" fill="#9fb9d8"/>
<circle cx="46.2" cy="89.8" r="0.43" fill="#9fb9d8"/>
<circle cx="52.1" cy="86.6" r="0.49" fill="#c4e1eb"/>
<circle cx="43.2" cy="86.4" r="0.33" fill="#c4e1eb"/>
<circle cx="52.5" cy="82.7" r="0.50" fill="#c4e1eb"/>
<circle cx="49.4" cy="86.3" r="0.47" fill="#9fb9d8"/>
<circle cx="53.7" cy="79.4" r="0.28" fill="#9fb9d8"/>
<circle cx="61.1" cy="81.4" r="0.41" fill="#c4e1eb"/>
<circle cx="45.1" cy="87.9" r="0.42" fill="#c4e1eb"/>
<circle cx="56.2" cy="88.1" r="0.48" fill="#9fb9d8"/>
<circle cx="63.4" cy="81.9" r="0.55" fill="#c4e1eb"/>
<circle cx="54.9" cy="81.9" r="0.25" fill="#9fb9d8"/>
<circle cx="54.2" cy="81.4" r="0.39" fill="#9fb9d8"/>
<circle cx="55.0" cy="93.7" r="0.42" fill="#9fb9d8"/>
<circle cx="63.8" cy="90.0" r="0.35" fill="#9fb9d8"/>
<circle cx="59.2" cy="90.4" r="0.31" fill="#9fb9d8"/>
<circle cx="51.2" cy="84.9" r="0.27" fill="#9fb9d8"/>
<circle cx="58.2" cy="91.7" r="0.30" fill="#9fb9d8"/>
<circle cx="35.2" cy="83.4" r="0.51" fill="#9fb9d8"/>
<circle cx="52.3" cy="87.1" r="0.33" fill="#9fb9d8"/>
<circle cx="59.2" cy="85.1" r="0.53" fill="#9fb9d8"/>
<circle cx="48.6" cy="87.6" r="0.54" fill="#9fb9d8"/>
<circle cx="45.3" cy="83.4" r="0.31" fill="#9fb9d8"/>
<circle cx="70.9" cy="85.2" r="0.47" fill="#c4e1eb"/>
<circle cx="66.4" cy="90.5" r="0.48" fill="#9fb9d8"/>
<circle cx="31.5" cy="89.6" r="0.35" fill="#9fb9d8"/>
<circle cx="61.8" cy="92.4" r="0.33" fill="#9fb9d8"/>
<circle cx="42.4" cy="93.3" r="0.47" fill="#9fb9d8"/>
<circle cx="51.3" cy="81.1" r="0.49" fill="#9fb9d8"/>
<circle cx="43.5" cy="84.2" r="0.37" fill="#9fb9d8"/>
<circle cx="61.2" cy="92.3" r="0.31" fill="#9fb9d8"/>
<circle cx="32.7" cy="85.6" r="0.50" fill="#9fb9d8"/>
<circle cx="53.1" cy="87.1" r="0.42" fill="#9fb9d8"/>
<circle cx="60.3" cy="84.4" r="0.30" fill="#c4e1eb"/>
<circle cx="54.3" cy="80.3" r="0.47" fill="#9fb9d8"/>
<circle cx="42.1" cy="84.0" r="0.43" fill="#9fb9d8"/>
<circle cx="63.2" cy="91.3" r="0.52" fill="#9fb9d8"/>
<circle cx="58.7" cy="86.1" r="0.49" fill="#9fb9d8"/>
<circle cx="49.6" cy="83.5" r="0.46" fill="#9fb9d8"/>
<circle cx="52.3" cy="93.6" r="0.30" fill="#9fb9d8"/>
<circle cx="47.0" cy="85.5" r="0.54" fill="#9fb9d8"/>
<circle cx="57.9" cy="81.3" r="0.49" fill="#9fb9d8"/>
<circle cx="51.0" cy="82.1" r="0.32" fill="#9fb9d8"/>
<circle cx="57.6" cy="81.6" r="0.32" fill="#9fb9d8"/>
<circle cx="61.5" cy="88.5" r="0.42" fill="#9fb9d8"/>
<circle cx="48.9" cy="83.6" r="0.26" fill="#9fb9d8"/>
<circle cx="51.8" cy="88.8" r="0.42" fill="#9fb9d8"/>
<circle cx="55.9" cy="79.2" r="0.45" fill="#9fb9d8"/>
<circle cx="45.6" cy="85.3" r="0.34" fill="#9fb9d8"/>
<circle cx="57.9" cy="80.3" r="0.28" fill="#c4e1eb"/>
<circle cx="44.1" cy="82.6" r="0.38" fill="#9fb9d8"/>
<circle cx="60.5" cy="86.0" r="0.36" fill="#c4e1eb"/>
<circle cx="62.6" cy="90.1" r="0.39" fill="#9fb9d8"/>
<circle cx="63.3" cy="83.6" r="0.25" fill="#9fb9d8"/>
<circle cx="69.1" cy="86.2" r="0.51" fill="#c4e1eb"/>
<circle cx="67.9" cy="88.2" r="0.34" fill="#9fb9d8"/>
<circle cx="52.6" cy="90.1" r="0.29" fill="#9fb9d8"/>
<circle cx="56.3" cy="87.9" r="0.47" fill="#9fb9d8"/>
<circle cx="56.3" cy="80.1" r="0.44" fill="#9fb9d8"/>
<circle cx="50.0" cy="80.7" r="0.54" fill="#9fb9d8"/>
<circle cx="67.3" cy="89.1" r="0.53" fill="#9fb9d8"/>
<circle cx="52.2" cy="79.8" r="0.37" fill="#9fb9d8"/>
<circle cx="53.3" cy="85.3" r="0.34" fill="#9fb9d8"/>
<circle cx="54.5" cy="91.7" r="0.33" fill="#9fb9d8"/>
<circle cx="46.3" cy="79.3" r="0.54" fill="#9fb9d8"/>
<circle cx="57.4" cy="90.3" r="0.27" fill="#9fb9d8"/>
<circle cx="44.3" cy="82.5" r="0.32" fill="#9fb9d8"/>
<circle cx="59.6" cy="87.8" r="0.40" fill="#9fb9d8"/>
<circle cx="63.6" cy="81.7" r="0.35" fill="#9fb9d8"/>
<circle cx="69.2" cy="88.0" r="0.48" fill="#9fb9d8"/>
<circle cx="53.9" cy="82.1" r="0.32" fill="#9fb9d8"/>
<circle cx="59.0" cy="92.4" r="0.44" fill="#9fb9d8"/>
<circle cx="67.2" cy="91.2" r="0.39" fill="#9fb9d8"/>
<circle cx="45.4" cy="85.9" r="0.31" fill="#9fb9d8"/>
<circle cx="46.3" cy="79.7" r="0.52" fill="#9fb9d8"/>
<circle cx="67.5" cy="80.3" r="0.46" fill="#c4e1eb"/>
<circle cx="65.1" cy="92.6" r="0.52" fill="#9fb9d8"/>
<circle cx="36.9" cy="79.2" r="0.34" fill="#c4e1eb"/>
<circle cx="63.0" cy="83.0" r="0.29" fill="#9fb9d8"/>
<circle cx="59.5" cy="81.4" r="0.34" fill="#9fb9d8"/>
<circle cx="61.2" cy="84.3" r="0.26" fill="#c4e1eb"/>
<circle cx="51.4" cy="90.5" r="0.54" fill="#9fb9d8"/>
<circle cx="71.2" cy="91.4" r="0.32" fill="#9fb9d8"/>
<circle cx="61.0" cy="84.6" r="0.52" fill="#9fb9d8"/>
<circle cx="52.9" cy="89.3" r="0.41" fill="#9fb9d8"/>
<circle cx="46.4" cy="89.5" r="0.34" fill="#c4e1eb"/>
<circle cx="68.8" cy="82.6" r="0.50" fill="#9fb9d8"/>
<circle cx="55.0" cy="89.4" r="0.30" fill="#c4e1eb"/>
<circle cx="71.5" cy="79.8" r="0.42" fill="#9fb9d8"/>
<circle cx="52.3" cy="86.8" r="0.52" fill="#9fb9d8"/>
<circle cx="50.0" cy="92.9" r="0.28" fill="#c4e1eb"/>
<circle cx="48.3" cy="88.7" r="0.45" fill="#9fb9d8"/>
<circle cx="55.0" cy="88.6" r="0.42" fill="#9fb9d8"/>
<circle cx="60.7" cy="82.7" r="0.30" fill="#9fb9d8"/>
<circle cx="60.9" cy="88.9" r="0.41" fill="#9fb9d8"/>
<circle cx="51.2" cy="89.6" r="0.40" fill="#9fb9d8"/>
<circle cx="40.8" cy="89.3" r="0.39" fill="#9fb9d8"/>
<circle cx="46.2" cy="86.6" r="0.40" fill="#c4e1eb"/>
<circle cx="49.0" cy="89.3" r="0.36" fill="#9fb9d8"/>
<circle cx="45.1" cy="84.4" r="0.40" fill="#9fb9d8"/>
<circle cx="40.9" cy="87.4" r="0.31" fill="#c4e1eb"/>
<circle cx="68.6" cy="92.6" r="0.30" fill="#9fb9d8"/>
<circle cx="54.8" cy="88.0" r="0.41" fill="#c4e1eb"/>
<circle cx="65.4" cy="77.6" r="0.54" fill="#9fb9d8"/>
<circle cx="51.9" cy="87.6" r="0.48" fill="#9fb9d8"/>
<circle cx="54.4" cy="77.1" r="0.55" fill="#9fb9d8"/>
<circle cx="63.0" cy="81.5" r="0.27" fill="#c4e1eb"/>
<circle cx="58.2" cy="87.1" r="0.50" fill="#9fb9d8"/>
<circle cx="53.9" cy="85.0" r="0.31" fill="#9fb9d8"/>
<circle cx="65.5" cy="87.4" r="0.53" fill="#9fb9d8"/>
<circle cx="50.8" cy="78.1" r="0.44" fill="#9fb9d8"/>
<circle cx="54.5" cy="85.2" r="0.31" fill="#9fb9d8"/>
<circle cx="61.2" cy="85.3" r="0.43" fill="#9fb9d8"/>
<circle cx="60.6" cy="81.5" r="0.41" fill="#9fb9d8"/>
<circle cx="64.5" cy="92.1" r="0.49" fill="#c4e1eb"/>
<circle cx="53.7" cy="89.6" r="0.30" fill="#c4e1eb"/>
<circle cx="46.7" cy="87.9" r="0.41" fill="#9fb9d8"/>
<circle cx="51.6" cy="90.1" r="0.48" fill="#9fb9d8"/>
<circle cx="54.0" cy="87.9" r="0.53" fill="#9fb9d8"/>
<circle cx="47.4" cy="83.2" r="0.54" fill="#9fb9d8"/>
<circle cx="55.9" cy="88.2" r="0.36" fill="#9fb9d8"/>
<circle cx="49.1" cy="81.5" r="0.45" fill="#9fb9d8"/>
<circle cx="47.2" cy="82.1" r="0.41" fill="#9fb9d8"/>
<circle cx="57.9" cy="83.2" r="0.49" fill="#9fb9d8"/>
<circle cx="57.0" cy="84.4" r="0.40" fill="#9fb9d8"/>
<circle cx="53.6" cy="82.7" r="0.33" fill="#9fb9d8"/>
<circle cx="44.1" cy="83.5" r="0.25" fill="#9fb9d8"/>
<circle cx="43.8" cy="87.8" r="0.34" fill="#9fb9d8"/>
<circle cx="60.2" cy="79.1" r="0.25" fill="#9fb9d8"/>
<circle cx="52.3" cy="86.1" r="0.49" fill="#9fb9d8"/>
<circle cx="51.6" cy="92.7" r="0.43" fill="#9fb9d8"/>
<circle cx="61.9" cy="81.3" r="0.35" fill="#9fb9d8"/>
<circle cx="46.9" cy="84.4" r="0.41" fill="#9fb9d8"/>
<circle cx="57.5" cy="86.1" r="0.30" fill="#9fb9d8"/>
<circle cx="62.1" cy="80.7" r="0.32" fill="#9fb9d8"/>
<circle cx="52.9" cy="84.7" r="0.48" fill="#9fb9d8"/>
<circle cx="60.0" cy="86.0" r="0.34" fill="#9fb9d8"/>
<circle cx="65.8" cy="79.0" r="0.42" fill="#9fb9d8"/>
<circle cx="42.4" cy="89.4" r="0.27" fill="#c4e1eb"/>
<circle cx="66.3" cy="76.3" r="0.46" fill="#9fb9d8"/>
<circle cx="62.0" cy="85.4" r="0.34" fill="#9fb9d8"/>
<circle cx="61.8" cy="94.1" r="0.28" fill="#9fb9d8"/>
<circle cx="40.3" cy="92.2" r="0.48" fill="#9fb9d8"/>
<circle cx="56.5" cy="84.8" r="0.33" fill="#9fb9d8"/>
<circle cx="42.9" cy="89.2" r="0.51" fill="#9fb9d8"/>
<circle cx="67.5" cy="82.7" r="0.36" fill="#9fb9d8"/>
<circle cx="54.8" cy="76.8" r="0.36" fill="#9fb9d8"/>
<circle cx="35.57" cy="8.13" r="1.42" fill="#bfe0ea"/>
<circle cx="48.78" cy="5.08" r="1.42" fill="#f47040"/>
<circle cx="58.94" cy="7.72" r="2.44" fill="#bfe0ea"/>
<circle cx="81.91" cy="17.28" r="1.22" fill="#f47040"/>
<circle cx="67.07" cy="9.76" r="1.42" fill="#c5e1ea"/>
<circle cx="24.39" cy="12.20" r="1.22" fill="#f47040"/>
<circle cx="43.29" cy="9.15" r="1.83" fill="#bfe0ea"/>
<circle cx="5.08" cy="53.86" r="1.42" fill="#a9d5e6"/>
<circle cx="86.38" cy="51.83" r="1.83" fill="#f47040"/>
<circle cx="90.45" cy="43.70" r="1.02" fill="#c5e1ea"/>
<circle cx="92.48" cy="38.62" r="1.02" fill="#f0d8a8"/>
<circle cx="88.41" cy="65.04" r="1.02" fill="#bfe0ea"/>
<circle cx="24.39" cy="82.32" r="1.02" fill="#bfe0ea"/>
<circle cx="48.78" cy="95.53" r="1.63" fill="#bfe0ea"/>
<circle cx="60.98" cy="95.53" r="1.02" fill="#bfe0ea"/>
<circle cx="40.65" cy="92.48" r="1.83" fill="#2450a0"/>
<circle cx="8.13" cy="69.11" r="2.44" fill="#c9e3ec"/>
<circle cx="3.66" cy="53.66" r="1.02" fill="#bfe0ea"/>
<circle cx="37.60" cy="80.89" r="1.42" fill="#f47040"/>
<circle cx="7.11" cy="57.72" r="1.02" fill="#bfe0ea"/>
<circle cx="22.97" cy="82.72" r="1.02" fill="#bfe0ea"/>
<circle cx="27.44" cy="82.11" r="1.22" fill="#bfe0ea"/>
<circle cx="30.69" cy="87.40" r="1.02" fill="#bfe0ea"/>
<circle cx="34.15" cy="84.76" r="1.22" fill="#bfe0ea"/>
<circle cx="37.60" cy="81.30" r="2.03" fill="#f47040"/>
<circle cx="38.62" cy="90.45" r="1.63" fill="#c9e3ec"/>
<circle cx="53.86" cy="80.28" r="2.03" fill="#f47040"/>
<circle cx="68.09" cy="86.38" r="1.63" fill="#f47040"/>
<circle cx="92.48" cy="45.73" r="1.42" fill="#f47040"/>
<circle cx="6.10" cy="40.65" r="1.02" fill="#bfe0ea"/>
<circle cx="3.05" cy="48.78" r="1.02" fill="#bfe0ea"/>
<circle cx="16.26" cy="36.59" r="1.02" fill="#bfe0ea"/>
<circle cx="35.57" cy="77.24" r="1.02" fill="#f47040"/>
<circle cx="8.13" cy="31.50" r="2.03" fill="#2450a0"/>
<circle cx="12.20" cy="28.46" r="1.02" fill="#2450a0"/>
<circle cx="5.08" cy="42.68" r="1.22" fill="#2450a0"/>
<circle cx="32.52" cy="15.24" r="1.22" fill="#bfe0ea"/>
<circle cx="19.31" cy="17.28" r="1.22" fill="#f47040"/>
<circle cx="74.39" cy="15.24" r="2.24" fill="#f47040"/>
<circle cx="87.40" cy="23.37" r="1.22" fill="#f47040"/>
<circle cx="59.96" cy="8.13" r="1.02" fill="#f47040"/>
<circle cx="12.20" cy="60.98" r="1.02" fill="#bfe0ea"/>
<circle cx="72.15" cy="47.76" r="1.22" fill="#f47040"/>
<circle cx="89.43" cy="58.94" r="1.02" fill="#f47040"/>
<circle cx="93.50" cy="52.85" r="1.02" fill="#bfe0ea"/>
<circle cx="20.33" cy="87.40" r="1.02" fill="#bfe0ea"/>
<circle cx="30.49" cy="85.37" r="1.02" fill="#bfe0ea"/>
<circle cx="81.30" cy="83.33" r="1.22" fill="#f47040"/>
<circle cx="71.14" cy="77.24" r="1.02" fill="#f47040"/>
<circle cx="85.37" cy="79.27" r="1.02" fill="#f47040"/>
<circle cx="73.17" cy="28.46" r="1.02" fill="#f47040"/>
<circle cx="9.15" cy="60.98" r="0.81" fill="#bfe0ea"/>
<circle cx="54.88" cy="89.43" r="1.02" fill="#bfe0ea"/>
<g filter="url(#rough)">
<polygon points="9.8,61.0 14.6,54.5 22.4,48.8 28.5,50.2 34.6,54.5 37.4,60.0 37.2,67.1 30.9,72.4 22.0,75.6 15.2,70.3" fill="url(#g1)" stroke="#fff" stroke-width="0.4" stroke-linejoin="miter"/>
<polygon points="22.4,32.5 26.4,29.5 32.5,27.4 37.6,30.5 39.6,35.6 37.6,38.6 30.5,39.6 24.4,38.2" fill="#b3d9e7" stroke="#fff" stroke-width="0.4" stroke-linejoin="miter"/>
<polygon points="12.2,45.7 16.3,42.7 21.3,41.7 23.4,45.7 20.3,50.8 14.2,50.8 11.8,48.4" fill="#b6dae8" stroke="#fff" stroke-width="0.4" stroke-linejoin="miter"/>
<polygon points="17.3,24.4 21.3,23.4 24.0,26.0 22.4,28.9 18.3,28.5" fill="#c9e3ec" stroke="#fff" stroke-width="0.4" stroke-linejoin="miter"/>
<polygon points="39.6,25.4 47.8,23.4 53.9,25.4 54.9,30.5 51.8,36.6 46.7,39.6 41.7,37.6 39.6,30.5" fill="#f86e3c" stroke="#fff" stroke-width="0.4" stroke-linejoin="miter"/>
<polygon points="30.5,47.8 35.6,40.7 40.7,38.6 44.7,41.7 46.7,47.8 53.9,48.8 58.9,53.9 61.0,61.0 60.0,69.1 54.9,76.2 46.7,78.3 39.6,76.2 36.6,70.1 37.6,61.0 33.5,54.9" fill="#f86e3c" stroke="#fff" stroke-width="0.4" stroke-linejoin="miter"/>
<polygon points="37.6,61.0 61.0,61.0 60.0,69.1 54.9,76.2 46.7,78.3 39.6,76.2 36.6,70.1" fill="#f36e40" stroke="#fff" stroke-width="0.4" stroke-linejoin="miter"/>
<polygon points="45.7,47.8 52.8,48.8 57.9,53.9 56.9,57.9 51.8,56.9 47.8,53.9" fill="#eedbb5" stroke="#fff" stroke-width="0.4" stroke-linejoin="miter"/>
<polygon points="49.8,54.5 57.3,55.3 56.9,57.9 50.8,57.3" fill="#f0a070" stroke="#fff" stroke-width="0.4" stroke-linejoin="miter"/>
<polygon points="43.7,43.9 48.8,40.7 53.9,36.6 56.9,30.5 57.9,28.0 68.9,28.0 70.5,29.1 68.9,36.0 62.0,40.0 55.1,43.1 50.0,45.9" fill="#a9d8ea" stroke="#fff" stroke-width="0.4" stroke-linejoin="miter"/>
<polygon points="55.1,43.1 62.0,40.0 68.9,36.0 69.9,38.4 76.0,43.1 80.9,48.4 77.2,54.1 73.0,57.5 66.1,56.1 60.0,52.0 55.5,47.0" fill="#a3d5e9" stroke="#fff" stroke-width="0.4" stroke-linejoin="miter"/>
<polygon points="54.9,24.4 57.3,18.3 62.0,14.6 70.1,14.6 71.5,20.3 70.9,24.8 68.9,28.0 57.9,28.0" fill="#ebe3c3" stroke="#fff" stroke-width="0.4" stroke-linejoin="miter"/>
<polygon points="70.9,24.8 76.0,22.8 81.9,26.4 86.4,33.5 85.4,41.7 81.3,46.7 76.0,43.1 69.9,38.4 68.9,36.0 70.5,29.1" fill="#efdcad" stroke="#fff" stroke-width="0.4" stroke-linejoin="miter"/>
<polygon points="71.5,20.3 74.0,17.1 79.1,17.9 82.5,22.4 76.0,22.8 70.9,24.8" fill="#efdcb5" stroke="#fff" stroke-width="0.4" stroke-linejoin="miter"/>
<polygon points="76.2,61.0 79.3,54.9 82.3,52.8 83.7,55.9 82.3,62.0 79.3,65.0 76.8,64.6" fill="#efd4a2" stroke="#fff" stroke-width="0.4" stroke-linejoin="miter"/>
<polygon points="77.2,69.1 82.3,66.1 85.0,69.1 83.7,75.2 80.3,77.2 77.2,74.2" fill="#2450a0" stroke="#fff" stroke-width="0.4" stroke-linejoin="miter"/>
<polygon points="65.0,58.9 70.1,56.9 73.2,61.0 71.1,67.1 66.1,66.1" fill="#c8e3ec" stroke="#fff" stroke-width="0.4" stroke-linejoin="miter"/>
<polygon points="45.7,18.3 49.8,16.3 53.9,18.3 53.9,21.3 49.8,22.8 46.3,21.3" fill="#f86e3c" stroke="#fff" stroke-width="0.4" stroke-linejoin="miter"/>
<polygon points="22.8,18.7 28.5,14.6 35.6,14.2 39.0,17.9 37.6,21.3 30.5,22.4 24.0,21.5" fill="#b5d9e6" stroke="#fff" stroke-width="0.4" stroke-linejoin="miter"/>
<polygon points="27.6,42.7 30.5,40.2 32.9,43.1 30.9,45.5" fill="#f86e3c" stroke="#fff" stroke-width="0.4" stroke-linejoin="miter"/>
</g>
<rect x="0" y="0" width="101" height="100" fill="url(#speck)"/></g>
<g id="map2"><circle cx="54.5" cy="90.0" r="0.57" fill="#3a78bd"/>
<circle cx="95.4" cy="54.1" r="0.41" fill="#3a78bd"/>
<circle cx="89.9" cy="49.4" r="0.51" fill="#4a86c6"/>
<circle cx="30.2" cy="25.0" r="0.69" fill="#3a78bd"/>
<circle cx="9.3" cy="44.3" r="0.33" fill="#4a86c6"/>
<circle cx="53.6" cy="10.2" r="0.31" fill="#4a86c6"/>
<circle cx="42.8" cy="6.6" r="0.71" fill="#3a78bd"/>
<circle cx="17.1" cy="77.2" r="0.72" fill="#4580c2"/>
<circle cx="74.0" cy="76.4" r="0.50" fill="#4a86c6"/>
<circle cx="26.5" cy="25.0" r="0.47" fill="#3a78bd"/>
<circle cx="27.7" cy="82.9" r="0.71" fill="#4580c2"/>
<circle cx="32.7" cy="9.1" r="0.75" fill="#f07a4a"/>
<circle cx="81.0" cy="15.2" r="0.56" fill="#f07a4a"/>
<circle cx="43.8" cy="17.2" r="0.56" fill="#f07a4a"/>
<circle cx="44.6" cy="81.4" r="0.75" fill="#4a86c6"/>
<circle cx="88.5" cy="73.5" r="0.37" fill="#3a78bd"/>
<circle cx="39.8" cy="91.9" r="0.32" fill="#4a86c6"/>
<circle cx="44.4" cy="15.0" r="0.74" fill="#f07a4a"/>
<circle cx="5.0" cy="48.9" r="0.33" fill="#3a78bd"/>
<circle cx="63.7" cy="85.9" r="0.37" fill="#3a78bd"/>
<circle cx="94.5" cy="62.2" r="0.73" fill="#3a78bd"/>
<circle cx="13.5" cy="35.7" r="0.53" fill="#4a86c6"/>
<circle cx="13.1" cy="68.2" r="0.44" fill="#3a78bd"/>
<circle cx="90.4" cy="45.0" r="0.31" fill="#4580c2"/>
<circle cx="91.9" cy="55.6" r="0.33" fill="#4a86c6"/>
<circle cx="24.8" cy="23.0" r="0.46" fill="#3a78bd"/>
<circle cx="40.1" cy="9.5" r="0.33" fill="#4a86c6"/>
<circle cx="30.9" cy="9.4" r="0.51" fill="#4a86c6"/>
<circle cx="21.4" cy="30.7" r="0.44" fill="#4580c2"/>
<circle cx="24.0" cy="80.1" r="0.47" fill="#3a78bd"/>
<circle cx="55.8" cy="19.7" r="0.63" fill="#3a78bd"/>
<circle cx="38.8" cy="82.5" r="0.41" fill="#4580c2"/>
<circle cx="66.0" cy="85.5" r="0.35" fill="#3a78bd"/>
<circle cx="35.7" cy="83.1" r="0.50" fill="#4580c2"/>
<circle cx="30.1" cy="85.8" r="0.50" fill="#4a86c6"/>
<circle cx="56.6" cy="82.8" r="0.39" fill="#3a78bd"/>
<circle cx="66.9" cy="9.2" r="0.43" fill="#4a86c6"/>
<circle cx="66.0" cy="12.0" r="0.46" fill="#f07a4a"/>
<circle cx="75.9" cy="76.4" r="0.42" fill="#4580c2"/>
<circle cx="30.1" cy="81.4" r="0.48" fill="#4580c2"/>
<circle cx="97.1" cy="51.8" r="0.74" fill="#4a86c6"/>
<circle cx="9.6" cy="68.8" r="0.40" fill="#4a86c6"/>
<circle cx="50.3" cy="6.4" r="0.53" fill="#3a78bd"/>
<circle cx="42.7" cy="85.8" r="0.33" fill="#3a78bd"/>
<circle cx="21.4" cy="31.7" r="0.32" fill="#4a86c6"/>
<circle cx="86.0" cy="26.6" r="0.70" fill="#f07a4a"/>
<circle cx="83.9" cy="26.9" r="0.64" fill="#4a86c6"/>
<circle cx="68.3" cy="82.0" r="0.54" fill="#3a78bd"/>
<circle cx="12.4" cy="74.0" r="0.45" fill="#4a86c6"/>
<circle cx="50.8" cy="94.9" r="0.65" fill="#3a78bd"/>
<circle cx="31.2" cy="77.8" r="0.67" fill="#4580c2"/>
<circle cx="72.1" cy="88.7" r="0.66" fill="#4a86c6"/>
<circle cx="20.8" cy="18.4" r="0.42" fill="#4a86c6"/>
<circle cx="46.9" cy="89.6" r="0.51" fill="#3a78bd"/>
<circle cx="74.0" cy="72.9" r="0.68" fill="#4a86c6"/>
<circle cx="37.0" cy="83.4" r="0.59" fill="#3a78bd"/>
<circle cx="20.1" cy="31.5" r="0.45" fill="#3a78bd"/>
<circle cx="79.8" cy="78.4" r="0.47" fill="#3a78bd"/>
<circle cx="23.1" cy="79.5" r="0.47" fill="#4a86c6"/>
<circle cx="64.4" cy="11.8" r="0.47" fill="#4a86c6"/>
<circle cx="9.5" cy="51.5" r="0.61" fill="#4580c2"/>
<circle cx="10.6" cy="41.1" r="0.49" fill="#3a78bd"/>
<circle cx="11.5" cy="70.6" r="0.47" fill="#4a86c6"/>
<circle cx="86.3" cy="24.5" r="0.51" fill="#4a86c6"/>
<circle cx="82.8" cy="81.1" r="0.70" fill="#4a86c6"/>
<circle cx="62.4" cy="10.5" r="0.55" fill="#3a78bd"/>
<circle cx="84.6" cy="51.5" r="0.32" fill="#4a86c6"/>
<circle cx="95.2" cy="57.0" r="0.68" fill="#3a78bd"/>
<circle cx="31.1" cy="11.4" r="0.56" fill="#f07a4a"/>
<circle cx="55.8" cy="11.7" r="0.35" fill="#3a78bd"/>
<circle cx="51.2" cy="5.0" r="0.45" fill="#4a86c6"/>
<circle cx="11.1" cy="33.3" r="0.38" fill="#3a78bd"/>
<circle cx="51.5" cy="91.2" r="0.48" fill="#4580c2"/>
<circle cx="26.4" cy="78.1" r="0.49" fill="#4580c2"/>
<circle cx="88.5" cy="44.2" r="0.37" fill="#4a86c6"/>
<circle cx="35.9" cy="10.6" r="0.53" fill="#3a78bd"/>
<circle cx="10.6" cy="54.7" r="0.37" fill="#4a86c6"/>
<circle cx="86.7" cy="74.7" r="0.53" fill="#4a86c6"/>
<circle cx="65.2" cy="82.8" r="0.56" fill="#3a78bd"/>
<circle cx="37.8" cy="82.2" r="0.73" fill="#3a78bd"/>
<circle cx="39.5" cy="90.9" r="0.68" fill="#3a78bd"/>
<circle cx="21.2" cy="32.7" r="0.31" fill="#3a78bd"/>
<circle cx="68.7" cy="82.9" r="0.65" fill="#3a78bd"/>
<circle cx="80.2" cy="86.9" r="0.57" fill="#4a86c6"/>
<circle cx="8.3" cy="59.3" r="0.55" fill="#4a86c6"/>
<circle cx="9.5" cy="55.5" r="0.48" fill="#4a86c6"/>
<circle cx="46.8" cy="4.8" r="0.40" fill="#3a78bd"/>
<circle cx="55.5" cy="92.6" r="0.73" fill="#3a78bd"/>
<circle cx="64.5" cy="83.0" r="0.62" fill="#3a78bd"/>
<circle cx="79.9" cy="15.6" r="0.69" fill="#4a86c6"/>
<circle cx="36.9" cy="85.2" r="0.34" fill="#3a78bd"/>
<circle cx="88.3" cy="74.7" r="0.46" fill="#3a78bd"/>
<circle cx="15.1" cy="30.4" r="0.45" fill="#3a78bd"/>
<circle cx="61.5" cy="89.5" r="0.48" fill="#4a86c6"/>
<circle cx="45.1" cy="91.5" r="0.70" fill="#3a78bd"/>
<circle cx="57.5" cy="8.0" r="0.60" fill="#4a86c6"/>
<circle cx="26.8" cy="14.6" r="0.64" fill="#4a86c6"/>
<circle cx="91.9" cy="40.5" r="0.35" fill="#4580c2"/>
<circle cx="15.0" cy="51.9" r="0.61" fill="#4a86c6"/>
<circle cx="20.7" cy="36.8" r="0.58" fill="#4a86c6"/>
<circle cx="70.8" cy="91.0" r="0.36" fill="#3a78bd"/>
<circle cx="30.8" cy="87.4" r="0.55" fill="#4580c2"/>
<circle cx="38.6" cy="81.6" r="0.62" fill="#3a78bd"/>
<circle cx="52.6" cy="10.9" r="0.46" fill="#3a78bd"/>
<circle cx="47.8" cy="87.4" r="0.32" fill="#4a86c6"/>
<circle cx="55.8" cy="14.2" r="0.48" fill="#4a86c6"/>
<circle cx="9.9" cy="39.4" r="0.68" fill="#4580c2"/>
<circle cx="59.2" cy="8.8" r="0.39" fill="#4a86c6"/>
<circle cx="14.5" cy="71.8" r="0.64" fill="#4a86c6"/>
<circle cx="12.1" cy="43.6" r="0.41" fill="#3a78bd"/>
<circle cx="66.2" cy="8.1" r="0.47" fill="#f07a4a"/>
<circle cx="13.5" cy="37.5" r="0.74" fill="#4a86c6"/>
<circle cx="94.6" cy="51.1" r="0.52" fill="#4a86c6"/>
<circle cx="65.2" cy="87.4" r="0.53" fill="#3a78bd"/>
<circle cx="9.5" cy="32.0" r="0.36" fill="#4a86c6"/>
<circle cx="62.2" cy="11.1" r="0.46" fill="#4a86c6"/>
<circle cx="54.8" cy="82.3" r="0.72" fill="#3a78bd"/>
<circle cx="31.7" cy="90.5" r="0.36" fill="#4a86c6"/>
<circle cx="89.4" cy="31.8" r="0.45" fill="#4a86c6"/>
<circle cx="67.4" cy="7.9" r="0.50" fill="#f07a4a"/>
<circle cx="53.2" cy="11.9" r="0.32" fill="#4a86c6"/>
<circle cx="72.2" cy="83.4" r="0.54" fill="#3a78bd"/>
<circle cx="38.6" cy="86.6" r="0.48" fill="#4580c2"/>
<circle cx="70.5" cy="91.3" r="0.47" fill="#3a78bd"/>
<circle cx="24.4" cy="79.0" r="0.40" fill="#4580c2"/>
<circle cx="85.7" cy="51.1" r="0.36" fill="#4a86c6"/>
<circle cx="60.0" cy="82.9" r="0.38" fill="#3a78bd"/>
<circle cx="70.5" cy="84.2" r="0.31" fill="#3a78bd"/>
<circle cx="42.4" cy="20.3" r="0.48" fill="#4a86c6"/>
<circle cx="96.8" cy="58.2" r="0.34" fill="#3a78bd"/>
<circle cx="25.3" cy="25.2" r="0.32" fill="#4a86c6"/>
<circle cx="46.6" cy="15.6" r="0.51" fill="#f07a4a"/>
<circle cx="51.5" cy="85.6" r="0.58" fill="#4580c2"/>
<circle cx="33.4" cy="77.2" r="0.74" fill="#4a86c6"/>
<circle cx="66.5" cy="77.9" r="0.59" fill="#3a78bd"/>
<circle cx="89.5" cy="44.2" r="0.71" fill="#4a86c6"/>
<circle cx="37.8" cy="88.7" r="0.34" fill="#4a86c6"/>
<circle cx="39.6" cy="93.1" r="0.48" fill="#3a78bd"/>
<circle cx="30.5" cy="86.5" r="0.38" fill="#4a86c6"/>
<circle cx="48.8" cy="8.1" r="0.55" fill="#f07a4a"/>
<circle cx="58.6" cy="12.6" r="0.38" fill="#4a86c6"/>
<circle cx="44.1" cy="10.6" r="0.47" fill="#3a78bd"/>
<circle cx="43.9" cy="20.4" r="0.64" fill="#3a78bd"/>
<circle cx="55.1" cy="94.5" r="0.70" fill="#3a78bd"/>
<circle cx="85.4" cy="24.8" r="0.47" fill="#4a86c6"/>
<circle cx="85.0" cy="66.8" r="0.35" fill="#4a86c6"/>
<circle cx="22.0" cy="36.9" r="0.59" fill="#3a78bd"/>
<circle cx="53.3" cy="81.9" r="0.59" fill="#3a78bd"/>
<circle cx="57.3" cy="96.2" r="0.55" fill="#3a78bd"/>
<circle cx="13.7" cy="71.4" r="0.65" fill="#4a86c6"/>
<circle cx="65.5" cy="79.2" r="0.35" fill="#4580c2"/>
<circle cx="97.0" cy="57.4" r="0.70" fill="#3a78bd"/>
<circle cx="59.0" cy="93.8" r="0.59" fill="#3a78bd"/>
<circle cx="54.7" cy="6.0" r="0.57" fill="#4a86c6"/>
<circle cx="72.1" cy="15.8" r="0.39" fill="#f07a4a"/>
<circle cx="14.3" cy="41.2" r="0.33" fill="#4a86c6"/>
<circle cx="29.5" cy="82.3" r="0.55" fill="#3a78bd"/>
<circle cx="48.0" cy="13.0" r="0.57" fill="#3a78bd"/>
<circle cx="59.6" cy="86.1" r="0.45" fill="#4a86c6"/>
<circle cx="58.2" cy="83.3" r="0.63" fill="#4a86c6"/>
<circle cx="84.2" cy="17.7" r="0.72" fill="#3a78bd"/>
<circle cx="14.8" cy="42.1" r="0.71" fill="#4a86c6"/>
<circle cx="88.2" cy="38.5" r="0.48" fill="#4a86c6"/>
<circle cx="96.8" cy="49.7" r="0.72" fill="#3a78bd"/>
<circle cx="64.4" cy="80.1" r="0.43" fill="#3a78bd"/>
<circle cx="10.7" cy="45.5" r="0.64" fill="#3a78bd"/>
<circle cx="45.4" cy="87.8" r="0.63" fill="#3a78bd"/>
<circle cx="50.8" cy="15.0" r="0.43" fill="#4a86c6"/>
<circle cx="76.0" cy="85.8" r="0.74" fill="#3a78bd"/>
<circle cx="95.8" cy="44.8" r="0.37" fill="#4580c2"/>
<circle cx="37.0" cy="86.0" r="0.54" fill="#3a78bd"/>
<circle cx="23.3" cy="84.7" r="0.51" fill="#3a78bd"/>
<circle cx="84.6" cy="22.0" r="0.41" fill="#4a86c6"/>
<circle cx="78.2" cy="79.5" r="0.37" fill="#3a78bd"/>
<circle cx="83.9" cy="61.1" r="0.51" fill="#4a86c6"/>
<circle cx="94.4" cy="44.9" r="0.32" fill="#4a86c6"/>
<circle cx="63.7" cy="78.8" r="0.45" fill="#3a78bd"/>
<circle cx="89.1" cy="63.0" r="0.44" fill="#3a78bd"/>
<circle cx="52.3" cy="94.1" r="0.42" fill="#3a78bd"/>
<circle cx="87.8" cy="60.8" r="0.60" fill="#4a86c6"/>
<circle cx="88.7" cy="27.7" r="0.36" fill="#4a86c6"/>
<circle cx="53.8" cy="7.2" r="0.67" fill="#3a78bd"/>
<circle cx="18.0" cy="39.2" r="0.31" fill="#3a78bd"/>
<circle cx="23.5" cy="15.3" r="0.51" fill="#f07a4a"/>
<circle cx="28.5" cy="11.3" r="0.57" fill="#f07a4a"/>
<circle cx="67.6" cy="80.1" r="0.75" fill="#3a78bd"/>
<circle cx="15.7" cy="39.6" r="0.50" fill="#4580c2"/>
<circle cx="35.9" cy="86.5" r="0.68" fill="#3a78bd"/>
<circle cx="72.8" cy="10.3" r="0.31" fill="#3a78bd"/>
<circle cx="16.1" cy="32.6" r="0.43" fill="#4580c2"/>
<circle cx="40.1" cy="6.8" r="0.60" fill="#4a86c6"/>
<circle cx="24.5" cy="78.8" r="0.73" fill="#4a86c6"/>
<circle cx="30.5" cy="23.9" r="0.38" fill="#f07a4a"/>
<circle cx="18.8" cy="79.9" r="0.42" fill="#3a78bd"/>
<circle cx="94.9" cy="36.4" r="0.48" fill="#3a78bd"/>
<circle cx="44.9" cy="82.7" r="0.74" fill="#3a78bd"/>
<circle cx="61.4" cy="80.9" r="0.63" fill="#3a78bd"/>
<circle cx="73.1" cy="15.7" r="0.30" fill="#f07a4a"/>
<circle cx="42.3" cy="95.5" r="0.42" fill="#3a78bd"/>
<circle cx="55.5" cy="96.2" r="0.71" fill="#3a78bd"/>
<circle cx="49.1" cy="79.6" r="0.29" fill="#3a78bd"/>
<circle cx="55.3" cy="82.9" r="0.31" fill="#4a86c6"/>
<circle cx="57.0" cy="84.9" r="0.54" fill="#3a78bd"/>
<circle cx="51.8" cy="87.6" r="0.37" fill="#4a86c6"/>
<circle cx="54.1" cy="88.6" r="0.29" fill="#3a78bd"/>
<circle cx="43.0" cy="94.9" r="0.27" fill="#3a78bd"/>
<circle cx="83.4" cy="79.7" r="0.54" fill="#3a78bd"/>
<circle cx="41.0" cy="86.7" r="0.34" fill="#3a78bd"/>
<circle cx="46.6" cy="92.9" r="0.48" fill="#3a78bd"/>
<circle cx="44.1" cy="87.4" r="0.38" fill="#3a78bd"/>
<circle cx="58.0" cy="83.1" r="0.43" fill="#4a86c6"/>
<circle cx="58.3" cy="83.4" r="0.54" fill="#4a86c6"/>
<circle cx="58.5" cy="89.4" r="0.31" fill="#3a78bd"/>
<circle cx="64.1" cy="85.3" r="0.51" fill="#3a78bd"/>
<circle cx="73.1" cy="86.9" r="0.49" fill="#4a86c6"/>
<circle cx="50.7" cy="80.4" r="0.48" fill="#3a78bd"/>
<circle cx="45.6" cy="84.6" r="0.29" fill="#3a78bd"/>
<circle cx="50.3" cy="91.3" r="0.36" fill="#3a78bd"/>
<circle cx="47.3" cy="91.3" r="0.54" fill="#4a86c6"/>
<circle cx="66.1" cy="78.8" r="0.34" fill="#4a86c6"/>
<circle cx="54.4" cy="88.5" r="0.40" fill="#3a78bd"/>
<circle cx="48.0" cy="92.1" r="0.33" fill="#4a86c6"/>
<circle cx="45.2" cy="87.7" r="0.41" fill="#4a86c6"/>
<circle cx="66.0" cy="85.5" r="0.38" fill="#3a78bd"/>
<circle cx="63.6" cy="88.2" r="0.50" fill="#3a78bd"/>
<circle cx="71.5" cy="89.6" r="0.37" fill="#4a86c6"/>
<circle cx="50.8" cy="88.6" r="0.41" fill="#4a86c6"/>
<circle cx="38.6" cy="90.2" r="0.46" fill="#3a78bd"/>
<circle cx="51.7" cy="91.6" r="0.37" fill="#3a78bd"/>
<circle cx="50.6" cy="84.6" r="0.32" fill="#3a78bd"/>
<circle cx="51.3" cy="84.2" r="0.27" fill="#3a78bd"/>
<circle cx="54.5" cy="87.2" r="0.41" fill="#4a86c6"/>
<circle cx="40.6" cy="84.2" r="0.50" fill="#4a86c6"/>
<circle cx="63.3" cy="83.2" r="0.45" fill="#3a78bd"/>
<circle cx="61.4" cy="82.7" r="0.39" fill="#4a86c6"/>
<circle cx="53.7" cy="89.2" r="0.50" fill="#3a78bd"/>
<circle cx="56.8" cy="86.6" r="0.36" fill="#3a78bd"/>
<circle cx="57.8" cy="83.2" r="0.33" fill="#3a78bd"/>
<circle cx="45.4" cy="85.6" r="0.44" fill="#3a78bd"/>
<circle cx="51.3" cy="86.9" r="0.54" fill="#3a78bd"/>
<circle cx="63.4" cy="88.7" r="0.48" fill="#4a86c6"/>
<circle cx="56.1" cy="86.3" r="0.39" fill="#3a78bd"/>
<circle cx="68.3" cy="80.2" r="0.35" fill="#3a78bd"/>
<circle cx="38.8" cy="80.8" r="0.31" fill="#3a78bd"/>
<circle cx="65.9" cy="89.8" r="0.26" fill="#4a86c6"/>
<circle cx="43.4" cy="85.0" r="0.28" fill="#3a78bd"/>
<circle cx="37.6" cy="87.9" r="0.41" fill="#3a78bd"/>
<circle cx="68.2" cy="85.2" r="0.41" fill="#3a78bd"/>
<circle cx="62.4" cy="90.6" r="0.44" fill="#3a78bd"/>
<circle cx="57.3" cy="75.1" r="0.51" fill="#3a78bd"/>
<circle cx="55.9" cy="87.7" r="0.38" fill="#3a78bd"/>
<circle cx="58.5" cy="95.1" r="0.53" fill="#3a78bd"/>
<circle cx="62.8" cy="83.4" r="0.31" fill="#3a78bd"/>
<circle cx="65.3" cy="87.4" r="0.37" fill="#4a86c6"/>
<circle cx="56.5" cy="84.5" r="0.37" fill="#3a78bd"/>
<circle cx="58.0" cy="89.4" r="0.33" fill="#3a78bd"/>
<circle cx="52.7" cy="88.0" r="0.32" fill="#3a78bd"/>
<circle cx="48.8" cy="84.5" r="0.46" fill="#3a78bd"/>
<circle cx="49.1" cy="80.0" r="0.30" fill="#3a78bd"/>
<circle cx="46.2" cy="89.8" r="0.43" fill="#3a78bd"/>
<circle cx="52.1" cy="86.6" r="0.49" fill="#4a86c6"/>
<circle cx="43.2" cy="86.4" r="0.33" fill="#4a86c6"/>
<circle cx="52.5" cy="82.7" r="0.50" fill="#4a86c6"/>
<circle cx="49.4" cy="86.3" r="0.47" fill="#3a78bd"/>
<circle cx="53.7" cy="79.4" r="0.28" fill="#3a78bd"/>
<circle cx="61.1" cy="81.4" r="0.41" fill="#4a86c6"/>
<circle cx="45.1" cy="87.9" r="0.42" fill="#4a86c6"/>
<circle cx="56.2" cy="88.1" r="0.48" fill="#3a78bd"/>
<circle cx="63.4" cy="81.9" r="0.55" fill="#4a86c6"/>
<circle cx="54.9" cy="81.9" r="0.25" fill="#3a78bd"/>
<circle cx="54.2" cy="81.4" r="0.39" fill="#3a78bd"/>
<circle cx="55.0" cy="93.7" r="0.42" fill="#3a78bd"/>
<circle cx="63.8" cy="90.0" r="0.35" fill="#3a78bd"/>
<circle cx="59.2" cy="90.4" r="0.31" fill="#3a78bd"/>
<circle cx="51.2" cy="84.9" r="0.27" fill="#3a78bd"/>
<circle cx="58.2" cy="91.7" r="0.30" fill="#3a78bd"/>
<circle cx="35.2" cy="83.4" r="0.51" fill="#3a78bd"/>
<circle cx="52.3" cy="87.1" r="0.33" fill="#3a78bd"/>
<circle cx="59.2" cy="85.1" r="0.53" fill="#3a78bd"/>
<circle cx="48.6" cy="87.6" r="0.54" fill="#3a78bd"/>
<circle cx="45.3" cy="83.4" r="0.31" fill="#3a78bd"/>
<circle cx="70.9" cy="85.2" r="0.47" fill="#4a86c6"/>
<circle cx="66.4" cy="90.5" r="0.48" fill="#3a78bd"/>
<circle cx="31.5" cy="89.6" r="0.35" fill="#3a78bd"/>
<circle cx="61.8" cy="92.4" r="0.33" fill="#3a78bd"/>
<circle cx="42.4" cy="93.3" r="0.47" fill="#3a78bd"/>
<circle cx="51.3" cy="81.1" r="0.49" fill="#3a78bd"/>
<circle cx="43.5" cy="84.2" r="0.37" fill="#3a78bd"/>
<circle cx="61.2" cy="92.3" r="0.31" fill="#3a78bd"/>
<circle cx="32.7" cy="85.6" r="0.50" fill="#3a78bd"/>
<circle cx="53.1" cy="87.1" r="0.42" fill="#3a78bd"/>
<circle cx="60.3" cy="84.4" r="0.30" fill="#4a86c6"/>
<circle cx="54.3" cy="80.3" r="0.47" fill="#3a78bd"/>
<circle cx="42.1" cy="84.0" r="0.43" fill="#3a78bd"/>
<circle cx="63.2" cy="91.3" r="0.52" fill="#3a78bd"/>
<circle cx="58.7" cy="86.1" r="0.49" fill="#3a78bd"/>
<circle cx="49.6" cy="83.5" r="0.46" fill="#3a78bd"/>
<circle cx="52.3" cy="93.6" r="0.30" fill="#3a78bd"/>
<circle cx="47.0" cy="85.5" r="0.54" fill="#3a78bd"/>
<circle cx="57.9" cy="81.3" r="0.49" fill="#3a78bd"/>
<circle cx="51.0" cy="82.1" r="0.32" fill="#3a78bd"/>
<circle cx="57.6" cy="81.6" r="0.32" fill="#3a78bd"/>
<circle cx="61.5" cy="88.5" r="0.42" fill="#3a78bd"/>
<circle cx="48.9" cy="83.6" r="0.26" fill="#3a78bd"/>
<circle cx="51.8" cy="88.8" r="0.42" fill="#3a78bd"/>
<circle cx="55.9" cy="79.2" r="0.45" fill="#3a78bd"/>
<circle cx="45.6" cy="85.3" r="0.34" fill="#3a78bd"/>
<circle cx="57.9" cy="80.3" r="0.28" fill="#4a86c6"/>
<circle cx="44.1" cy="82.6" r="0.38" fill="#3a78bd"/>
<circle cx="60.5" cy="86.0" r="0.36" fill="#4a86c6"/>
<circle cx="62.6" cy="90.1" r="0.39" fill="#3a78bd"/>
<circle cx="63.3" cy="83.6" r="0.25" fill="#3a78bd"/>
<circle cx="69.1" cy="86.2" r="0.51" fill="#4a86c6"/>
<circle cx="67.9" cy="88.2" r="0.34" fill="#3a78bd"/>
<circle cx="52.6" cy="90.1" r="0.29" fill="#3a78bd"/>
<circle cx="56.3" cy="87.9" r="0.47" fill="#3a78bd"/>
<circle cx="56.3" cy="80.1" r="0.44" fill="#3a78bd"/>
<circle cx="50.0" cy="80.7" r="0.54" fill="#3a78bd"/>
<circle cx="67.3" cy="89.1" r="0.53" fill="#3a78bd"/>
<circle cx="52.2" cy="79.8" r="0.37" fill="#3a78bd"/>
<circle cx="53.3" cy="85.3" r="0.34" fill="#3a78bd"/>
<circle cx="54.5" cy="91.7" r="0.33" fill="#3a78bd"/>
<circle cx="46.3" cy="79.3" r="0.54" fill="#3a78bd"/>
<circle cx="57.4" cy="90.3" r="0.27" fill="#3a78bd"/>
<circle cx="44.3" cy="82.5" r="0.32" fill="#3a78bd"/>
<circle cx="59.6" cy="87.8" r="0.40" fill="#3a78bd"/>
<circle cx="63.6" cy="81.7" r="0.35" fill="#3a78bd"/>
<circle cx="69.2" cy="88.0" r="0.48" fill="#3a78bd"/>
<circle cx="53.9" cy="82.1" r="0.32" fill="#3a78bd"/>
<circle cx="59.0" cy="92.4" r="0.44" fill="#3a78bd"/>
<circle cx="67.2" cy="91.2" r="0.39" fill="#3a78bd"/>
<circle cx="45.4" cy="85.9" r="0.31" fill="#3a78bd"/>
<circle cx="46.3" cy="79.7" r="0.52" fill="#3a78bd"/>
<circle cx="67.5" cy="80.3" r="0.46" fill="#4a86c6"/>
<circle cx="65.1" cy="92.6" r="0.52" fill="#3a78bd"/>
<circle cx="36.9" cy="79.2" r="0.34" fill="#4a86c6"/>
<circle cx="63.0" cy="83.0" r="0.29" fill="#3a78bd"/>
<circle cx="59.5" cy="81.4" r="0.34" fill="#3a78bd"/>
<circle cx="61.2" cy="84.3" r="0.26" fill="#4a86c6"/>
<circle cx="51.4" cy="90.5" r="0.54" fill="#3a78bd"/>
<circle cx="71.2" cy="91.4" r="0.32" fill="#3a78bd"/>
<circle cx="61.0" cy="84.6" r="0.52" fill="#3a78bd"/>
<circle cx="52.9" cy="89.3" r="0.41" fill="#3a78bd"/>
<circle cx="46.4" cy="89.5" r="0.34" fill="#4a86c6"/>
<circle cx="68.8" cy="82.6" r="0.50" fill="#3a78bd"/>
<circle cx="55.0" cy="89.4" r="0.30" fill="#4a86c6"/>
<circle cx="71.5" cy="79.8" r="0.42" fill="#3a78bd"/>
<circle cx="52.3" cy="86.8" r="0.52" fill="#3a78bd"/>
<circle cx="50.0" cy="92.9" r="0.28" fill="#4a86c6"/>
<circle cx="48.3" cy="88.7" r="0.45" fill="#3a78bd"/>
<circle cx="55.0" cy="88.6" r="0.42" fill="#3a78bd"/>
<circle cx="60.7" cy="82.7" r="0.30" fill="#3a78bd"/>
<circle cx="60.9" cy="88.9" r="0.41" fill="#3a78bd"/>
<circle cx="51.2" cy="89.6" r="0.40" fill="#3a78bd"/>
<circle cx="40.8" cy="89.3" r="0.39" fill="#3a78bd"/>
<circle cx="46.2" cy="86.6" r="0.40" fill="#4a86c6"/>
<circle cx="49.0" cy="89.3" r="0.36" fill="#3a78bd"/>
<circle cx="45.1" cy="84.4" r="0.40" fill="#3a78bd"/>
<circle cx="40.9" cy="87.4" r="0.31" fill="#4a86c6"/>
<circle cx="68.6" cy="92.6" r="0.30" fill="#3a78bd"/>
<circle cx="54.8" cy="88.0" r="0.41" fill="#4a86c6"/>
<circle cx="65.4" cy="77.6" r="0.54" fill="#3a78bd"/>
<circle cx="51.9" cy="87.6" r="0.48" fill="#3a78bd"/>
<circle cx="54.4" cy="77.1" r="0.55" fill="#3a78bd"/>
<circle cx="63.0" cy="81.5" r="0.27" fill="#4a86c6"/>
<circle cx="58.2" cy="87.1" r="0.50" fill="#3a78bd"/>
<circle cx="53.9" cy="85.0" r="0.31" fill="#3a78bd"/>
<circle cx="65.5" cy="87.4" r="0.53" fill="#3a78bd"/>
<circle cx="50.8" cy="78.1" r="0.44" fill="#3a78bd"/>
<circle cx="54.5" cy="85.2" r="0.31" fill="#3a78bd"/>
<circle cx="61.2" cy="85.3" r="0.43" fill="#3a78bd"/>
<circle cx="60.6" cy="81.5" r="0.41" fill="#3a78bd"/>
<circle cx="64.5" cy="92.1" r="0.49" fill="#4a86c6"/>
<circle cx="53.7" cy="89.6" r="0.30" fill="#4a86c6"/>
<circle cx="46.7" cy="87.9" r="0.41" fill="#3a78bd"/>
<circle cx="51.6" cy="90.1" r="0.48" fill="#3a78bd"/>
<circle cx="54.0" cy="87.9" r="0.53" fill="#3a78bd"/>
<circle cx="47.4" cy="83.2" r="0.54" fill="#3a78bd"/>
<circle cx="55.9" cy="88.2" r="0.36" fill="#3a78bd"/>
<circle cx="49.1" cy="81.5" r="0.45" fill="#3a78bd"/>
<circle cx="47.2" cy="82.1" r="0.41" fill="#3a78bd"/>
<circle cx="57.9" cy="83.2" r="0.49" fill="#3a78bd"/>
<circle cx="57.0" cy="84.4" r="0.40" fill="#3a78bd"/>
<circle cx="53.6" cy="82.7" r="0.33" fill="#3a78bd"/>
<circle cx="44.1" cy="83.5" r="0.25" fill="#3a78bd"/>
<circle cx="43.8" cy="87.8" r="0.34" fill="#3a78bd"/>
<circle cx="60.2" cy="79.1" r="0.25" fill="#3a78bd"/>
<circle cx="52.3" cy="86.1" r="0.49" fill="#3a78bd"/>
<circle cx="51.6" cy="92.7" r="0.43" fill="#3a78bd"/>
<circle cx="61.9" cy="81.3" r="0.35" fill="#3a78bd"/>
<circle cx="46.9" cy="84.4" r="0.41" fill="#3a78bd"/>
<circle cx="57.5" cy="86.1" r="0.30" fill="#3a78bd"/>
<circle cx="62.1" cy="80.7" r="0.32" fill="#3a78bd"/>
<circle cx="52.9" cy="84.7" r="0.48" fill="#3a78bd"/>
<circle cx="60.0" cy="86.0" r="0.34" fill="#3a78bd"/>
<circle cx="65.8" cy="79.0" r="0.42" fill="#3a78bd"/>
<circle cx="42.4" cy="89.4" r="0.27" fill="#4a86c6"/>
<circle cx="66.3" cy="76.3" r="0.46" fill="#3a78bd"/>
<circle cx="62.0" cy="85.4" r="0.34" fill="#3a78bd"/>
<circle cx="61.8" cy="94.1" r="0.28" fill="#3a78bd"/>
<circle cx="40.3" cy="92.2" r="0.48" fill="#3a78bd"/>
<circle cx="56.5" cy="84.8" r="0.33" fill="#3a78bd"/>
<circle cx="42.9" cy="89.2" r="0.51" fill="#3a78bd"/>
<circle cx="67.5" cy="82.7" r="0.36" fill="#3a78bd"/>
<circle cx="54.8" cy="76.8" r="0.36" fill="#3a78bd"/>
<circle cx="35.57" cy="8.13" r="1.42" fill="#2e70bf"/>
<circle cx="48.78" cy="5.08" r="1.42" fill="#2e70bf"/>
<circle cx="58.94" cy="7.72" r="2.44" fill="#2e70bf"/>
<circle cx="81.91" cy="17.28" r="1.22" fill="#2e70bf"/>
<circle cx="67.07" cy="9.76" r="1.42" fill="#3a7ec8"/>
<circle cx="24.39" cy="12.20" r="1.22" fill="#2e70bf"/>
<circle cx="43.29" cy="9.15" r="1.83" fill="#f2784a"/>
<circle cx="5.08" cy="53.86" r="1.42" fill="#2e70bf"/>
<circle cx="86.38" cy="51.83" r="1.83" fill="#2e70bf"/>
<circle cx="90.45" cy="43.70" r="1.02" fill="#2e70bf"/>
<circle cx="92.48" cy="38.62" r="1.02" fill="#2e70bf"/>
<circle cx="88.41" cy="65.04" r="1.02" fill="#2e70bf"/>
<circle cx="24.39" cy="82.32" r="1.02" fill="#f07a4a"/>
<circle cx="48.78" cy="95.53" r="1.63" fill="#2e70bf"/>
<circle cx="60.98" cy="95.53" r="1.02" fill="#2e70bf"/>
<circle cx="40.65" cy="92.48" r="1.83" fill="#2e70bf"/>
<circle cx="8.13" cy="69.11" r="2.44" fill="#3a7ec8"/>
<circle cx="3.66" cy="53.66" r="1.02" fill="#f47a4a"/>
<circle cx="37.60" cy="80.89" r="1.42" fill="#f47a4a"/>
<circle cx="7.11" cy="57.72" r="1.02" fill="#2e70bf"/>
<circle cx="22.97" cy="82.72" r="1.02" fill="#2e70bf"/>
<circle cx="27.44" cy="82.11" r="1.22" fill="#2e70bf"/>
<circle cx="30.69" cy="87.40" r="1.02" fill="#2e70bf"/>
<circle cx="34.15" cy="84.76" r="1.22" fill="#2e70bf"/>
<circle cx="37.60" cy="81.30" r="2.03" fill="#2e70bf"/>
<circle cx="38.62" cy="90.45" r="1.63" fill="#2e70bf"/>
<circle cx="53.86" cy="80.28" r="2.03" fill="#2e70bf"/>
<circle cx="68.09" cy="86.38" r="1.63" fill="#2e70bf"/>
<circle cx="92.48" cy="45.73" r="1.42" fill="#2e70bf"/>
<circle cx="6.10" cy="40.65" r="1.02" fill="#2e70bf"/>
<circle cx="3.05" cy="48.78" r="1.02" fill="#2e70bf"/>
<circle cx="16.26" cy="36.59" r="1.02" fill="#2e70bf"/>
<circle cx="35.57" cy="77.24" r="1.02" fill="#f07a4a"/>
<circle cx="8.13" cy="31.50" r="2.03" fill="#2e70bf"/>
<circle cx="12.20" cy="28.46" r="1.02" fill="#f07a4a"/>
<circle cx="5.08" cy="42.68" r="1.22" fill="#2e70bf"/>
<circle cx="32.52" cy="15.24" r="1.22" fill="#f07a4a"/>
<circle cx="19.31" cy="17.28" r="1.22" fill="#2e70bf"/>
<circle cx="74.39" cy="15.24" r="2.24" fill="#f07a4a"/>
<circle cx="87.40" cy="23.37" r="1.22" fill="#f07a4a"/>
<circle cx="59.96" cy="8.13" r="1.02" fill="#2e70bf"/>
<circle cx="12.20" cy="60.98" r="1.02" fill="#2e70bf"/>
<circle cx="72.15" cy="47.76" r="1.22" fill="#5a9ad2"/>
<circle cx="89.43" cy="58.94" r="1.02" fill="#2e70bf"/>
<circle cx="93.50" cy="52.85" r="1.02" fill="#2e70bf"/>
<circle cx="20.33" cy="87.40" r="1.02" fill="#2e70bf"/>
<circle cx="30.49" cy="85.37" r="1.02" fill="#2e70bf"/>
<circle cx="81.30" cy="83.33" r="1.22" fill="#2e70bf"/>
<circle cx="71.14" cy="77.24" r="1.02" fill="#2e70bf"/>
<circle cx="85.37" cy="79.27" r="1.02" fill="#2e70bf"/>
<circle cx="73.17" cy="28.46" r="1.02" fill="#2e70bf"/>
<circle cx="9.15" cy="60.98" r="0.81" fill="#2e70bf"/>
<circle cx="54.88" cy="89.43" r="1.02" fill="#2e70bf"/>
<g filter="url(#rough)">
<polygon points="9.8,61.0 14.6,54.5 22.4,48.8 28.5,50.2 34.6,54.5 37.4,60.0 37.2,67.1 30.9,72.4 22.0,75.6 15.2,70.3" fill="url(#g2)" stroke="#fff" stroke-width="0.4" stroke-linejoin="miter"/>
<polygon points="22.4,32.5 26.4,29.5 32.5,27.4 37.6,30.5 39.6,35.6 37.6,38.6 30.5,39.6 24.4,38.2" fill="#2e70bf" stroke="#fff" stroke-width="0.4" stroke-linejoin="miter"/>
<polygon points="12.2,45.7 16.3,42.7 21.3,41.7 23.4,45.7 20.3,50.8 14.2,50.8 11.8,48.4" fill="#2e70bf" stroke="#fff" stroke-width="0.4" stroke-linejoin="miter"/>
<polygon points="17.3,24.4 21.3,23.4 24.0,26.0 22.4,28.9 18.3,28.5" fill="#2e70bf" stroke="#fff" stroke-width="0.4" stroke-linejoin="miter"/>
<polygon points="39.6,25.4 47.8,23.4 53.9,25.4 54.9,30.5 51.8,36.6 46.7,39.6 41.7,37.6 39.6,30.5" fill="#2a62ac" stroke="#fff" stroke-width="0.4" stroke-linejoin="miter"/>
<polygon points="30.5,47.8 35.6,40.7 40.7,38.6 44.7,41.7 46.7,47.8 53.9,48.8 58.9,53.9 61.0,61.0 60.0,69.1 54.9,76.2 46.7,78.3 39.6,76.2 36.6,70.1 37.6,61.0 33.5,54.9" fill="#3a7ec8" stroke="#fff" stroke-width="0.4" stroke-linejoin="miter"/>
<polygon points="37.6,61.0 61.0,61.0 60.0,69.1 54.9,76.2 46.7,78.3 39.6,76.2 36.6,70.1" fill="#4b8bc6" stroke="#fff" stroke-width="0.4" stroke-linejoin="miter"/>
<polygon points="45.7,47.8 52.8,48.8 57.9,53.9 56.9,57.9 51.8,56.9 47.8,53.9" fill="#5a9ad2" stroke="#fff" stroke-width="0.4" stroke-linejoin="miter"/>
<polygon points="49.8,54.5 57.3,55.3 56.9,57.9 50.8,57.3" fill="#5a9ad2" stroke="#fff" stroke-width="0.4" stroke-linejoin="miter"/>
<polygon points="43.7,43.9 48.8,40.7 53.9,36.6 56.9,30.5 57.9,28.0 68.9,28.0 70.5,29.1 68.9,36.0 62.0,40.0 55.1,43.1 50.0,45.9" fill="#f8824e" stroke="#fff" stroke-width="0.4" stroke-linejoin="miter"/>
<polygon points="55.1,43.1 62.0,40.0 68.9,36.0 69.9,38.4 76.0,43.1 80.9,48.4 77.2,54.1 73.0,57.5 66.1,56.1 60.0,52.0 55.5,47.0" fill="#f55a36" stroke="#fff" stroke-width="0.4" stroke-linejoin="miter"/>
<polygon points="54.9,24.4 57.3,18.3 62.0,14.6 70.1,14.6 71.5,20.3 70.9,24.8 68.9,28.0 57.9,28.0" fill="#ee4630" stroke="#fff" stroke-width="0.4" stroke-linejoin="miter"/>
<polygon points="70.9,24.8 76.0,22.8 81.9,26.4 86.4,33.5 85.4,41.7 81.3,46.7 76.0,43.1 69.9,38.4 68.9,36.0 70.5,29.1" fill="#f88c58" stroke="#fff" stroke-width="0.4" stroke-linejoin="miter"/>
<polygon points="71.5,20.3 74.0,17.1 79.1,17.9 82.5,22.4 76.0,22.8 70.9,24.8" fill="#f47a4a" stroke="#fff" stroke-width="0.4" stroke-linejoin="miter"/>
<polygon points="76.2,61.0 79.3,54.9 82.3,52.8 83.7,55.9 82.3,62.0 79.3,65.0 76.8,64.6" fill="#b7d9ea" stroke="#fff" stroke-width="0.4" stroke-linejoin="miter"/>
<polygon points="77.2,69.1 82.3,66.1 85.0,69.1 83.7,75.2 80.3,77.2 77.2,74.2" fill="#ef6a42" stroke="#fff" stroke-width="0.4" stroke-linejoin="miter"/>
<polygon points="65.0,58.9 70.1,56.9 73.2,61.0 71.1,67.1 66.1,66.1" fill="#7fb6da" stroke="#fff" stroke-width="0.4" stroke-linejoin="miter"/>
<polygon points="45.7,18.3 49.8,16.3 53.9,18.3 53.9,21.3 49.8,22.8 46.3,21.3" fill="#5090ca" stroke="#fff" stroke-width="0.4" stroke-linejoin="miter"/>
<polygon points="22.8,18.7 28.5,14.6 35.6,14.2 39.0,17.9 37.6,21.3 30.5,22.4 24.0,21.5" fill="#2e70bf" stroke="#fff" stroke-width="0.4" stroke-linejoin="miter"/>
<polygon points="27.6,42.7 30.5,40.2 32.9,43.1 30.9,45.5" fill="#2e70bf" stroke="#fff" stroke-width="0.4" stroke-linejoin="miter"/>
</g>
<rect x="0" y="0" width="101" height="100" fill="url(#speck)"/></g>
</defs>
<text x="249.15" y="145.8" font-size="9" text-anchor="middle" fill="#262626">CD8</text>
<text x="366.15" y="145.8" font-size="9" text-anchor="middle" fill="#262626">CD4</text>
<text x="482.84999999999997" y="145.8" font-size="9" text-anchor="middle" fill="#262626">CD19</text>
<rect x="196.3" y="151.3" width="103.3" height="100.0" stroke="#cdcdcd" stroke-width="1.1" fill="none"/>
<use href="#map0" transform="translate(196.3 151.3)"/>
<rect x="297.5" y="150.9" width="2.3" height="100.0" fill="url(#cb)"/>
<text x="301.8" y="188.1" font-size="5.8" fill="#555">10⁴</text>
<text x="301.8" y="227.8" font-size="5.8" fill="#555">10³</text>
<rect x="313.3" y="151.3" width="103.3" height="100.0" stroke="#cdcdcd" stroke-width="1.1" fill="none"/>
<use href="#map1" transform="translate(313.3 151.3)"/>
<rect x="414.5" y="150.9" width="2.3" height="100.0" fill="url(#cb)"/>
<text x="418.8" y="163.6" font-size="5.8" fill="#555">10⁵</text>
<text x="418.8" y="181.4" font-size="5.8" fill="#555">10⁴</text>
<text x="418.8" y="198.6" font-size="5.8" fill="#555">10³</text>
<text x="418.8" y="216.5" font-size="5.8" fill="#555">10²</text>
<text x="418.8" y="234.4" font-size="5.8" fill="#555">10¹</text>
<text x="418.8" y="251.8" font-size="5.8" fill="#555">0</text>
<rect x="430.0" y="151.3" width="103.3" height="100.0" stroke="#cdcdcd" stroke-width="1.1" fill="none"/>
<use href="#map2" transform="translate(430.0 151.3)"/>
<rect x="531.2" y="150.9" width="2.3" height="100.0" fill="url(#cb)"/>
<text x="535.5" y="180.3" font-size="5.8" fill="#555">10⁵</text>
<text x="535.5" y="206.8" font-size="5.8" fill="#555">10⁴</text>
<text x="535.5" y="233.5" font-size="5.8" fill="#555">10³</text>
<rect x="196.3" y="262.6" width="103.3" height="100.0" stroke="#cdcdcd" stroke-width="1.1" fill="none"/>
<use href="#map0" transform="translate(196.3 262.6)"/>
<rect x="297.5" y="262.20000000000005" width="2.3" height="100.0" fill="url(#cb)"/>
<text x="301.8" y="299.4" font-size="5.8" fill="#555">10⁴</text>
<text x="301.8" y="339.1" font-size="5.8" fill="#555">10³</text>
<rect x="313.3" y="262.6" width="103.3" height="100.0" stroke="#cdcdcd" stroke-width="1.1" fill="none"/>
<use href="#map1" transform="translate(313.3 262.6)"/>
<rect x="414.5" y="262.20000000000005" width="2.3" height="100.0" fill="url(#cb)"/>
<text x="418.8" y="274.9" font-size="5.8" fill="#555">10⁵</text>
<text x="418.8" y="292.7" font-size="5.8" fill="#555">10⁴</text>
<text x="418.8" y="309.9" font-size="5.8" fill="#555">10³</text>
<text x="418.8" y="327.8" font-size="5.8" fill="#555">10²</text>
<text x="418.8" y="345.7" font-size="5.8" fill="#555">10¹</text>
<text x="418.8" y="363.1" font-size="5.8" fill="#555">0</text>
<rect x="430.0" y="262.6" width="103.3" height="100.0" stroke="#cdcdcd" stroke-width="1.1" fill="none"/>
<use href="#map2" transform="translate(430.0 262.6)"/>
<rect x="531.2" y="262.20000000000005" width="2.3" height="100.0" fill="url(#cb)"/>
<text x="535.5" y="291.6" font-size="5.8" fill="#555">10⁵</text>
<text x="535.5" y="318.1" font-size="5.8" fill="#555">10⁴</text>
<text x="535.5" y="344.8" font-size="5.8" fill="#555">10³</text>
<rect x="196.3" y="374.4" width="103.3" height="100.0" stroke="#cdcdcd" stroke-width="1.1" fill="none"/>
<use href="#map0" transform="translate(196.3 374.4)"/>
<rect x="297.5" y="374.0" width="2.3" height="100.0" fill="url(#cb)"/>
<text x="301.8" y="411.2" font-size="5.8" fill="#555">10⁴</text>
<text x="301.8" y="450.9" font-size="5.8" fill="#555">10³</text>
<rect x="313.3" y="374.4" width="103.3" height="100.0" stroke="#cdcdcd" stroke-width="1.1" fill="none"/>
<use href="#map1" transform="translate(313.3 374.4)"/>
<rect x="414.5" y="374.0" width="2.3" height="100.0" fill="url(#cb)"/>
<text x="418.8" y="386.7" font-size="5.8" fill="#555">10⁵</text>
<text x="418.8" y="404.5" font-size="5.8" fill="#555">10⁴</text>
<text x="418.8" y="421.7" font-size="5.8" fill="#555">10³</text>
<text x="418.8" y="439.6" font-size="5.8" fill="#555">10²</text>
<text x="418.8" y="457.5" font-size="5.8" fill="#555">10¹</text>
<text x="418.8" y="474.9" font-size="5.8" fill="#555">0</text>
<rect x="430.0" y="374.4" width="103.3" height="100.0" stroke="#cdcdcd" stroke-width="1.1" fill="none"/>
<use href="#map2" transform="translate(430.0 374.4)"/>
<rect x="531.2" y="374.0" width="2.3" height="100.0" fill="url(#cb)"/>
<text x="535.5" y="403.4" font-size="5.8" fill="#555">10⁵</text>
<text x="535.5" y="429.9" font-size="5.8" fill="#555">10⁴</text>
<text x="535.5" y="456.6" font-size="5.8" fill="#555">10³</text>
<text x="181.6" y="201.3" font-size="9.2" text-anchor="middle" fill="#262626" transform="rotate(-90 181.6 201.3)">ASyS</text>
<text x="181.6" y="312.6" font-size="9.2" text-anchor="middle" fill="#262626" transform="rotate(-90 181.6 312.6)">DM</text>
<text x="181.6" y="424.4" font-size="9.2" text-anchor="middle" fill="#262626" transform="rotate(-90 181.6 424.4)">IBM</text>
<line x1="188.8" y1="156" x2="188.8" y2="434.6" stroke="#8f8f8f" stroke-width="1.3"/>
<path d="M188.9 151.8 L187.2 156.6 L190.6 156.6 Z" fill="#333"/>
<text x="192.0" y="456.5" font-size="9.1" text-anchor="middle" fill="#262626" transform="rotate(-90 192.0 456.5)">opt-sne1</text>
<text x="198.7" y="485.5" font-size="9.1" text-anchor="start" fill="#262626">opt-sne2</text>
<line x1="235.6" y1="482.5" x2="528" y2="482.5" stroke="#8f8f8f" stroke-width="1.3"/>
<path d="M533 482.5 L528.2 480.8 L528.2 484.2 Z" fill="#333"/>
</svg></body></html>
